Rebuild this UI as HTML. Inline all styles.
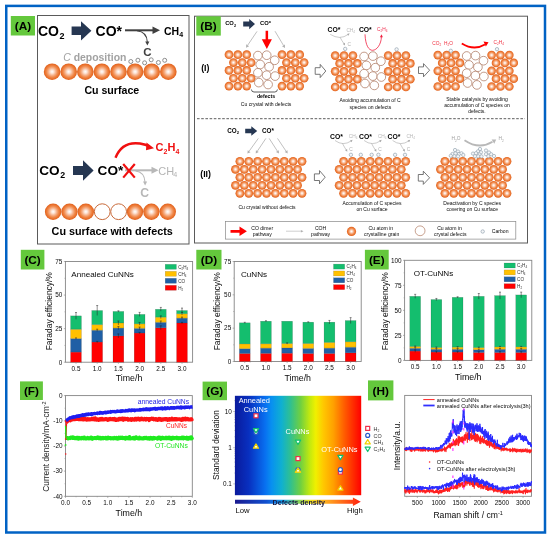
<!DOCTYPE html><html><head><meta charset="utf-8"><style>html,body{margin:0;padding:0;background:#fff;}svg{display:block;filter:blur(0.35px);}text{font-family:"Liberation Sans", sans-serif;}</style></head><body>
<svg width="550" height="538" viewBox="0 0 550 538">
<defs>
<radialGradient id="gb" cx="50%" cy="50%" r="50%">
<stop offset="0%" stop-color="#ffffff"/><stop offset="20%" stop-color="#fce4d6"/><stop offset="45%" stop-color="#f6b088"/><stop offset="68%" stop-color="#f08848"/><stop offset="88%" stop-color="#e96e2a"/><stop offset="100%" stop-color="#dc5f1a"/>
</radialGradient>
<linearGradient id="jet" x1="0" x2="1" y1="0" y2="0">
<stop offset="0%" stop-color="#0a1a9c"/><stop offset="11%" stop-color="#0830c0"/><stop offset="24%" stop-color="#0870f0"/><stop offset="29%" stop-color="#0890f0"/><stop offset="37%" stop-color="#10b0d0"/><stop offset="44%" stop-color="#30c090"/><stop offset="52%" stop-color="#70d040"/><stop offset="59%" stop-color="#c0e810"/><stop offset="64%" stop-color="#f0f000"/><stop offset="70%" stop-color="#ffc800"/><stop offset="78%" stop-color="#ffa000"/><stop offset="87%" stop-color="#ff5a00"/><stop offset="100%" stop-color="#ff0000"/>
</linearGradient>
<linearGradient id="jetarrow" x1="0" x2="1" y1="0" y2="0">
<stop offset="0%" stop-color="#1a1a90"/><stop offset="25%" stop-color="#1050d0"/><stop offset="38%" stop-color="#10a0f0"/><stop offset="50%" stop-color="#80d060"/><stop offset="60%" stop-color="#f0e020"/><stop offset="75%" stop-color="#ffa020"/><stop offset="100%" stop-color="#ff2010"/>
</linearGradient>
<linearGradient id="gwhite" x1="0" x2="0" y1="0" y2="1">
<stop offset="0%" stop-color="#fff" stop-opacity="0.25"/><stop offset="25%" stop-color="#fff" stop-opacity="0"/>
</linearGradient>
</defs>
<rect x="6.25" y="5.9" width="538.75" height="526.6" fill="none" stroke="#0062c4" stroke-width="2.5"/>
<rect x="10.8" y="16" width="24.2" height="19.5" fill="#64c83c"/>
<text x="22.9" y="29.85" font-size="11.8" fill="#000" font-weight="bold" text-anchor="middle" >(A)</text>
<rect x="37.5" y="15.5" width="151.5" height="228.5" fill="none" stroke="#5a5a5a" stroke-width="1"/>
<text x="38" y="36" font-size="14" fill="#000" font-weight="bold" text-anchor="start" >CO</text>
<text x="59.5" y="39" font-size="9" fill="#000" font-weight="bold" text-anchor="start" >2</text>
<polygon points="71.60,26.50 81.00,26.50 81.00,21.20 91.40,30.80 81.00,40.40 81.00,35.10 71.60,35.10" fill="#263752"/>
<text x="95.6" y="36" font-size="14" fill="#000" font-weight="bold" text-anchor="start" >CO*</text>
<line x1="125" y1="30.3" x2="155" y2="30.3" stroke="#404040" stroke-width="2"/>
<polygon points="152.5,26.6 160,30.3 152.5,34" fill="#404040"/>
<text x="164" y="34.5" font-size="10.5" fill="#000" font-weight="bold" text-anchor="start" >CH</text>
<text x="179.3" y="37" font-size="7" fill="#000" font-weight="bold" text-anchor="start" >4</text>
<path d="M137,30.8 Q147,32 147.3,42" fill="none" stroke="#404040" stroke-width="1.1"/>
<polygon points="145.2,41.5 147.4,45.5 149.4,41.5" fill="#404040"/>
<text x="143.2" y="56.3" font-size="11.5" fill="#404040" font-weight="bold" text-anchor="start" >C</text>
<text x="63.2" y="60.5" font-size="11.2" fill="#a2a2a2" font-weight="bold" text-anchor="start" textLength="63.2" lengthAdjust="spacingAndGlyphs"><tspan font-style="italic" font-weight="normal">C</tspan> deposition</text>
<circle cx="130.8" cy="61.5" r="2.0" fill="#fff" stroke="#8c8c8c" stroke-width="1.0"/>
<circle cx="137.9" cy="60.2" r="2.0" fill="#fff" stroke="#8c8c8c" stroke-width="1.0"/>
<circle cx="144.6" cy="62.8" r="2.0" fill="#fff" stroke="#8c8c8c" stroke-width="1.0"/>
<circle cx="151.2" cy="59.8" r="2.0" fill="#fff" stroke="#8c8c8c" stroke-width="1.0"/>
<circle cx="158.4" cy="62.5" r="2.0" fill="#fff" stroke="#8c8c8c" stroke-width="1.0"/>
<circle cx="164.7" cy="60.3" r="2.0" fill="#fff" stroke="#8c8c8c" stroke-width="1.0"/>
<circle cx="52.10" cy="71.70" r="8.3" fill="url(#gb)"/>
<circle cx="68.70" cy="71.70" r="8.3" fill="url(#gb)"/>
<circle cx="85.30" cy="71.70" r="8.3" fill="url(#gb)"/>
<circle cx="101.90" cy="71.70" r="8.3" fill="url(#gb)"/>
<circle cx="118.50" cy="71.70" r="8.3" fill="url(#gb)"/>
<circle cx="135.10" cy="71.70" r="8.3" fill="url(#gb)"/>
<circle cx="151.70" cy="71.70" r="8.3" fill="url(#gb)"/>
<circle cx="168.30" cy="71.70" r="8.3" fill="url(#gb)"/>
<text x="111.8" y="94" font-size="10.6" fill="#000" font-weight="bold" text-anchor="middle" >Cu surface</text>
<text x="39.2" y="175" font-size="13.6" fill="#000" font-weight="bold" text-anchor="start" >CO</text>
<text x="60.2" y="178" font-size="8.8" fill="#000" font-weight="bold" text-anchor="start" >2</text>
<polygon points="73.00,166.00 83.00,166.00 83.00,160.25 93.60,170.50 83.00,180.75 83.00,175.00 73.00,175.00" fill="#263752"/>
<text x="97.6" y="175" font-size="13.6" fill="#000" font-weight="bold" text-anchor="start" >CO*</text>
<line x1="125" y1="170.3" x2="153" y2="170.3" stroke="#b8b8b8" stroke-width="2"/>
<polygon points="151.5,166.8 158.5,170.3 151.5,173.8" fill="#b8b8b8"/>
<text x="158.2" y="174.6" font-size="11" fill="#b4b4b4" font-weight="normal" text-anchor="start" >CH</text>
<text x="173.2" y="177.2" font-size="7.2" fill="#b4b4b4" font-weight="normal" text-anchor="start" >4</text>
<path d="M135.5,171 Q144.5,172 145,182" fill="none" stroke="#b8b8b8" stroke-width="1.1"/>
<polygon points="143,181.5 145.1,185.5 147.1,181.5" fill="#b8b8b8"/>
<text x="140.2" y="196.6" font-size="12.2" fill="#b8b8b8" font-weight="bold" text-anchor="start" >C</text>
<path d="M123.2,164 L134.8,177.6 M134.8,164 L123.2,177.6" stroke="#f01010" stroke-width="2.2"/>
<path d="M115.5,157.8 Q122,141 140,143.5 Q146,144.5 149.5,146.5" fill="none" stroke="#f01010" stroke-width="2.4"/>
<polygon points="146.5,142.5 154,148.2 146,150.2" fill="#f01010"/>
<text x="155.6" y="151.3" font-size="11" fill="#f01010" font-weight="bold" text-anchor="start" >C</text>
<text x="163.6" y="153.5" font-size="7" fill="#f01010" font-weight="bold" text-anchor="start" >2</text>
<text x="167.5" y="151.3" font-size="11" fill="#f01010" font-weight="bold" text-anchor="start" >H</text>
<text x="175.6" y="153.5" font-size="7" fill="#f01010" font-weight="bold" text-anchor="start" >4</text>
<circle cx="53.10" cy="211.70" r="8.2" fill="url(#gb)"/>
<circle cx="69.48" cy="211.70" r="8.2" fill="url(#gb)"/>
<circle cx="85.86" cy="211.70" r="8.2" fill="url(#gb)"/>
<circle cx="102.24" cy="211.70" r="7.9" fill="#fff" stroke="#c86a3a" stroke-width="1.0"/>
<circle cx="118.62" cy="211.70" r="7.9" fill="#fff" stroke="#c86a3a" stroke-width="1.0"/>
<circle cx="135.00" cy="211.70" r="8.2" fill="url(#gb)"/>
<circle cx="151.38" cy="211.70" r="8.2" fill="url(#gb)"/>
<circle cx="167.76" cy="211.70" r="8.2" fill="url(#gb)"/>
<text x="112.2" y="235" font-size="10.8" fill="#000" font-weight="bold" text-anchor="middle" >Cu surface with defects</text>
<rect x="194.5" y="16.2" width="333" height="226.8" fill="none" stroke="#5a5a5a" stroke-width="1"/>
<rect x="196.3" y="16.3" width="24.5" height="19.3" fill="#64c83c"/>
<text x="208.55" y="30.050000000000004" font-size="11.8" fill="#000" font-weight="bold" text-anchor="middle" >(B)</text>
<line x1="197" y1="118.7" x2="525" y2="118.7" stroke="#333" stroke-width="0.8" stroke-dasharray="2.6,1.6"/>
<text x="205.3" y="71.0" font-size="8.8" fill="#000" font-weight="bold" text-anchor="middle" >(I)</text>
<text x="205.6" y="176.7" font-size="8.8" fill="#000" font-weight="bold" text-anchor="middle" >(II)</text>
<text x="225.2" y="25.4" font-size="5.8" fill="#000" font-weight="bold" text-anchor="start" ><tspan dy="0.00">CO</tspan><tspan font-size="3.77" dy="1.45">2</tspan></text>
<polygon points="243.20,21.60 249.20,21.60 249.20,19.00 255.00,24.10 249.20,29.20 249.20,26.60 243.20,26.60" fill="#263752"/>
<text x="260" y="25.4" font-size="5.8" fill="#000" font-weight="bold" text-anchor="start" >CO*</text>
<line x1="257.00" y1="31.40" x2="247.68" y2="45.21" stroke="#b0b0b0" stroke-width="0.8"/>
<polygon points="246.00,47.70 246.27,44.26 249.09,46.16" fill="#b0b0b0"/>
<line x1="275.00" y1="31.20" x2="283.47" y2="45.42" stroke="#b0b0b0" stroke-width="0.8"/>
<polygon points="285.00,48.00 282.00,46.29 284.93,44.55" fill="#b0b0b0"/>
<polygon points="265.6,30.8 268.1,30.8 268.1,39.2 271.9,39.2 266.85,49.1 261.8,39.2 265.6,39.2" fill="#f00"/>
<circle cx="229.00" cy="54.70" r="4.35" fill="url(#gb)"/>
<circle cx="237.85" cy="54.70" r="4.35" fill="url(#gb)"/>
<circle cx="246.70" cy="54.70" r="4.35" fill="url(#gb)"/>
<circle cx="233.43" cy="62.55" r="4.35" fill="url(#gb)"/>
<circle cx="242.28" cy="62.55" r="4.35" fill="url(#gb)"/>
<circle cx="251.12" cy="62.55" r="4.35" fill="url(#gb)"/>
<circle cx="229.00" cy="70.40" r="4.35" fill="url(#gb)"/>
<circle cx="237.85" cy="70.40" r="4.35" fill="url(#gb)"/>
<circle cx="246.70" cy="70.40" r="4.35" fill="url(#gb)"/>
<circle cx="233.43" cy="78.25" r="4.35" fill="url(#gb)"/>
<circle cx="242.28" cy="78.25" r="4.35" fill="url(#gb)"/>
<circle cx="251.12" cy="78.25" r="4.35" fill="url(#gb)"/>
<circle cx="229.00" cy="86.10" r="4.35" fill="url(#gb)"/>
<circle cx="237.85" cy="86.10" r="4.35" fill="url(#gb)"/>
<circle cx="246.70" cy="86.10" r="4.35" fill="url(#gb)"/>
<circle cx="282.00" cy="54.70" r="4.35" fill="url(#gb)"/>
<circle cx="290.85" cy="54.70" r="4.35" fill="url(#gb)"/>
<circle cx="299.70" cy="54.70" r="4.35" fill="url(#gb)"/>
<circle cx="286.43" cy="62.55" r="4.35" fill="url(#gb)"/>
<circle cx="295.28" cy="62.55" r="4.35" fill="url(#gb)"/>
<circle cx="304.12" cy="62.55" r="4.35" fill="url(#gb)"/>
<circle cx="282.00" cy="70.40" r="4.35" fill="url(#gb)"/>
<circle cx="290.85" cy="70.40" r="4.35" fill="url(#gb)"/>
<circle cx="299.70" cy="70.40" r="4.35" fill="url(#gb)"/>
<circle cx="286.43" cy="78.25" r="4.35" fill="url(#gb)"/>
<circle cx="295.28" cy="78.25" r="4.35" fill="url(#gb)"/>
<circle cx="304.12" cy="78.25" r="4.35" fill="url(#gb)"/>
<circle cx="282.00" cy="86.10" r="4.35" fill="url(#gb)"/>
<circle cx="290.85" cy="86.10" r="4.35" fill="url(#gb)"/>
<circle cx="299.70" cy="86.10" r="4.35" fill="url(#gb)"/>
<circle cx="257.90" cy="55.60" r="4.35" fill="#fff" stroke="#a86e55" stroke-width="0.7"/>
<circle cx="266.70" cy="55.20" r="4.35" fill="#fff" stroke="#a86e55" stroke-width="0.7"/>
<circle cx="274.70" cy="60.30" r="4.35" fill="#fff" stroke="#a86e55" stroke-width="0.7"/>
<circle cx="260.20" cy="64.50" r="4.35" fill="#fff" stroke="#a86e55" stroke-width="0.7"/>
<circle cx="269.10" cy="66.80" r="4.35" fill="#fff" stroke="#a86e55" stroke-width="0.7"/>
<circle cx="257.90" cy="72.80" r="4.35" fill="#fff" stroke="#a86e55" stroke-width="0.7"/>
<circle cx="266.60" cy="75.20" r="4.35" fill="#fff" stroke="#a86e55" stroke-width="0.7"/>
<circle cx="275.10" cy="76.10" r="4.35" fill="#fff" stroke="#a86e55" stroke-width="0.7"/>
<circle cx="258.80" cy="82.60" r="4.35" fill="#fff" stroke="#a86e55" stroke-width="0.7"/>
<circle cx="268.10" cy="84.50" r="4.35" fill="#fff" stroke="#a86e55" stroke-width="0.7"/>
<path d="M251.4,89.5 Q251.6,92 254,92 L274.8,92 Q277.2,92 277.4,89.5" fill="none" stroke="#333" stroke-width="0.8"/>
<text x="266" y="97.6" font-size="5.2" fill="#000" font-weight="bold" text-anchor="middle" >defects</text>
<text x="266.1" y="106.4" font-size="5.05" fill="#0a0a0a" font-weight="normal" text-anchor="middle" >Cu crystal with defects</text>
<polygon points="315.20,67.70 320.20,67.70 320.20,64.40 325.80,71.00 320.20,77.60 320.20,74.30 315.20,74.30" fill="#fff" stroke="#555" stroke-width="0.8"/>
<circle cx="335.20" cy="55.60" r="4.35" fill="url(#gb)"/>
<circle cx="344.05" cy="55.60" r="4.35" fill="url(#gb)"/>
<circle cx="352.90" cy="55.60" r="4.35" fill="url(#gb)"/>
<circle cx="339.62" cy="63.45" r="4.35" fill="url(#gb)"/>
<circle cx="348.48" cy="63.45" r="4.35" fill="url(#gb)"/>
<circle cx="357.32" cy="63.45" r="4.35" fill="url(#gb)"/>
<circle cx="335.20" cy="71.30" r="4.35" fill="url(#gb)"/>
<circle cx="344.05" cy="71.30" r="4.35" fill="url(#gb)"/>
<circle cx="352.90" cy="71.30" r="4.35" fill="url(#gb)"/>
<circle cx="339.62" cy="79.15" r="4.35" fill="url(#gb)"/>
<circle cx="348.48" cy="79.15" r="4.35" fill="url(#gb)"/>
<circle cx="357.32" cy="79.15" r="4.35" fill="url(#gb)"/>
<circle cx="335.20" cy="87.00" r="4.35" fill="url(#gb)"/>
<circle cx="344.05" cy="87.00" r="4.35" fill="url(#gb)"/>
<circle cx="352.90" cy="87.00" r="4.35" fill="url(#gb)"/>
<circle cx="388.20" cy="55.60" r="4.35" fill="url(#gb)"/>
<circle cx="397.05" cy="55.60" r="4.35" fill="url(#gb)"/>
<circle cx="405.90" cy="55.60" r="4.35" fill="url(#gb)"/>
<circle cx="392.62" cy="63.45" r="4.35" fill="url(#gb)"/>
<circle cx="401.48" cy="63.45" r="4.35" fill="url(#gb)"/>
<circle cx="410.32" cy="63.45" r="4.35" fill="url(#gb)"/>
<circle cx="388.20" cy="71.30" r="4.35" fill="url(#gb)"/>
<circle cx="397.05" cy="71.30" r="4.35" fill="url(#gb)"/>
<circle cx="405.90" cy="71.30" r="4.35" fill="url(#gb)"/>
<circle cx="392.62" cy="79.15" r="4.35" fill="url(#gb)"/>
<circle cx="401.48" cy="79.15" r="4.35" fill="url(#gb)"/>
<circle cx="410.32" cy="79.15" r="4.35" fill="url(#gb)"/>
<circle cx="388.20" cy="87.00" r="4.35" fill="url(#gb)"/>
<circle cx="397.05" cy="87.00" r="4.35" fill="url(#gb)"/>
<circle cx="405.90" cy="87.00" r="4.35" fill="url(#gb)"/>
<circle cx="364.10" cy="56.50" r="4.35" fill="#fff" stroke="#a86e55" stroke-width="0.7"/>
<circle cx="372.90" cy="56.10" r="4.35" fill="#fff" stroke="#a86e55" stroke-width="0.7"/>
<circle cx="380.90" cy="61.20" r="4.35" fill="#fff" stroke="#a86e55" stroke-width="0.7"/>
<circle cx="366.40" cy="65.40" r="4.35" fill="#fff" stroke="#a86e55" stroke-width="0.7"/>
<circle cx="375.30" cy="67.70" r="4.35" fill="#fff" stroke="#a86e55" stroke-width="0.7"/>
<circle cx="364.10" cy="73.70" r="4.35" fill="#fff" stroke="#a86e55" stroke-width="0.7"/>
<circle cx="372.80" cy="76.10" r="4.35" fill="#fff" stroke="#a86e55" stroke-width="0.7"/>
<circle cx="381.30" cy="77.00" r="4.35" fill="#fff" stroke="#a86e55" stroke-width="0.7"/>
<circle cx="365.00" cy="83.50" r="4.35" fill="#fff" stroke="#a86e55" stroke-width="0.7"/>
<circle cx="374.30" cy="85.40" r="4.35" fill="#fff" stroke="#a86e55" stroke-width="0.7"/>
<text x="327.5" y="32" font-size="6.8" fill="#000" font-weight="bold" text-anchor="start" >CO*</text>
<text x="346.4" y="31.6" font-size="4.8" fill="#b8b8b8" font-weight="normal" text-anchor="start" ><tspan dy="0.00">CH</tspan><tspan font-size="3.12" dy="1.20">4</tspan></text>
<path d="M330.2,34.3 Q340,40.5 348.2,34.4" fill="none" stroke="#a8a8a8" stroke-width="0.6"/>
<polygon points="349.60,33.30 348.53,35.76 346.99,33.92" fill="#a8a8a8"/>
<path d="M340,37.2 Q342,41 344.2,44" fill="none" stroke="#a8a8a8" stroke-width="0.6"/>
<polygon points="345.00,45.50 342.76,44.02 344.84,42.82" fill="#a8a8a8"/>
<text x="347.6" y="46.2" font-size="4.8" fill="#b0b0b0" font-weight="normal" text-anchor="start" >C</text>
<circle cx="345.20" cy="48.90" r="1.7" fill="#f4f6f8" stroke="#95a4b0" stroke-width="0.7"/>
<text x="358.9" y="32" font-size="6.8" fill="#000" font-weight="bold" text-anchor="start" >CO*</text>
<text x="377" y="31.2" font-size="4.8" fill="#f03050" font-weight="normal" text-anchor="start" ><tspan dy="0.00">C</tspan><tspan font-size="3.12" dy="1.20">2</tspan><tspan dy="-1.20">H</tspan><tspan font-size="3.12" dy="1.20">4</tspan></text>
<path d="M365,34.3 C365.5,46 369,50.3 372.5,50.3 C377,50.3 381.2,44 381.4,37" fill="none" stroke="#f02040" stroke-width="0.8"/>
<polygon points="381.50,34.20 382.89,37.25 379.90,37.15" fill="#f02040"/>
<circle cx="396.60" cy="49.40" r="1.7" fill="#f4f6f8" stroke="#95a4b0" stroke-width="0.7"/>
<text x="370.1" y="102.4" font-size="5.05" fill="#0a0a0a" font-weight="normal" text-anchor="middle" >Avoiding accumulation of C</text>
<text x="370.3" y="108.8" font-size="5.05" fill="#0a0a0a" font-weight="normal" text-anchor="middle" >species on defects</text>
<polygon points="418.50,66.90 423.50,66.90 423.50,63.60 429.60,70.20 423.50,76.80 423.50,73.50 418.50,73.50" fill="#fff" stroke="#555" stroke-width="0.8"/>
<circle cx="437.80" cy="55.10" r="4.35" fill="url(#gb)"/>
<circle cx="446.65" cy="55.10" r="4.35" fill="url(#gb)"/>
<circle cx="455.50" cy="55.10" r="4.35" fill="url(#gb)"/>
<circle cx="442.23" cy="62.95" r="4.35" fill="url(#gb)"/>
<circle cx="451.08" cy="62.95" r="4.35" fill="url(#gb)"/>
<circle cx="459.93" cy="62.95" r="4.35" fill="url(#gb)"/>
<circle cx="437.80" cy="70.80" r="4.35" fill="url(#gb)"/>
<circle cx="446.65" cy="70.80" r="4.35" fill="url(#gb)"/>
<circle cx="455.50" cy="70.80" r="4.35" fill="url(#gb)"/>
<circle cx="442.23" cy="78.65" r="4.35" fill="url(#gb)"/>
<circle cx="451.08" cy="78.65" r="4.35" fill="url(#gb)"/>
<circle cx="459.93" cy="78.65" r="4.35" fill="url(#gb)"/>
<circle cx="437.80" cy="86.50" r="4.35" fill="url(#gb)"/>
<circle cx="446.65" cy="86.50" r="4.35" fill="url(#gb)"/>
<circle cx="455.50" cy="86.50" r="4.35" fill="url(#gb)"/>
<circle cx="491.60" cy="55.10" r="4.35" fill="url(#gb)"/>
<circle cx="500.45" cy="55.10" r="4.35" fill="url(#gb)"/>
<circle cx="509.30" cy="55.10" r="4.35" fill="url(#gb)"/>
<circle cx="496.03" cy="62.95" r="4.35" fill="url(#gb)"/>
<circle cx="504.88" cy="62.95" r="4.35" fill="url(#gb)"/>
<circle cx="513.73" cy="62.95" r="4.35" fill="url(#gb)"/>
<circle cx="491.60" cy="70.80" r="4.35" fill="url(#gb)"/>
<circle cx="500.45" cy="70.80" r="4.35" fill="url(#gb)"/>
<circle cx="509.30" cy="70.80" r="4.35" fill="url(#gb)"/>
<circle cx="496.03" cy="78.65" r="4.35" fill="url(#gb)"/>
<circle cx="504.88" cy="78.65" r="4.35" fill="url(#gb)"/>
<circle cx="513.73" cy="78.65" r="4.35" fill="url(#gb)"/>
<circle cx="491.60" cy="86.50" r="4.35" fill="url(#gb)"/>
<circle cx="500.45" cy="86.50" r="4.35" fill="url(#gb)"/>
<circle cx="509.30" cy="86.50" r="4.35" fill="url(#gb)"/>
<circle cx="466.70" cy="56.00" r="4.35" fill="#fff" stroke="#a86e55" stroke-width="0.7"/>
<circle cx="475.50" cy="55.60" r="4.35" fill="#fff" stroke="#a86e55" stroke-width="0.7"/>
<circle cx="483.50" cy="60.70" r="4.35" fill="#fff" stroke="#a86e55" stroke-width="0.7"/>
<circle cx="469.00" cy="64.90" r="4.35" fill="#fff" stroke="#a86e55" stroke-width="0.7"/>
<circle cx="477.90" cy="67.20" r="4.35" fill="#fff" stroke="#a86e55" stroke-width="0.7"/>
<circle cx="466.70" cy="73.20" r="4.35" fill="#fff" stroke="#a86e55" stroke-width="0.7"/>
<circle cx="475.40" cy="75.60" r="4.35" fill="#fff" stroke="#a86e55" stroke-width="0.7"/>
<circle cx="483.90" cy="76.50" r="4.35" fill="#fff" stroke="#a86e55" stroke-width="0.7"/>
<circle cx="467.60" cy="83.00" r="4.35" fill="#fff" stroke="#a86e55" stroke-width="0.7"/>
<circle cx="476.90" cy="84.90" r="4.35" fill="#fff" stroke="#a86e55" stroke-width="0.7"/>
<text x="432.3" y="45" font-size="4.8" fill="#f03040" font-weight="normal" text-anchor="start" ><tspan dy="0.00">CO</tspan><tspan font-size="3.12" dy="1.20">2</tspan></text>
<text x="444" y="45" font-size="4.8" fill="#f03040" font-weight="normal" text-anchor="start" ><tspan dy="0.00">H</tspan><tspan font-size="3.12" dy="1.20">2</tspan><tspan dy="-1.20">O</tspan></text>
<path d="M461.8,43.5 Q474,51 485,44.5" fill="none" stroke="#f00" stroke-width="2"/>
<polygon points="488.50,42.20 485.88,46.51 483.51,41.44" fill="#f00"/>
<text x="493.6" y="44" font-size="4.8" fill="#f03040" font-weight="normal" text-anchor="start" ><tspan dy="0.00">C</tspan><tspan font-size="3.12" dy="1.20">2</tspan><tspan dy="-1.20">H</tspan><tspan font-size="3.12" dy="1.20">4</tspan></text>
<circle cx="450.80" cy="50.80" r="1.7" fill="#f4f6f8" stroke="#95a4b0" stroke-width="0.7"/>
<circle cx="497.00" cy="49.20" r="1.7" fill="#f4f6f8" stroke="#95a4b0" stroke-width="0.7"/>
<text x="477" y="100.6" font-size="5.03" fill="#0a0a0a" font-weight="normal" text-anchor="middle" >Stable catalysis by  avoiding</text>
<text x="477" y="106.6" font-size="5.03" fill="#0a0a0a" font-weight="normal" text-anchor="middle" >accumulation of C species on</text>
<text x="477" y="112.6" font-size="5.03" fill="#0a0a0a" font-weight="normal" text-anchor="middle" >defects.</text>
<text x="227.2" y="132.8" font-size="6.3" fill="#000" font-weight="bold" text-anchor="start" ><tspan dy="0.00">CO</tspan><tspan font-size="4.09" dy="1.57">2</tspan></text>
<polygon points="245.20,128.70 251.30,128.70 251.30,126.30 257.20,131.00 251.30,135.70 251.30,133.30 245.20,133.30" fill="#263752"/>
<text x="262" y="132.8" font-size="6.3" fill="#000" font-weight="bold" text-anchor="start" >CO*</text>
<line x1="258.30" y1="138.40" x2="249.15" y2="151.16" stroke="#b0b0b0" stroke-width="0.8"/>
<polygon points="247.40,153.60 247.77,150.17 250.53,152.15" fill="#b0b0b0"/>
<line x1="265.90" y1="138.40" x2="257.37" y2="151.11" stroke="#b0b0b0" stroke-width="0.8"/>
<polygon points="255.70,153.60 255.96,150.16 258.78,152.06" fill="#b0b0b0"/>
<line x1="269.20" y1="138.40" x2="277.37" y2="151.08" stroke="#b0b0b0" stroke-width="0.8"/>
<polygon points="279.00,153.60 275.95,152.00 278.80,150.16" fill="#b0b0b0"/>
<line x1="277.50" y1="138.40" x2="286.03" y2="151.11" stroke="#b0b0b0" stroke-width="0.8"/>
<polygon points="287.70,153.60 284.62,152.06 287.44,150.16" fill="#b0b0b0"/>
<circle cx="239.90" cy="161.30" r="4.4" fill="url(#gb)"/>
<circle cx="248.77" cy="161.30" r="4.4" fill="url(#gb)"/>
<circle cx="257.64" cy="161.30" r="4.4" fill="url(#gb)"/>
<circle cx="266.51" cy="161.30" r="4.4" fill="url(#gb)"/>
<circle cx="275.38" cy="161.30" r="4.4" fill="url(#gb)"/>
<circle cx="284.25" cy="161.30" r="4.4" fill="url(#gb)"/>
<circle cx="293.12" cy="161.30" r="4.4" fill="url(#gb)"/>
<circle cx="301.99" cy="161.30" r="4.4" fill="url(#gb)"/>
<circle cx="235.47" cy="169.30" r="4.4" fill="url(#gb)"/>
<circle cx="244.34" cy="169.30" r="4.4" fill="url(#gb)"/>
<circle cx="253.21" cy="169.30" r="4.4" fill="url(#gb)"/>
<circle cx="262.07" cy="169.30" r="4.4" fill="url(#gb)"/>
<circle cx="270.94" cy="169.30" r="4.4" fill="url(#gb)"/>
<circle cx="279.81" cy="169.30" r="4.4" fill="url(#gb)"/>
<circle cx="288.69" cy="169.30" r="4.4" fill="url(#gb)"/>
<circle cx="297.56" cy="169.30" r="4.4" fill="url(#gb)"/>
<circle cx="239.90" cy="177.30" r="4.4" fill="url(#gb)"/>
<circle cx="248.77" cy="177.30" r="4.4" fill="url(#gb)"/>
<circle cx="257.64" cy="177.30" r="4.4" fill="url(#gb)"/>
<circle cx="266.51" cy="177.30" r="4.4" fill="url(#gb)"/>
<circle cx="275.38" cy="177.30" r="4.4" fill="url(#gb)"/>
<circle cx="284.25" cy="177.30" r="4.4" fill="url(#gb)"/>
<circle cx="293.12" cy="177.30" r="4.4" fill="url(#gb)"/>
<circle cx="301.99" cy="177.30" r="4.4" fill="url(#gb)"/>
<circle cx="235.47" cy="185.30" r="4.4" fill="url(#gb)"/>
<circle cx="244.34" cy="185.30" r="4.4" fill="url(#gb)"/>
<circle cx="253.21" cy="185.30" r="4.4" fill="url(#gb)"/>
<circle cx="262.07" cy="185.30" r="4.4" fill="url(#gb)"/>
<circle cx="270.94" cy="185.30" r="4.4" fill="url(#gb)"/>
<circle cx="279.81" cy="185.30" r="4.4" fill="url(#gb)"/>
<circle cx="288.69" cy="185.30" r="4.4" fill="url(#gb)"/>
<circle cx="297.56" cy="185.30" r="4.4" fill="url(#gb)"/>
<circle cx="239.90" cy="193.30" r="4.4" fill="url(#gb)"/>
<circle cx="248.77" cy="193.30" r="4.4" fill="url(#gb)"/>
<circle cx="257.64" cy="193.30" r="4.4" fill="url(#gb)"/>
<circle cx="266.51" cy="193.30" r="4.4" fill="url(#gb)"/>
<circle cx="275.38" cy="193.30" r="4.4" fill="url(#gb)"/>
<circle cx="284.25" cy="193.30" r="4.4" fill="url(#gb)"/>
<circle cx="293.12" cy="193.30" r="4.4" fill="url(#gb)"/>
<circle cx="301.99" cy="193.30" r="4.4" fill="url(#gb)"/>
<text x="267" y="209.3" font-size="5.03" fill="#0a0a0a" font-weight="normal" text-anchor="middle" >Cu crystal without defects</text>
<polygon points="314.40,173.90 319.50,173.90 319.50,170.60 325.20,177.20 319.50,183.80 319.50,180.50 314.40,180.50" fill="#fff" stroke="#555" stroke-width="0.8"/>
<circle cx="343.60" cy="161.30" r="4.4" fill="url(#gb)"/>
<circle cx="352.47" cy="161.30" r="4.4" fill="url(#gb)"/>
<circle cx="361.34" cy="161.30" r="4.4" fill="url(#gb)"/>
<circle cx="370.21" cy="161.30" r="4.4" fill="url(#gb)"/>
<circle cx="379.08" cy="161.30" r="4.4" fill="url(#gb)"/>
<circle cx="387.95" cy="161.30" r="4.4" fill="url(#gb)"/>
<circle cx="396.82" cy="161.30" r="4.4" fill="url(#gb)"/>
<circle cx="405.69" cy="161.30" r="4.4" fill="url(#gb)"/>
<circle cx="339.17" cy="169.30" r="4.4" fill="url(#gb)"/>
<circle cx="348.04" cy="169.30" r="4.4" fill="url(#gb)"/>
<circle cx="356.91" cy="169.30" r="4.4" fill="url(#gb)"/>
<circle cx="365.78" cy="169.30" r="4.4" fill="url(#gb)"/>
<circle cx="374.65" cy="169.30" r="4.4" fill="url(#gb)"/>
<circle cx="383.51" cy="169.30" r="4.4" fill="url(#gb)"/>
<circle cx="392.38" cy="169.30" r="4.4" fill="url(#gb)"/>
<circle cx="401.25" cy="169.30" r="4.4" fill="url(#gb)"/>
<circle cx="343.60" cy="177.30" r="4.4" fill="url(#gb)"/>
<circle cx="352.47" cy="177.30" r="4.4" fill="url(#gb)"/>
<circle cx="361.34" cy="177.30" r="4.4" fill="url(#gb)"/>
<circle cx="370.21" cy="177.30" r="4.4" fill="url(#gb)"/>
<circle cx="379.08" cy="177.30" r="4.4" fill="url(#gb)"/>
<circle cx="387.95" cy="177.30" r="4.4" fill="url(#gb)"/>
<circle cx="396.82" cy="177.30" r="4.4" fill="url(#gb)"/>
<circle cx="405.69" cy="177.30" r="4.4" fill="url(#gb)"/>
<circle cx="339.17" cy="185.30" r="4.4" fill="url(#gb)"/>
<circle cx="348.04" cy="185.30" r="4.4" fill="url(#gb)"/>
<circle cx="356.91" cy="185.30" r="4.4" fill="url(#gb)"/>
<circle cx="365.78" cy="185.30" r="4.4" fill="url(#gb)"/>
<circle cx="374.65" cy="185.30" r="4.4" fill="url(#gb)"/>
<circle cx="383.51" cy="185.30" r="4.4" fill="url(#gb)"/>
<circle cx="392.38" cy="185.30" r="4.4" fill="url(#gb)"/>
<circle cx="401.25" cy="185.30" r="4.4" fill="url(#gb)"/>
<circle cx="343.60" cy="193.30" r="4.4" fill="url(#gb)"/>
<circle cx="352.47" cy="193.30" r="4.4" fill="url(#gb)"/>
<circle cx="361.34" cy="193.30" r="4.4" fill="url(#gb)"/>
<circle cx="370.21" cy="193.30" r="4.4" fill="url(#gb)"/>
<circle cx="379.08" cy="193.30" r="4.4" fill="url(#gb)"/>
<circle cx="387.95" cy="193.30" r="4.4" fill="url(#gb)"/>
<circle cx="396.82" cy="193.30" r="4.4" fill="url(#gb)"/>
<circle cx="405.69" cy="193.30" r="4.4" fill="url(#gb)"/>
<text x="330" y="138.5" font-size="6.8" fill="#000" font-weight="bold" text-anchor="start" >CO*</text>
<text x="348.8" y="138" font-size="4.8" fill="#b8b8b8" font-weight="normal" text-anchor="start" ><tspan dy="0.00">CH</tspan><tspan font-size="3.12" dy="1.20">4</tspan></text>
<path d="M335,140.5 Q343,146.5 351.3,140.9" fill="none" stroke="#a8a8a8" stroke-width="0.6"/>
<polygon points="352.60,139.80 351.53,142.26 349.99,140.42" fill="#a8a8a8"/>
<path d="M342.5,143.5 Q344.5,147.5 346.4,150.2" fill="none" stroke="#a8a8a8" stroke-width="0.6"/>
<polygon points="347.30,151.80 345.06,150.32 347.14,149.12" fill="#a8a8a8"/>
<text x="349.2" y="151.4" font-size="4.8" fill="#b0b0b0" font-weight="normal" text-anchor="start" >C</text>
<text x="359.1" y="138.5" font-size="6.8" fill="#000" font-weight="bold" text-anchor="start" >CO*</text>
<text x="377.90000000000003" y="138" font-size="4.8" fill="#b8b8b8" font-weight="normal" text-anchor="start" ><tspan dy="0.00">CH</tspan><tspan font-size="3.12" dy="1.20">4</tspan></text>
<path d="M364.1,140.5 Q372.1,146.5 380.40000000000003,140.9" fill="none" stroke="#a8a8a8" stroke-width="0.6"/>
<polygon points="381.70,139.80 380.63,142.26 379.09,140.42" fill="#a8a8a8"/>
<path d="M371.6,143.5 Q373.6,147.5 375.5,150.2" fill="none" stroke="#a8a8a8" stroke-width="0.6"/>
<polygon points="376.40,151.80 374.16,150.32 376.24,149.12" fill="#a8a8a8"/>
<text x="378.3" y="151.4" font-size="4.8" fill="#b0b0b0" font-weight="normal" text-anchor="start" >C</text>
<text x="387.6" y="138.5" font-size="6.8" fill="#000" font-weight="bold" text-anchor="start" >CO*</text>
<text x="406.40000000000003" y="138" font-size="4.8" fill="#b8b8b8" font-weight="normal" text-anchor="start" ><tspan dy="0.00">CH</tspan><tspan font-size="3.12" dy="1.20">4</tspan></text>
<path d="M392.6,140.5 Q400.6,146.5 408.90000000000003,140.9" fill="none" stroke="#a8a8a8" stroke-width="0.6"/>
<polygon points="410.20,139.80 409.13,142.26 407.59,140.42" fill="#a8a8a8"/>
<path d="M400.1,143.5 Q402.1,147.5 404.0,150.2" fill="none" stroke="#a8a8a8" stroke-width="0.6"/>
<polygon points="404.90,151.80 402.66,150.32 404.74,149.12" fill="#a8a8a8"/>
<text x="406.8" y="151.4" font-size="4.8" fill="#b0b0b0" font-weight="normal" text-anchor="start" >C</text>
<circle cx="350.90" cy="154.80" r="1.7" fill="#f4f6f8" stroke="#95a4b0" stroke-width="0.7"/>
<circle cx="360.80" cy="154.80" r="1.7" fill="#f4f6f8" stroke="#95a4b0" stroke-width="0.7"/>
<circle cx="371.70" cy="154.80" r="1.7" fill="#f4f6f8" stroke="#95a4b0" stroke-width="0.7"/>
<circle cx="378.40" cy="154.80" r="1.7" fill="#f4f6f8" stroke="#95a4b0" stroke-width="0.7"/>
<circle cx="395.10" cy="154.80" r="1.7" fill="#f4f6f8" stroke="#95a4b0" stroke-width="0.7"/>
<circle cx="405.00" cy="154.80" r="1.7" fill="#f4f6f8" stroke="#95a4b0" stroke-width="0.7"/>
<text x="372" y="205.2" font-size="5.03" fill="#0a0a0a" font-weight="normal" text-anchor="middle" >Accumulation of C species</text>
<text x="372" y="211.3" font-size="5.03" fill="#0a0a0a" font-weight="normal" text-anchor="middle" >on Cu surface</text>
<polygon points="418.30,174.50 423.30,174.50 423.30,171.20 429.60,177.80 423.30,184.40 423.30,181.10 418.30,181.10" fill="#fff" stroke="#555" stroke-width="0.8"/>
<circle cx="444.90" cy="161.30" r="4.4" fill="url(#gb)"/>
<circle cx="453.77" cy="161.30" r="4.4" fill="url(#gb)"/>
<circle cx="462.64" cy="161.30" r="4.4" fill="url(#gb)"/>
<circle cx="471.51" cy="161.30" r="4.4" fill="url(#gb)"/>
<circle cx="480.38" cy="161.30" r="4.4" fill="url(#gb)"/>
<circle cx="489.25" cy="161.30" r="4.4" fill="url(#gb)"/>
<circle cx="498.12" cy="161.30" r="4.4" fill="url(#gb)"/>
<circle cx="506.99" cy="161.30" r="4.4" fill="url(#gb)"/>
<circle cx="440.46" cy="169.30" r="4.4" fill="url(#gb)"/>
<circle cx="449.33" cy="169.30" r="4.4" fill="url(#gb)"/>
<circle cx="458.20" cy="169.30" r="4.4" fill="url(#gb)"/>
<circle cx="467.07" cy="169.30" r="4.4" fill="url(#gb)"/>
<circle cx="475.94" cy="169.30" r="4.4" fill="url(#gb)"/>
<circle cx="484.81" cy="169.30" r="4.4" fill="url(#gb)"/>
<circle cx="493.68" cy="169.30" r="4.4" fill="url(#gb)"/>
<circle cx="502.55" cy="169.30" r="4.4" fill="url(#gb)"/>
<circle cx="444.90" cy="177.30" r="4.4" fill="url(#gb)"/>
<circle cx="453.77" cy="177.30" r="4.4" fill="url(#gb)"/>
<circle cx="462.64" cy="177.30" r="4.4" fill="url(#gb)"/>
<circle cx="471.51" cy="177.30" r="4.4" fill="url(#gb)"/>
<circle cx="480.38" cy="177.30" r="4.4" fill="url(#gb)"/>
<circle cx="489.25" cy="177.30" r="4.4" fill="url(#gb)"/>
<circle cx="498.12" cy="177.30" r="4.4" fill="url(#gb)"/>
<circle cx="506.99" cy="177.30" r="4.4" fill="url(#gb)"/>
<circle cx="440.46" cy="185.30" r="4.4" fill="url(#gb)"/>
<circle cx="449.33" cy="185.30" r="4.4" fill="url(#gb)"/>
<circle cx="458.20" cy="185.30" r="4.4" fill="url(#gb)"/>
<circle cx="467.07" cy="185.30" r="4.4" fill="url(#gb)"/>
<circle cx="475.94" cy="185.30" r="4.4" fill="url(#gb)"/>
<circle cx="484.81" cy="185.30" r="4.4" fill="url(#gb)"/>
<circle cx="493.68" cy="185.30" r="4.4" fill="url(#gb)"/>
<circle cx="502.55" cy="185.30" r="4.4" fill="url(#gb)"/>
<circle cx="444.90" cy="193.30" r="4.4" fill="url(#gb)"/>
<circle cx="453.77" cy="193.30" r="4.4" fill="url(#gb)"/>
<circle cx="462.64" cy="193.30" r="4.4" fill="url(#gb)"/>
<circle cx="471.51" cy="193.30" r="4.4" fill="url(#gb)"/>
<circle cx="480.38" cy="193.30" r="4.4" fill="url(#gb)"/>
<circle cx="489.25" cy="193.30" r="4.4" fill="url(#gb)"/>
<circle cx="498.12" cy="193.30" r="4.4" fill="url(#gb)"/>
<circle cx="506.99" cy="193.30" r="4.4" fill="url(#gb)"/>
<text x="451.5" y="140.3" font-size="4.8" fill="#a0a0a0" font-weight="normal" text-anchor="start" ><tspan dy="0.00">H</tspan><tspan font-size="3.12" dy="1.20">2</tspan><tspan dy="-1.20">O</tspan></text>
<path d="M464.5,140.2 Q479,150 492.5,141.8" fill="none" stroke="#b8b8b8" stroke-width="1.8"/>
<polygon points="496.20,139.60 494.30,143.73 491.65,139.49" fill="#b8b8b8"/>
<text x="498.6" y="140.3" font-size="4.8" fill="#a0a0a0" font-weight="normal" text-anchor="start" ><tspan dy="0.00">H</tspan><tspan font-size="3.12" dy="1.20">2</tspan></text>
<circle cx="455.00" cy="150.00" r="1.65" fill="#f4f6f8" stroke="#95a4b0" stroke-width="0.65"/>
<circle cx="458.00" cy="151.50" r="1.65" fill="#f4f6f8" stroke="#95a4b0" stroke-width="0.65"/>
<circle cx="452.50" cy="154.00" r="1.65" fill="#f4f6f8" stroke="#95a4b0" stroke-width="0.65"/>
<circle cx="455.50" cy="153.50" r="1.65" fill="#f4f6f8" stroke="#95a4b0" stroke-width="0.65"/>
<circle cx="459.00" cy="154.00" r="1.65" fill="#f4f6f8" stroke="#95a4b0" stroke-width="0.65"/>
<circle cx="461.50" cy="153.30" r="1.65" fill="#f4f6f8" stroke="#95a4b0" stroke-width="0.65"/>
<circle cx="463.30" cy="155.00" r="1.65" fill="#f4f6f8" stroke="#95a4b0" stroke-width="0.65"/>
<circle cx="450.80" cy="155.80" r="1.65" fill="#f4f6f8" stroke="#95a4b0" stroke-width="0.65"/>
<circle cx="454.40" cy="156.20" r="1.65" fill="#f4f6f8" stroke="#95a4b0" stroke-width="0.65"/>
<circle cx="458.00" cy="156.30" r="1.65" fill="#f4f6f8" stroke="#95a4b0" stroke-width="0.65"/>
<circle cx="480.00" cy="149.00" r="1.65" fill="#f4f6f8" stroke="#95a4b0" stroke-width="0.65"/>
<circle cx="478.00" cy="151.30" r="1.65" fill="#f4f6f8" stroke="#95a4b0" stroke-width="0.65"/>
<circle cx="481.00" cy="152.30" r="1.65" fill="#f4f6f8" stroke="#95a4b0" stroke-width="0.65"/>
<circle cx="473.00" cy="153.60" r="1.65" fill="#f4f6f8" stroke="#95a4b0" stroke-width="0.65"/>
<circle cx="476.00" cy="153.20" r="1.65" fill="#f4f6f8" stroke="#95a4b0" stroke-width="0.65"/>
<circle cx="479.50" cy="154.50" r="1.65" fill="#f4f6f8" stroke="#95a4b0" stroke-width="0.65"/>
<circle cx="475.00" cy="156.20" r="1.65" fill="#f4f6f8" stroke="#95a4b0" stroke-width="0.65"/>
<circle cx="478.20" cy="156.30" r="1.65" fill="#f4f6f8" stroke="#95a4b0" stroke-width="0.65"/>
<circle cx="481.50" cy="156.40" r="1.65" fill="#f4f6f8" stroke="#95a4b0" stroke-width="0.65"/>
<circle cx="486.00" cy="150.50" r="1.65" fill="#f4f6f8" stroke="#95a4b0" stroke-width="0.65"/>
<circle cx="489.00" cy="152.50" r="1.65" fill="#f4f6f8" stroke="#95a4b0" stroke-width="0.65"/>
<circle cx="486.00" cy="154.20" r="1.65" fill="#f4f6f8" stroke="#95a4b0" stroke-width="0.65"/>
<circle cx="491.20" cy="154.30" r="1.65" fill="#f4f6f8" stroke="#95a4b0" stroke-width="0.65"/>
<circle cx="494.00" cy="156.00" r="1.65" fill="#f4f6f8" stroke="#95a4b0" stroke-width="0.65"/>
<circle cx="488.30" cy="156.20" r="1.65" fill="#f4f6f8" stroke="#95a4b0" stroke-width="0.65"/>
<text x="472.2" y="204.7" font-size="5.03" fill="#0a0a0a" font-weight="normal" text-anchor="middle" >Deactivation by C species</text>
<text x="472.2" y="210.8" font-size="5.03" fill="#0a0a0a" font-weight="normal" text-anchor="middle" >covering on Cu surface</text>
<rect x="225.5" y="221.6" width="290.3" height="17.5" fill="#fff" stroke="#888" stroke-width="0.7"/>
<polygon points="230.5,229.9 239.5,229.9 239.5,226.6 246.9,231.3 239.5,236 239.5,232.7 230.5,232.7" fill="#f00"/>
<text x="262.2" y="229.9" font-size="5.1" fill="#0a0a0a" font-weight="normal" text-anchor="middle" >CO dimer</text>
<text x="262.2" y="236" font-size="5.1" fill="#0a0a0a" font-weight="normal" text-anchor="middle" >pathway</text>
<line x1="286.00" y1="231.20" x2="300.90" y2="231.20" stroke="#b0b0b0" stroke-width="0.6"/>
<polygon points="303.50,231.20 300.90,232.50 300.90,229.90" fill="#b0b0b0"/>
<text x="320.6" y="229.9" font-size="5.1" fill="#0a0a0a" font-weight="normal" text-anchor="middle" >COH</text>
<text x="320.6" y="236" font-size="5.1" fill="#0a0a0a" font-weight="normal" text-anchor="middle" >pathway</text>
<circle cx="351.50" cy="231.40" r="4.6" fill="url(#gb)"/>
<text x="380.8" y="229.9" font-size="5.1" fill="#0a0a0a" font-weight="normal" text-anchor="middle" >Cu atom in</text>
<text x="381.6" y="236" font-size="5.1" fill="#0a0a0a" font-weight="normal" text-anchor="middle" >crystalline grain</text>
<circle cx="420.10" cy="230.80" r="4.9" fill="#fff" stroke="#b07a60" stroke-width="0.7"/>
<text x="449.5" y="229.6" font-size="5.1" fill="#0a0a0a" font-weight="normal" text-anchor="middle" >Cu atom in</text>
<text x="450.2" y="235.7" font-size="5.1" fill="#0a0a0a" font-weight="normal" text-anchor="middle" >crystal defects</text>
<circle cx="482.70" cy="231.50" r="1.7" fill="#f4f6f8" stroke="#95a4b0" stroke-width="0.7"/>
<text x="500.2" y="233.2" font-size="5.1" fill="#0a0a0a" font-weight="normal" text-anchor="middle" >Carbon</text>
<rect x="20.8" y="249.8" width="23.6" height="19.7" fill="#64c83c"/>
<text x="32.6" y="263.75000000000006" font-size="11.8" fill="#000" font-weight="bold" text-anchor="middle" >(C)</text>
<rect x="65.4" y="261.5" width="127.19999999999999" height="100.69999999999999" fill="none" stroke="#858585" stroke-width="0.9"/>
<rect x="70.60" y="352.13" width="10.8" height="10.07" fill="#ff0000"/>
<rect x="70.60" y="338.57" width="10.8" height="13.56" fill="#1f5fa5"/>
<rect x="70.60" y="329.30" width="10.8" height="9.26" fill="#ffc000"/>
<rect x="70.60" y="315.88" width="10.8" height="13.43" fill="#14be6e"/>
<rect x="70.60" y="315.88" width="10.8" height="46.32" fill="none" stroke="#1a1a1a" stroke-opacity="0.35" stroke-width="0.4"/>
<line x1="70.60" x2="81.40" y1="352.13" y2="352.13" stroke="#222" stroke-opacity="0.45" stroke-width="0.4"/>
<line x1="70.60" x2="81.40" y1="338.57" y2="338.57" stroke="#222" stroke-opacity="0.45" stroke-width="0.4"/>
<line x1="70.60" x2="81.40" y1="329.30" y2="329.30" stroke="#222" stroke-opacity="0.45" stroke-width="0.4"/>
<line x1="76.00" x2="76.00" y1="337.90" y2="339.24" stroke="#222" stroke-width="0.5"/>
<line x1="75.00" x2="77.00" y1="337.90" y2="337.90" stroke="#222" stroke-width="0.5"/>
<line x1="76.00" x2="76.00" y1="312.52" y2="319.23" stroke="#222" stroke-width="0.5"/>
<line x1="75.00" x2="77.00" y1="312.52" y2="312.52" stroke="#222" stroke-width="0.5"/>
<line x1="76.00" x2="76.00" y1="362.2" y2="363.8" stroke="#858585" stroke-width="0.6"/>
<line x1="81.30" x2="81.30" y1="362.2" y2="363.2" stroke="#858585" stroke-width="0.5"/>
<text x="76.00" y="370.9" font-size="6.4" fill="#0a0a0a" font-weight="normal" text-anchor="middle" >0.5</text>
<rect x="91.80" y="342.06" width="10.8" height="20.14" fill="#ff0000"/>
<rect x="91.80" y="330.24" width="10.8" height="11.82" fill="#1f5fa5"/>
<rect x="91.80" y="324.61" width="10.8" height="5.64" fill="#ffc000"/>
<rect x="91.80" y="310.51" width="10.8" height="14.10" fill="#14be6e"/>
<rect x="91.80" y="310.51" width="10.8" height="51.69" fill="none" stroke="#1a1a1a" stroke-opacity="0.35" stroke-width="0.4"/>
<line x1="91.80" x2="102.60" y1="342.06" y2="342.06" stroke="#222" stroke-opacity="0.45" stroke-width="0.4"/>
<line x1="91.80" x2="102.60" y1="330.24" y2="330.24" stroke="#222" stroke-opacity="0.45" stroke-width="0.4"/>
<line x1="91.80" x2="102.60" y1="324.61" y2="324.61" stroke="#222" stroke-opacity="0.45" stroke-width="0.4"/>
<line x1="97.20" x2="97.20" y1="341.39" y2="342.73" stroke="#222" stroke-width="0.5"/>
<line x1="96.20" x2="98.20" y1="341.39" y2="341.39" stroke="#222" stroke-width="0.5"/>
<line x1="97.20" x2="97.20" y1="329.17" y2="331.32" stroke="#222" stroke-width="0.5"/>
<line x1="96.20" x2="98.20" y1="329.17" y2="329.17" stroke="#222" stroke-width="0.5"/>
<line x1="97.20" x2="97.20" y1="305.54" y2="315.48" stroke="#222" stroke-width="0.5"/>
<line x1="96.20" x2="98.20" y1="305.54" y2="305.54" stroke="#222" stroke-width="0.5"/>
<line x1="97.20" x2="97.20" y1="362.2" y2="363.8" stroke="#858585" stroke-width="0.6"/>
<line x1="102.50" x2="102.50" y1="362.2" y2="363.2" stroke="#858585" stroke-width="0.5"/>
<text x="97.20" y="370.9" font-size="6.4" fill="#0a0a0a" font-weight="normal" text-anchor="middle" >1.0</text>
<rect x="113.00" y="335.88" width="10.8" height="26.32" fill="#ff0000"/>
<rect x="113.00" y="328.10" width="10.8" height="7.79" fill="#1f5fa5"/>
<rect x="113.00" y="322.99" width="10.8" height="5.10" fill="#ffc000"/>
<rect x="113.00" y="311.45" width="10.8" height="11.55" fill="#14be6e"/>
<rect x="113.00" y="311.45" width="10.8" height="50.75" fill="none" stroke="#1a1a1a" stroke-opacity="0.35" stroke-width="0.4"/>
<line x1="113.00" x2="123.80" y1="335.88" y2="335.88" stroke="#222" stroke-opacity="0.45" stroke-width="0.4"/>
<line x1="113.00" x2="123.80" y1="328.10" y2="328.10" stroke="#222" stroke-opacity="0.45" stroke-width="0.4"/>
<line x1="113.00" x2="123.80" y1="322.99" y2="322.99" stroke="#222" stroke-opacity="0.45" stroke-width="0.4"/>
<line x1="118.40" x2="118.40" y1="333.87" y2="337.90" stroke="#222" stroke-width="0.5"/>
<line x1="117.40" x2="119.40" y1="333.87" y2="333.87" stroke="#222" stroke-width="0.5"/>
<line x1="118.40" x2="118.40" y1="326.49" y2="329.71" stroke="#222" stroke-width="0.5"/>
<line x1="117.40" x2="119.40" y1="326.49" y2="326.49" stroke="#222" stroke-width="0.5"/>
<line x1="118.40" x2="118.40" y1="320.98" y2="325.01" stroke="#222" stroke-width="0.5"/>
<line x1="117.40" x2="119.40" y1="320.98" y2="320.98" stroke="#222" stroke-width="0.5"/>
<line x1="118.40" x2="118.40" y1="310.78" y2="312.12" stroke="#222" stroke-width="0.5"/>
<line x1="117.40" x2="119.40" y1="310.78" y2="310.78" stroke="#222" stroke-width="0.5"/>
<line x1="118.40" x2="118.40" y1="362.2" y2="363.8" stroke="#858585" stroke-width="0.6"/>
<line x1="123.70" x2="123.70" y1="362.2" y2="363.2" stroke="#858585" stroke-width="0.5"/>
<text x="118.40" y="370.9" font-size="6.4" fill="#0a0a0a" font-weight="normal" text-anchor="middle" >1.5</text>
<rect x="134.20" y="333.06" width="10.8" height="29.14" fill="#ff0000"/>
<rect x="134.20" y="328.36" width="10.8" height="4.70" fill="#1f5fa5"/>
<rect x="134.20" y="323.80" width="10.8" height="4.57" fill="#ffc000"/>
<rect x="134.20" y="314.40" width="10.8" height="9.40" fill="#14be6e"/>
<rect x="134.20" y="314.40" width="10.8" height="47.80" fill="none" stroke="#1a1a1a" stroke-opacity="0.35" stroke-width="0.4"/>
<line x1="134.20" x2="145.00" y1="333.06" y2="333.06" stroke="#222" stroke-opacity="0.45" stroke-width="0.4"/>
<line x1="134.20" x2="145.00" y1="328.36" y2="328.36" stroke="#222" stroke-opacity="0.45" stroke-width="0.4"/>
<line x1="134.20" x2="145.00" y1="323.80" y2="323.80" stroke="#222" stroke-opacity="0.45" stroke-width="0.4"/>
<line x1="139.60" x2="139.60" y1="332.39" y2="333.74" stroke="#222" stroke-width="0.5"/>
<line x1="138.60" x2="140.60" y1="332.39" y2="332.39" stroke="#222" stroke-width="0.5"/>
<line x1="139.60" x2="139.60" y1="327.02" y2="329.71" stroke="#222" stroke-width="0.5"/>
<line x1="138.60" x2="140.60" y1="327.02" y2="327.02" stroke="#222" stroke-width="0.5"/>
<line x1="139.60" x2="139.60" y1="322.46" y2="325.14" stroke="#222" stroke-width="0.5"/>
<line x1="138.60" x2="140.60" y1="322.46" y2="322.46" stroke="#222" stroke-width="0.5"/>
<line x1="139.60" x2="139.60" y1="312.39" y2="316.42" stroke="#222" stroke-width="0.5"/>
<line x1="138.60" x2="140.60" y1="312.39" y2="312.39" stroke="#222" stroke-width="0.5"/>
<line x1="139.60" x2="139.60" y1="362.2" y2="363.8" stroke="#858585" stroke-width="0.6"/>
<line x1="144.90" x2="144.90" y1="362.2" y2="363.2" stroke="#858585" stroke-width="0.5"/>
<text x="139.60" y="370.9" font-size="6.4" fill="#0a0a0a" font-weight="normal" text-anchor="middle" >2.0</text>
<rect x="155.40" y="327.83" width="10.8" height="34.37" fill="#ff0000"/>
<rect x="155.40" y="322.32" width="10.8" height="5.50" fill="#1f5fa5"/>
<rect x="155.40" y="317.22" width="10.8" height="5.10" fill="#ffc000"/>
<rect x="155.40" y="309.30" width="10.8" height="7.92" fill="#14be6e"/>
<rect x="155.40" y="309.30" width="10.8" height="52.90" fill="none" stroke="#1a1a1a" stroke-opacity="0.35" stroke-width="0.4"/>
<line x1="155.40" x2="166.20" y1="327.83" y2="327.83" stroke="#222" stroke-opacity="0.45" stroke-width="0.4"/>
<line x1="155.40" x2="166.20" y1="322.32" y2="322.32" stroke="#222" stroke-opacity="0.45" stroke-width="0.4"/>
<line x1="155.40" x2="166.20" y1="317.22" y2="317.22" stroke="#222" stroke-opacity="0.45" stroke-width="0.4"/>
<line x1="160.80" x2="160.80" y1="325.81" y2="329.84" stroke="#222" stroke-width="0.5"/>
<line x1="159.80" x2="161.80" y1="325.81" y2="325.81" stroke="#222" stroke-width="0.5"/>
<line x1="160.80" x2="160.80" y1="320.98" y2="323.67" stroke="#222" stroke-width="0.5"/>
<line x1="159.80" x2="161.80" y1="320.98" y2="320.98" stroke="#222" stroke-width="0.5"/>
<line x1="160.80" x2="160.80" y1="315.88" y2="318.56" stroke="#222" stroke-width="0.5"/>
<line x1="159.80" x2="161.80" y1="315.88" y2="315.88" stroke="#222" stroke-width="0.5"/>
<line x1="160.80" x2="160.80" y1="307.42" y2="311.18" stroke="#222" stroke-width="0.5"/>
<line x1="159.80" x2="161.80" y1="307.42" y2="307.42" stroke="#222" stroke-width="0.5"/>
<line x1="160.80" x2="160.80" y1="362.2" y2="363.8" stroke="#858585" stroke-width="0.6"/>
<line x1="166.10" x2="166.10" y1="362.2" y2="363.2" stroke="#858585" stroke-width="0.5"/>
<text x="160.80" y="370.9" font-size="6.4" fill="#0a0a0a" font-weight="normal" text-anchor="middle" >2.5</text>
<rect x="176.60" y="322.99" width="10.8" height="39.21" fill="#ff0000"/>
<rect x="176.60" y="318.16" width="10.8" height="4.83" fill="#1f5fa5"/>
<rect x="176.60" y="313.73" width="10.8" height="4.43" fill="#ffc000"/>
<rect x="176.60" y="310.51" width="10.8" height="3.22" fill="#14be6e"/>
<rect x="176.60" y="310.51" width="10.8" height="51.69" fill="none" stroke="#1a1a1a" stroke-opacity="0.35" stroke-width="0.4"/>
<line x1="176.60" x2="187.40" y1="322.99" y2="322.99" stroke="#222" stroke-opacity="0.45" stroke-width="0.4"/>
<line x1="176.60" x2="187.40" y1="318.16" y2="318.16" stroke="#222" stroke-opacity="0.45" stroke-width="0.4"/>
<line x1="176.60" x2="187.40" y1="313.73" y2="313.73" stroke="#222" stroke-opacity="0.45" stroke-width="0.4"/>
<line x1="182.00" x2="182.00" y1="322.32" y2="323.67" stroke="#222" stroke-width="0.5"/>
<line x1="181.00" x2="183.00" y1="322.32" y2="322.32" stroke="#222" stroke-width="0.5"/>
<line x1="182.00" x2="182.00" y1="317.09" y2="319.23" stroke="#222" stroke-width="0.5"/>
<line x1="181.00" x2="183.00" y1="317.09" y2="317.09" stroke="#222" stroke-width="0.5"/>
<line x1="182.00" x2="182.00" y1="312.39" y2="315.07" stroke="#222" stroke-width="0.5"/>
<line x1="181.00" x2="183.00" y1="312.39" y2="312.39" stroke="#222" stroke-width="0.5"/>
<line x1="182.00" x2="182.00" y1="308.09" y2="312.92" stroke="#222" stroke-width="0.5"/>
<line x1="181.00" x2="183.00" y1="308.09" y2="308.09" stroke="#222" stroke-width="0.5"/>
<line x1="182.00" x2="182.00" y1="362.2" y2="363.8" stroke="#858585" stroke-width="0.6"/>
<line x1="187.30" x2="187.30" y1="362.2" y2="363.2" stroke="#858585" stroke-width="0.5"/>
<text x="182.00" y="370.9" font-size="6.4" fill="#0a0a0a" font-weight="normal" text-anchor="middle" >3.0</text>
<line x1="63.800000000000004" x2="65.4" y1="362.20" y2="362.20" stroke="#858585" stroke-width="0.6"/>
<text x="62.400000000000006" y="364.50" font-size="6.4" fill="#0a0a0a" font-weight="normal" text-anchor="end" >0</text>
<line x1="63.800000000000004" x2="65.4" y1="328.63" y2="328.63" stroke="#858585" stroke-width="0.6"/>
<text x="62.400000000000006" y="330.93" font-size="6.4" fill="#0a0a0a" font-weight="normal" text-anchor="end" >25</text>
<line x1="63.800000000000004" x2="65.4" y1="295.07" y2="295.07" stroke="#858585" stroke-width="0.6"/>
<text x="62.400000000000006" y="297.37" font-size="6.4" fill="#0a0a0a" font-weight="normal" text-anchor="end" >50</text>
<line x1="63.800000000000004" x2="65.4" y1="261.50" y2="261.50" stroke="#858585" stroke-width="0.6"/>
<text x="62.400000000000006" y="263.80" font-size="6.4" fill="#0a0a0a" font-weight="normal" text-anchor="end" >75</text>
<line x1="64.4" x2="65.4" y1="345.42" y2="345.42" stroke="#858585" stroke-width="0.5"/>
<line x1="64.4" x2="65.4" y1="311.85" y2="311.85" stroke="#858585" stroke-width="0.5"/>
<line x1="64.4" x2="65.4" y1="278.28" y2="278.28" stroke="#858585" stroke-width="0.5"/>
<text x="129.0" y="381.4" font-size="8.8" fill="#0a0a0a" font-weight="normal" text-anchor="middle" >Time/h</text>
<text x="51.9" y="311.2" font-size="8.45" fill="#0a0a0a" font-weight="normal" text-anchor="middle" transform="rotate(-90 51.9 311.2)">Faraday efficiency/%</text>
<text x="71.3" y="276.6" font-size="8.1" fill="#0a0a0a" font-weight="normal" text-anchor="start" >Annealed CuNNs</text>
<rect x="165.2" y="264.30" width="11.2" height="5.0" fill="#14be6e" stroke="#333" stroke-opacity="0.35" stroke-width="0.4"/>
<text x="178.2" y="268.60" font-size="4.6" fill="#333" font-weight="normal" text-anchor="start" >C<tspan font-size="3" dy="1">2</tspan><tspan dy="-1">H</tspan><tspan font-size="3" dy="1">4</tspan></text>
<rect x="165.2" y="271.30" width="11.2" height="5.0" fill="#ffc000" stroke="#333" stroke-opacity="0.35" stroke-width="0.4"/>
<text x="178.2" y="275.60" font-size="4.6" fill="#333" font-weight="normal" text-anchor="start" >CH<tspan font-size="3" dy="1">4</tspan></text>
<rect x="165.2" y="278.30" width="11.2" height="5.0" fill="#1f5fa5" stroke="#333" stroke-opacity="0.35" stroke-width="0.4"/>
<text x="178.2" y="282.60" font-size="4.6" fill="#333" font-weight="normal" text-anchor="start" >CO</text>
<rect x="165.2" y="285.30" width="11.2" height="5.0" fill="#ff0000" stroke="#333" stroke-opacity="0.35" stroke-width="0.4"/>
<text x="178.2" y="289.60" font-size="4.6" fill="#333" font-weight="normal" text-anchor="start" >H<tspan font-size="3" dy="1">2</tspan></text>
<rect x="196.3" y="249.8" width="25.2" height="19.7" fill="#64c83c"/>
<text x="208.9" y="263.75000000000006" font-size="11.8" fill="#000" font-weight="bold" text-anchor="middle" >(D)</text>
<rect x="234.2" y="261.5" width="127.0" height="100.0" fill="none" stroke="#858585" stroke-width="0.9"/>
<rect x="239.38" y="353.50" width="10.8" height="8.00" fill="#ff0000"/>
<rect x="239.38" y="348.70" width="10.8" height="4.80" fill="#1f5fa5"/>
<rect x="239.38" y="343.90" width="10.8" height="4.80" fill="#ffc000"/>
<rect x="239.38" y="322.83" width="10.8" height="21.07" fill="#14be6e"/>
<rect x="239.38" y="322.83" width="10.8" height="38.67" fill="none" stroke="#1a1a1a" stroke-opacity="0.35" stroke-width="0.4"/>
<line x1="239.38" x2="250.18" y1="353.50" y2="353.50" stroke="#222" stroke-opacity="0.45" stroke-width="0.4"/>
<line x1="239.38" x2="250.18" y1="348.70" y2="348.70" stroke="#222" stroke-opacity="0.45" stroke-width="0.4"/>
<line x1="239.38" x2="250.18" y1="343.90" y2="343.90" stroke="#222" stroke-opacity="0.45" stroke-width="0.4"/>
<line x1="244.78" x2="244.78" y1="322.30" y2="323.37" stroke="#222" stroke-width="0.5"/>
<line x1="243.78" x2="245.78" y1="322.30" y2="322.30" stroke="#222" stroke-width="0.5"/>
<line x1="244.78" x2="244.78" y1="361.5" y2="363.1" stroke="#858585" stroke-width="0.6"/>
<line x1="250.07" x2="250.07" y1="361.5" y2="362.5" stroke="#858585" stroke-width="0.5"/>
<text x="244.78" y="370.2" font-size="6.4" fill="#0a0a0a" font-weight="normal" text-anchor="middle" >0.5</text>
<rect x="260.55" y="353.37" width="10.8" height="8.13" fill="#ff0000"/>
<rect x="260.55" y="348.17" width="10.8" height="5.20" fill="#1f5fa5"/>
<rect x="260.55" y="343.77" width="10.8" height="4.40" fill="#ffc000"/>
<rect x="260.55" y="321.23" width="10.8" height="22.53" fill="#14be6e"/>
<rect x="260.55" y="321.23" width="10.8" height="40.27" fill="none" stroke="#1a1a1a" stroke-opacity="0.35" stroke-width="0.4"/>
<line x1="260.55" x2="271.35" y1="353.37" y2="353.37" stroke="#222" stroke-opacity="0.45" stroke-width="0.4"/>
<line x1="260.55" x2="271.35" y1="348.17" y2="348.17" stroke="#222" stroke-opacity="0.45" stroke-width="0.4"/>
<line x1="260.55" x2="271.35" y1="343.77" y2="343.77" stroke="#222" stroke-opacity="0.45" stroke-width="0.4"/>
<line x1="265.95" x2="265.95" y1="320.70" y2="321.77" stroke="#222" stroke-width="0.5"/>
<line x1="264.95" x2="266.95" y1="320.70" y2="320.70" stroke="#222" stroke-width="0.5"/>
<line x1="265.95" x2="265.95" y1="361.5" y2="363.1" stroke="#858585" stroke-width="0.6"/>
<line x1="271.24" x2="271.24" y1="361.5" y2="362.5" stroke="#858585" stroke-width="0.5"/>
<text x="265.95" y="370.2" font-size="6.4" fill="#0a0a0a" font-weight="normal" text-anchor="middle" >1.0</text>
<rect x="281.72" y="353.23" width="10.8" height="8.27" fill="#ff0000"/>
<rect x="281.72" y="347.90" width="10.8" height="5.33" fill="#1f5fa5"/>
<rect x="281.72" y="343.50" width="10.8" height="4.40" fill="#ffc000"/>
<rect x="281.72" y="321.23" width="10.8" height="22.27" fill="#14be6e"/>
<rect x="281.72" y="321.23" width="10.8" height="40.27" fill="none" stroke="#1a1a1a" stroke-opacity="0.35" stroke-width="0.4"/>
<line x1="281.72" x2="292.52" y1="353.23" y2="353.23" stroke="#222" stroke-opacity="0.45" stroke-width="0.4"/>
<line x1="281.72" x2="292.52" y1="347.90" y2="347.90" stroke="#222" stroke-opacity="0.45" stroke-width="0.4"/>
<line x1="281.72" x2="292.52" y1="343.50" y2="343.50" stroke="#222" stroke-opacity="0.45" stroke-width="0.4"/>
<line x1="287.12" x2="287.12" y1="342.83" y2="344.17" stroke="#222" stroke-width="0.5"/>
<line x1="286.12" x2="288.12" y1="342.83" y2="342.83" stroke="#222" stroke-width="0.5"/>
<line x1="287.12" x2="287.12" y1="361.5" y2="363.1" stroke="#858585" stroke-width="0.6"/>
<line x1="292.41" x2="292.41" y1="361.5" y2="362.5" stroke="#858585" stroke-width="0.5"/>
<text x="287.12" y="370.2" font-size="6.4" fill="#0a0a0a" font-weight="normal" text-anchor="middle" >1.5</text>
<rect x="302.88" y="353.50" width="10.8" height="8.00" fill="#ff0000"/>
<rect x="302.88" y="348.43" width="10.8" height="5.07" fill="#1f5fa5"/>
<rect x="302.88" y="343.50" width="10.8" height="4.93" fill="#ffc000"/>
<rect x="302.88" y="322.17" width="10.8" height="21.33" fill="#14be6e"/>
<rect x="302.88" y="322.17" width="10.8" height="39.33" fill="none" stroke="#1a1a1a" stroke-opacity="0.35" stroke-width="0.4"/>
<line x1="302.88" x2="313.68" y1="353.50" y2="353.50" stroke="#222" stroke-opacity="0.45" stroke-width="0.4"/>
<line x1="302.88" x2="313.68" y1="348.43" y2="348.43" stroke="#222" stroke-opacity="0.45" stroke-width="0.4"/>
<line x1="302.88" x2="313.68" y1="343.50" y2="343.50" stroke="#222" stroke-opacity="0.45" stroke-width="0.4"/>
<line x1="308.28" x2="308.28" y1="321.77" y2="322.57" stroke="#222" stroke-width="0.5"/>
<line x1="307.28" x2="309.28" y1="321.77" y2="321.77" stroke="#222" stroke-width="0.5"/>
<line x1="308.28" x2="308.28" y1="361.5" y2="363.1" stroke="#858585" stroke-width="0.6"/>
<line x1="313.57" x2="313.57" y1="361.5" y2="362.5" stroke="#858585" stroke-width="0.5"/>
<text x="308.28" y="370.2" font-size="6.4" fill="#0a0a0a" font-weight="normal" text-anchor="middle" >2.0</text>
<rect x="324.05" y="353.50" width="10.8" height="8.00" fill="#ff0000"/>
<rect x="324.05" y="348.17" width="10.8" height="5.33" fill="#1f5fa5"/>
<rect x="324.05" y="342.43" width="10.8" height="5.73" fill="#ffc000"/>
<rect x="324.05" y="322.17" width="10.8" height="20.27" fill="#14be6e"/>
<rect x="324.05" y="322.17" width="10.8" height="39.33" fill="none" stroke="#1a1a1a" stroke-opacity="0.35" stroke-width="0.4"/>
<line x1="324.05" x2="334.85" y1="353.50" y2="353.50" stroke="#222" stroke-opacity="0.45" stroke-width="0.4"/>
<line x1="324.05" x2="334.85" y1="348.17" y2="348.17" stroke="#222" stroke-opacity="0.45" stroke-width="0.4"/>
<line x1="324.05" x2="334.85" y1="342.43" y2="342.43" stroke="#222" stroke-opacity="0.45" stroke-width="0.4"/>
<line x1="329.45" x2="329.45" y1="320.43" y2="323.90" stroke="#222" stroke-width="0.5"/>
<line x1="328.45" x2="330.45" y1="320.43" y2="320.43" stroke="#222" stroke-width="0.5"/>
<line x1="329.45" x2="329.45" y1="361.5" y2="363.1" stroke="#858585" stroke-width="0.6"/>
<line x1="334.74" x2="334.74" y1="361.5" y2="362.5" stroke="#858585" stroke-width="0.5"/>
<text x="329.45" y="370.2" font-size="6.4" fill="#0a0a0a" font-weight="normal" text-anchor="middle" >2.5</text>
<rect x="345.22" y="352.83" width="10.8" height="8.67" fill="#ff0000"/>
<rect x="345.22" y="347.23" width="10.8" height="5.60" fill="#1f5fa5"/>
<rect x="345.22" y="341.77" width="10.8" height="5.47" fill="#ffc000"/>
<rect x="345.22" y="320.57" width="10.8" height="21.20" fill="#14be6e"/>
<rect x="345.22" y="320.57" width="10.8" height="40.93" fill="none" stroke="#1a1a1a" stroke-opacity="0.35" stroke-width="0.4"/>
<line x1="345.22" x2="356.02" y1="352.83" y2="352.83" stroke="#222" stroke-opacity="0.45" stroke-width="0.4"/>
<line x1="345.22" x2="356.02" y1="347.23" y2="347.23" stroke="#222" stroke-opacity="0.45" stroke-width="0.4"/>
<line x1="345.22" x2="356.02" y1="341.77" y2="341.77" stroke="#222" stroke-opacity="0.45" stroke-width="0.4"/>
<line x1="350.62" x2="350.62" y1="317.63" y2="323.50" stroke="#222" stroke-width="0.5"/>
<line x1="349.62" x2="351.62" y1="317.63" y2="317.63" stroke="#222" stroke-width="0.5"/>
<line x1="350.62" x2="350.62" y1="361.5" y2="363.1" stroke="#858585" stroke-width="0.6"/>
<line x1="355.91" x2="355.91" y1="361.5" y2="362.5" stroke="#858585" stroke-width="0.5"/>
<text x="350.62" y="370.2" font-size="6.4" fill="#0a0a0a" font-weight="normal" text-anchor="middle" >3.0</text>
<line x1="232.6" x2="234.2" y1="361.50" y2="361.50" stroke="#858585" stroke-width="0.6"/>
<text x="231.2" y="363.80" font-size="6.4" fill="#0a0a0a" font-weight="normal" text-anchor="end" >0</text>
<line x1="232.6" x2="234.2" y1="328.17" y2="328.17" stroke="#858585" stroke-width="0.6"/>
<text x="231.2" y="330.47" font-size="6.4" fill="#0a0a0a" font-weight="normal" text-anchor="end" >25</text>
<line x1="232.6" x2="234.2" y1="294.83" y2="294.83" stroke="#858585" stroke-width="0.6"/>
<text x="231.2" y="297.13" font-size="6.4" fill="#0a0a0a" font-weight="normal" text-anchor="end" >50</text>
<line x1="232.6" x2="234.2" y1="261.50" y2="261.50" stroke="#858585" stroke-width="0.6"/>
<text x="231.2" y="263.80" font-size="6.4" fill="#0a0a0a" font-weight="normal" text-anchor="end" >75</text>
<line x1="233.2" x2="234.2" y1="344.83" y2="344.83" stroke="#858585" stroke-width="0.5"/>
<line x1="233.2" x2="234.2" y1="311.50" y2="311.50" stroke="#858585" stroke-width="0.5"/>
<line x1="233.2" x2="234.2" y1="278.17" y2="278.17" stroke="#858585" stroke-width="0.5"/>
<text x="297.7" y="380.7" font-size="8.8" fill="#0a0a0a" font-weight="normal" text-anchor="middle" >Time/h</text>
<text x="219.9" y="311.2" font-size="8.45" fill="#0a0a0a" font-weight="normal" text-anchor="middle" transform="rotate(-90 219.9 311.2)">Faraday efficiency/%</text>
<text x="241" y="276.5" font-size="8.1" fill="#0a0a0a" font-weight="normal" text-anchor="start" >CuNNs</text>
<rect x="333.5" y="264.10" width="11.2" height="5.0" fill="#14be6e" stroke="#333" stroke-opacity="0.35" stroke-width="0.4"/>
<text x="346.5" y="268.40" font-size="4.6" fill="#333" font-weight="normal" text-anchor="start" >C<tspan font-size="3" dy="1">2</tspan><tspan dy="-1">H</tspan><tspan font-size="3" dy="1">4</tspan></text>
<rect x="333.5" y="270.95" width="11.2" height="5.0" fill="#ffc000" stroke="#333" stroke-opacity="0.35" stroke-width="0.4"/>
<text x="346.5" y="275.25" font-size="4.6" fill="#333" font-weight="normal" text-anchor="start" >CH<tspan font-size="3" dy="1">4</tspan></text>
<rect x="333.5" y="277.80" width="11.2" height="5.0" fill="#1f5fa5" stroke="#333" stroke-opacity="0.35" stroke-width="0.4"/>
<text x="346.5" y="282.10" font-size="4.6" fill="#333" font-weight="normal" text-anchor="start" >CO</text>
<rect x="333.5" y="284.65" width="11.2" height="5.0" fill="#ff0000" stroke="#333" stroke-opacity="0.35" stroke-width="0.4"/>
<text x="346.5" y="288.95" font-size="4.6" fill="#333" font-weight="normal" text-anchor="start" >H<tspan font-size="3" dy="1">2</tspan></text>
<rect x="364.9" y="249.8" width="23.8" height="19.7" fill="#64c83c"/>
<text x="376.79999999999995" y="263.75000000000006" font-size="11.8" fill="#000" font-weight="bold" text-anchor="middle" >(E)</text>
<rect x="404.6" y="260.3" width="127.19999999999993" height="100.09999999999997" fill="none" stroke="#858585" stroke-width="0.9"/>
<rect x="409.80" y="351.09" width="10.8" height="9.31" fill="#ff0000"/>
<rect x="409.80" y="348.29" width="10.8" height="2.80" fill="#1f5fa5"/>
<rect x="409.80" y="346.49" width="10.8" height="1.80" fill="#ffc000"/>
<rect x="409.80" y="296.34" width="10.8" height="50.15" fill="#14be6e"/>
<rect x="409.80" y="296.34" width="10.8" height="64.06" fill="none" stroke="#1a1a1a" stroke-opacity="0.35" stroke-width="0.4"/>
<line x1="409.80" x2="420.60" y1="351.09" y2="351.09" stroke="#222" stroke-opacity="0.45" stroke-width="0.4"/>
<line x1="409.80" x2="420.60" y1="348.29" y2="348.29" stroke="#222" stroke-opacity="0.45" stroke-width="0.4"/>
<line x1="409.80" x2="420.60" y1="346.49" y2="346.49" stroke="#222" stroke-opacity="0.45" stroke-width="0.4"/>
<line x1="415.20" x2="415.20" y1="349.89" y2="352.29" stroke="#222" stroke-width="0.5"/>
<line x1="414.20" x2="416.20" y1="349.89" y2="349.89" stroke="#222" stroke-width="0.5"/>
<line x1="415.20" x2="415.20" y1="347.29" y2="349.29" stroke="#222" stroke-width="0.5"/>
<line x1="414.20" x2="416.20" y1="347.29" y2="347.29" stroke="#222" stroke-width="0.5"/>
<line x1="415.20" x2="415.20" y1="345.99" y2="346.99" stroke="#222" stroke-width="0.5"/>
<line x1="414.20" x2="416.20" y1="345.99" y2="345.99" stroke="#222" stroke-width="0.5"/>
<line x1="415.20" x2="415.20" y1="294.33" y2="298.34" stroke="#222" stroke-width="0.5"/>
<line x1="414.20" x2="416.20" y1="294.33" y2="294.33" stroke="#222" stroke-width="0.5"/>
<line x1="415.20" x2="415.20" y1="360.4" y2="362.0" stroke="#858585" stroke-width="0.6"/>
<line x1="420.50" x2="420.50" y1="360.4" y2="361.4" stroke="#858585" stroke-width="0.5"/>
<text x="415.20" y="369.09999999999997" font-size="6.4" fill="#0a0a0a" font-weight="normal" text-anchor="middle" >0.5</text>
<rect x="431.00" y="352.09" width="10.8" height="8.31" fill="#ff0000"/>
<rect x="431.00" y="349.29" width="10.8" height="2.80" fill="#1f5fa5"/>
<rect x="431.00" y="347.49" width="10.8" height="1.80" fill="#ffc000"/>
<rect x="431.00" y="299.54" width="10.8" height="47.95" fill="#14be6e"/>
<rect x="431.00" y="299.54" width="10.8" height="60.86" fill="none" stroke="#1a1a1a" stroke-opacity="0.35" stroke-width="0.4"/>
<line x1="431.00" x2="441.80" y1="352.09" y2="352.09" stroke="#222" stroke-opacity="0.45" stroke-width="0.4"/>
<line x1="431.00" x2="441.80" y1="349.29" y2="349.29" stroke="#222" stroke-opacity="0.45" stroke-width="0.4"/>
<line x1="431.00" x2="441.80" y1="347.49" y2="347.49" stroke="#222" stroke-opacity="0.45" stroke-width="0.4"/>
<line x1="436.40" x2="436.40" y1="351.09" y2="353.09" stroke="#222" stroke-width="0.5"/>
<line x1="435.40" x2="437.40" y1="351.09" y2="351.09" stroke="#222" stroke-width="0.5"/>
<line x1="436.40" x2="436.40" y1="348.49" y2="350.09" stroke="#222" stroke-width="0.5"/>
<line x1="435.40" x2="437.40" y1="348.49" y2="348.49" stroke="#222" stroke-width="0.5"/>
<line x1="436.40" x2="436.40" y1="346.99" y2="347.99" stroke="#222" stroke-width="0.5"/>
<line x1="435.40" x2="437.40" y1="346.99" y2="346.99" stroke="#222" stroke-width="0.5"/>
<line x1="436.40" x2="436.40" y1="298.44" y2="300.64" stroke="#222" stroke-width="0.5"/>
<line x1="435.40" x2="437.40" y1="298.44" y2="298.44" stroke="#222" stroke-width="0.5"/>
<line x1="436.40" x2="436.40" y1="360.4" y2="362.0" stroke="#858585" stroke-width="0.6"/>
<line x1="441.70" x2="441.70" y1="360.4" y2="361.4" stroke="#858585" stroke-width="0.5"/>
<text x="436.40" y="369.09999999999997" font-size="6.4" fill="#0a0a0a" font-weight="normal" text-anchor="middle" >1.0</text>
<rect x="452.20" y="352.09" width="10.8" height="8.31" fill="#ff0000"/>
<rect x="452.20" y="349.29" width="10.8" height="2.80" fill="#1f5fa5"/>
<rect x="452.20" y="347.19" width="10.8" height="2.10" fill="#ffc000"/>
<rect x="452.20" y="297.34" width="10.8" height="49.85" fill="#14be6e"/>
<rect x="452.20" y="297.34" width="10.8" height="63.06" fill="none" stroke="#1a1a1a" stroke-opacity="0.35" stroke-width="0.4"/>
<line x1="452.20" x2="463.00" y1="352.09" y2="352.09" stroke="#222" stroke-opacity="0.45" stroke-width="0.4"/>
<line x1="452.20" x2="463.00" y1="349.29" y2="349.29" stroke="#222" stroke-opacity="0.45" stroke-width="0.4"/>
<line x1="452.20" x2="463.00" y1="347.19" y2="347.19" stroke="#222" stroke-opacity="0.45" stroke-width="0.4"/>
<line x1="457.60" x2="457.60" y1="351.29" y2="352.89" stroke="#222" stroke-width="0.5"/>
<line x1="456.60" x2="458.60" y1="351.29" y2="351.29" stroke="#222" stroke-width="0.5"/>
<line x1="457.60" x2="457.60" y1="348.49" y2="350.09" stroke="#222" stroke-width="0.5"/>
<line x1="456.60" x2="458.60" y1="348.49" y2="348.49" stroke="#222" stroke-width="0.5"/>
<line x1="457.60" x2="457.60" y1="346.69" y2="347.69" stroke="#222" stroke-width="0.5"/>
<line x1="456.60" x2="458.60" y1="346.69" y2="346.69" stroke="#222" stroke-width="0.5"/>
<line x1="457.60" x2="457.60" y1="296.74" y2="297.94" stroke="#222" stroke-width="0.5"/>
<line x1="456.60" x2="458.60" y1="296.74" y2="296.74" stroke="#222" stroke-width="0.5"/>
<line x1="457.60" x2="457.60" y1="360.4" y2="362.0" stroke="#858585" stroke-width="0.6"/>
<line x1="462.90" x2="462.90" y1="360.4" y2="361.4" stroke="#858585" stroke-width="0.5"/>
<text x="457.60" y="369.09999999999997" font-size="6.4" fill="#0a0a0a" font-weight="normal" text-anchor="middle" >1.5</text>
<rect x="473.40" y="352.49" width="10.8" height="7.91" fill="#ff0000"/>
<rect x="473.40" y="349.69" width="10.8" height="2.80" fill="#1f5fa5"/>
<rect x="473.40" y="347.59" width="10.8" height="2.10" fill="#ffc000"/>
<rect x="473.40" y="296.34" width="10.8" height="51.25" fill="#14be6e"/>
<rect x="473.40" y="296.34" width="10.8" height="64.06" fill="none" stroke="#1a1a1a" stroke-opacity="0.35" stroke-width="0.4"/>
<line x1="473.40" x2="484.20" y1="352.49" y2="352.49" stroke="#222" stroke-opacity="0.45" stroke-width="0.4"/>
<line x1="473.40" x2="484.20" y1="349.69" y2="349.69" stroke="#222" stroke-opacity="0.45" stroke-width="0.4"/>
<line x1="473.40" x2="484.20" y1="347.59" y2="347.59" stroke="#222" stroke-opacity="0.45" stroke-width="0.4"/>
<line x1="478.80" x2="478.80" y1="351.69" y2="353.29" stroke="#222" stroke-width="0.5"/>
<line x1="477.80" x2="479.80" y1="351.69" y2="351.69" stroke="#222" stroke-width="0.5"/>
<line x1="478.80" x2="478.80" y1="349.09" y2="350.29" stroke="#222" stroke-width="0.5"/>
<line x1="477.80" x2="479.80" y1="349.09" y2="349.09" stroke="#222" stroke-width="0.5"/>
<line x1="478.80" x2="478.80" y1="347.09" y2="348.09" stroke="#222" stroke-width="0.5"/>
<line x1="477.80" x2="479.80" y1="347.09" y2="347.09" stroke="#222" stroke-width="0.5"/>
<line x1="478.80" x2="478.80" y1="293.53" y2="299.14" stroke="#222" stroke-width="0.5"/>
<line x1="477.80" x2="479.80" y1="293.53" y2="293.53" stroke="#222" stroke-width="0.5"/>
<line x1="478.80" x2="478.80" y1="360.4" y2="362.0" stroke="#858585" stroke-width="0.6"/>
<line x1="484.10" x2="484.10" y1="360.4" y2="361.4" stroke="#858585" stroke-width="0.5"/>
<text x="478.80" y="369.09999999999997" font-size="6.4" fill="#0a0a0a" font-weight="normal" text-anchor="middle" >2.0</text>
<rect x="494.60" y="352.49" width="10.8" height="7.91" fill="#ff0000"/>
<rect x="494.60" y="349.29" width="10.8" height="3.20" fill="#1f5fa5"/>
<rect x="494.60" y="346.89" width="10.8" height="2.40" fill="#ffc000"/>
<rect x="494.60" y="295.64" width="10.8" height="51.25" fill="#14be6e"/>
<rect x="494.60" y="295.64" width="10.8" height="64.76" fill="none" stroke="#1a1a1a" stroke-opacity="0.35" stroke-width="0.4"/>
<line x1="494.60" x2="505.40" y1="352.49" y2="352.49" stroke="#222" stroke-opacity="0.45" stroke-width="0.4"/>
<line x1="494.60" x2="505.40" y1="349.29" y2="349.29" stroke="#222" stroke-opacity="0.45" stroke-width="0.4"/>
<line x1="494.60" x2="505.40" y1="346.89" y2="346.89" stroke="#222" stroke-opacity="0.45" stroke-width="0.4"/>
<line x1="500.00" x2="500.00" y1="351.69" y2="353.29" stroke="#222" stroke-width="0.5"/>
<line x1="499.00" x2="501.00" y1="351.69" y2="351.69" stroke="#222" stroke-width="0.5"/>
<line x1="500.00" x2="500.00" y1="348.49" y2="350.09" stroke="#222" stroke-width="0.5"/>
<line x1="499.00" x2="501.00" y1="348.49" y2="348.49" stroke="#222" stroke-width="0.5"/>
<line x1="500.00" x2="500.00" y1="346.39" y2="347.39" stroke="#222" stroke-width="0.5"/>
<line x1="499.00" x2="501.00" y1="346.39" y2="346.39" stroke="#222" stroke-width="0.5"/>
<line x1="500.00" x2="500.00" y1="292.13" y2="299.14" stroke="#222" stroke-width="0.5"/>
<line x1="499.00" x2="501.00" y1="292.13" y2="292.13" stroke="#222" stroke-width="0.5"/>
<line x1="500.00" x2="500.00" y1="360.4" y2="362.0" stroke="#858585" stroke-width="0.6"/>
<line x1="505.30" x2="505.30" y1="360.4" y2="361.4" stroke="#858585" stroke-width="0.5"/>
<text x="500.00" y="369.09999999999997" font-size="6.4" fill="#0a0a0a" font-weight="normal" text-anchor="middle" >2.5</text>
<rect x="515.80" y="352.49" width="10.8" height="7.91" fill="#ff0000"/>
<rect x="515.80" y="349.29" width="10.8" height="3.20" fill="#1f5fa5"/>
<rect x="515.80" y="346.89" width="10.8" height="2.40" fill="#ffc000"/>
<rect x="515.80" y="294.93" width="10.8" height="51.95" fill="#14be6e"/>
<rect x="515.80" y="294.93" width="10.8" height="65.47" fill="none" stroke="#1a1a1a" stroke-opacity="0.35" stroke-width="0.4"/>
<line x1="515.80" x2="526.60" y1="352.49" y2="352.49" stroke="#222" stroke-opacity="0.45" stroke-width="0.4"/>
<line x1="515.80" x2="526.60" y1="349.29" y2="349.29" stroke="#222" stroke-opacity="0.45" stroke-width="0.4"/>
<line x1="515.80" x2="526.60" y1="346.89" y2="346.89" stroke="#222" stroke-opacity="0.45" stroke-width="0.4"/>
<line x1="521.20" x2="521.20" y1="351.69" y2="353.29" stroke="#222" stroke-width="0.5"/>
<line x1="520.20" x2="522.20" y1="351.69" y2="351.69" stroke="#222" stroke-width="0.5"/>
<line x1="521.20" x2="521.20" y1="348.49" y2="350.09" stroke="#222" stroke-width="0.5"/>
<line x1="520.20" x2="522.20" y1="348.49" y2="348.49" stroke="#222" stroke-width="0.5"/>
<line x1="521.20" x2="521.20" y1="346.39" y2="347.39" stroke="#222" stroke-width="0.5"/>
<line x1="520.20" x2="522.20" y1="346.39" y2="346.39" stroke="#222" stroke-width="0.5"/>
<line x1="521.20" x2="521.20" y1="292.13" y2="297.74" stroke="#222" stroke-width="0.5"/>
<line x1="520.20" x2="522.20" y1="292.13" y2="292.13" stroke="#222" stroke-width="0.5"/>
<line x1="521.20" x2="521.20" y1="360.4" y2="362.0" stroke="#858585" stroke-width="0.6"/>
<line x1="526.50" x2="526.50" y1="360.4" y2="361.4" stroke="#858585" stroke-width="0.5"/>
<text x="521.20" y="369.09999999999997" font-size="6.4" fill="#0a0a0a" font-weight="normal" text-anchor="middle" >3.0</text>
<line x1="403.0" x2="404.6" y1="360.40" y2="360.40" stroke="#858585" stroke-width="0.6"/>
<text x="401.6" y="362.70" font-size="6.4" fill="#0a0a0a" font-weight="normal" text-anchor="end" >0</text>
<line x1="403.0" x2="404.6" y1="335.38" y2="335.38" stroke="#858585" stroke-width="0.6"/>
<text x="401.6" y="337.68" font-size="6.4" fill="#0a0a0a" font-weight="normal" text-anchor="end" >25</text>
<line x1="403.0" x2="404.6" y1="310.35" y2="310.35" stroke="#858585" stroke-width="0.6"/>
<text x="401.6" y="312.65" font-size="6.4" fill="#0a0a0a" font-weight="normal" text-anchor="end" >50</text>
<line x1="403.0" x2="404.6" y1="285.32" y2="285.32" stroke="#858585" stroke-width="0.6"/>
<text x="401.6" y="287.62" font-size="6.4" fill="#0a0a0a" font-weight="normal" text-anchor="end" >75</text>
<line x1="403.0" x2="404.6" y1="260.30" y2="260.30" stroke="#858585" stroke-width="0.6"/>
<text x="401.6" y="262.60" font-size="6.4" fill="#0a0a0a" font-weight="normal" text-anchor="end" >100</text>
<line x1="403.6" x2="404.6" y1="347.89" y2="347.89" stroke="#858585" stroke-width="0.5"/>
<line x1="403.6" x2="404.6" y1="322.86" y2="322.86" stroke="#858585" stroke-width="0.5"/>
<line x1="403.6" x2="404.6" y1="297.84" y2="297.84" stroke="#858585" stroke-width="0.5"/>
<line x1="403.6" x2="404.6" y1="272.81" y2="272.81" stroke="#858585" stroke-width="0.5"/>
<text x="468.2" y="379.59999999999997" font-size="8.8" fill="#0a0a0a" font-weight="normal" text-anchor="middle" >Time/h</text>
<text x="387.7" y="311.2" font-size="8.45" fill="#0a0a0a" font-weight="normal" text-anchor="middle" transform="rotate(-90 387.7 311.2)">Faraday efficiency/%</text>
<text x="413.7" y="276.3" font-size="8.1" fill="#0a0a0a" font-weight="normal" text-anchor="start" >OT-CuNNs</text>
<rect x="504.1" y="263.00" width="11.2" height="5.0" fill="#14be6e" stroke="#333" stroke-opacity="0.35" stroke-width="0.4"/>
<text x="517.1" y="267.30" font-size="4.6" fill="#333" font-weight="normal" text-anchor="start" >C<tspan font-size="3" dy="1">2</tspan><tspan dy="-1">H</tspan><tspan font-size="3" dy="1">4</tspan></text>
<rect x="504.1" y="269.90" width="11.2" height="5.0" fill="#ffc000" stroke="#333" stroke-opacity="0.35" stroke-width="0.4"/>
<text x="517.1" y="274.20" font-size="4.6" fill="#333" font-weight="normal" text-anchor="start" >CH<tspan font-size="3" dy="1">4</tspan></text>
<rect x="504.1" y="276.80" width="11.2" height="5.0" fill="#1f5fa5" stroke="#333" stroke-opacity="0.35" stroke-width="0.4"/>
<text x="517.1" y="281.10" font-size="4.6" fill="#333" font-weight="normal" text-anchor="start" >CO</text>
<rect x="504.1" y="283.70" width="11.2" height="5.0" fill="#ff0000" stroke="#333" stroke-opacity="0.35" stroke-width="0.4"/>
<text x="517.1" y="288.00" font-size="4.6" fill="#333" font-weight="normal" text-anchor="start" >H<tspan font-size="3" dy="1">2</tspan></text>
<rect x="20" y="381.4" width="22.9" height="18.6" fill="#64c83c"/>
<text x="31.45" y="394.8" font-size="11.8" fill="#000" font-weight="bold" text-anchor="middle" >(F)</text>
<rect x="65.5" y="395.6" width="126.80000000000001" height="100.69999999999999" fill="none" stroke="#858585" stroke-width="0.9"/>
<line x1="63.9" x2="65.5" y1="395.60" y2="395.60" stroke="#858585" stroke-width="0.6"/>
<text x="62.5" y="397.90" font-size="6.4" fill="#0a0a0a" font-weight="normal" text-anchor="end" >0</text>
<line x1="64.5" x2="65.5" y1="408.19" y2="408.19" stroke="#858585" stroke-width="0.5"/>
<line x1="63.9" x2="65.5" y1="420.78" y2="420.78" stroke="#858585" stroke-width="0.6"/>
<text x="62.5" y="423.08" font-size="6.4" fill="#0a0a0a" font-weight="normal" text-anchor="end" >-10</text>
<line x1="64.5" x2="65.5" y1="433.36" y2="433.36" stroke="#858585" stroke-width="0.5"/>
<line x1="63.9" x2="65.5" y1="445.95" y2="445.95" stroke="#858585" stroke-width="0.6"/>
<text x="62.5" y="448.25" font-size="6.4" fill="#0a0a0a" font-weight="normal" text-anchor="end" >-20</text>
<line x1="64.5" x2="65.5" y1="458.54" y2="458.54" stroke="#858585" stroke-width="0.5"/>
<line x1="63.9" x2="65.5" y1="471.12" y2="471.12" stroke="#858585" stroke-width="0.6"/>
<text x="62.5" y="473.43" font-size="6.4" fill="#0a0a0a" font-weight="normal" text-anchor="end" >-30</text>
<line x1="64.5" x2="65.5" y1="483.71" y2="483.71" stroke="#858585" stroke-width="0.5"/>
<line x1="63.9" x2="65.5" y1="496.30" y2="496.30" stroke="#858585" stroke-width="0.6"/>
<text x="62.5" y="498.60" font-size="6.4" fill="#0a0a0a" font-weight="normal" text-anchor="end" >-40</text>
<line x1="65.50" x2="65.50" y1="496.3" y2="497.90000000000003" stroke="#858585" stroke-width="0.6"/>
<line x1="76.07" x2="76.07" y1="496.3" y2="497.3" stroke="#858585" stroke-width="0.5"/>
<text x="65.50" y="504.7" font-size="6.4" fill="#0a0a0a" font-weight="normal" text-anchor="middle" >0.0</text>
<line x1="86.63" x2="86.63" y1="496.3" y2="497.90000000000003" stroke="#858585" stroke-width="0.6"/>
<line x1="97.20" x2="97.20" y1="496.3" y2="497.3" stroke="#858585" stroke-width="0.5"/>
<text x="86.63" y="504.7" font-size="6.4" fill="#0a0a0a" font-weight="normal" text-anchor="middle" >0.5</text>
<line x1="107.77" x2="107.77" y1="496.3" y2="497.90000000000003" stroke="#858585" stroke-width="0.6"/>
<line x1="118.33" x2="118.33" y1="496.3" y2="497.3" stroke="#858585" stroke-width="0.5"/>
<text x="107.77" y="504.7" font-size="6.4" fill="#0a0a0a" font-weight="normal" text-anchor="middle" >1.0</text>
<line x1="128.90" x2="128.90" y1="496.3" y2="497.90000000000003" stroke="#858585" stroke-width="0.6"/>
<line x1="139.47" x2="139.47" y1="496.3" y2="497.3" stroke="#858585" stroke-width="0.5"/>
<text x="128.90" y="504.7" font-size="6.4" fill="#0a0a0a" font-weight="normal" text-anchor="middle" >1.5</text>
<line x1="150.03" x2="150.03" y1="496.3" y2="497.90000000000003" stroke="#858585" stroke-width="0.6"/>
<line x1="160.60" x2="160.60" y1="496.3" y2="497.3" stroke="#858585" stroke-width="0.5"/>
<text x="150.03" y="504.7" font-size="6.4" fill="#0a0a0a" font-weight="normal" text-anchor="middle" >2.0</text>
<line x1="171.17" x2="171.17" y1="496.3" y2="497.90000000000003" stroke="#858585" stroke-width="0.6"/>
<line x1="181.73" x2="181.73" y1="496.3" y2="497.3" stroke="#858585" stroke-width="0.5"/>
<text x="171.17" y="504.7" font-size="6.4" fill="#0a0a0a" font-weight="normal" text-anchor="middle" >2.5</text>
<line x1="192.30" x2="192.30" y1="496.3" y2="497.90000000000003" stroke="#858585" stroke-width="0.6"/>
<text x="192.30" y="504.7" font-size="6.4" fill="#0a0a0a" font-weight="normal" text-anchor="middle" >3.0</text>
<text x="128.9" y="516.2" font-size="8.8" fill="#0a0a0a" font-weight="normal" text-anchor="middle" >Time/h</text>
<text x="49.3" y="446.6" font-size="8.35" fill="#222" text-anchor="middle" transform="rotate(-90 49.3 446.6)">Current density/mA·cm<tspan font-size="5.5" dy="-3">-2</tspan></text>
<polyline points="66.35,438.15 66.60,438.28 66.85,438.02 67.10,437.74 67.35,437.94 67.61,437.70 67.86,438.17 68.11,438.75 68.36,437.92 68.62,437.87 68.87,438.37 69.12,438.31 69.37,438.19 69.63,437.73 69.88,438.13 70.13,438.46 70.38,437.54 70.64,437.94 70.89,437.29 71.14,437.57 71.39,437.32 71.65,438.04 71.90,437.58 72.15,438.27 72.40,438.22 72.66,438.06 72.91,437.01 73.16,437.90 73.41,438.12 73.67,438.20 73.92,437.46 74.17,437.93 74.42,437.71 74.68,437.78 74.93,438.62 75.18,437.78 75.43,438.13 75.68,438.54 75.94,437.88 76.19,438.10 76.44,438.20 76.69,438.17 76.95,437.59 77.20,438.18 77.45,438.76 77.70,437.45 77.96,438.53 78.21,438.20 78.46,437.86 78.71,439.05 78.97,438.49 79.22,437.61 79.47,438.18 79.72,438.41 79.98,438.06 80.23,438.45 80.48,438.12 80.73,438.45 80.99,438.79 81.24,437.84 81.49,438.24 81.74,437.94 82.00,438.20 82.25,437.61 82.50,437.89 82.75,438.06 83.00,438.55 83.26,438.66 83.51,437.55 83.76,437.79 84.01,438.44 84.27,437.25 84.52,437.94 84.77,438.10 85.02,438.71 85.28,438.46 85.53,438.00 85.78,437.98 86.03,438.03 86.29,438.83 86.54,437.95 86.79,438.01 87.04,438.30 87.30,438.09 87.55,438.06 87.80,437.64 88.05,438.14 88.31,437.95 88.56,438.67 88.81,438.44 89.06,438.13 89.32,438.45 89.57,437.99 89.82,438.62 90.07,438.14 90.32,438.41 90.58,437.56 90.83,438.30 91.08,437.39 91.33,437.23 91.59,438.01 91.84,437.74 92.09,438.22 92.34,439.16 92.60,437.77 92.85,437.86 93.10,438.24 93.35,438.37 93.61,438.07 93.86,438.05 94.11,438.46 94.36,438.38 94.62,437.68 94.87,438.11 95.12,438.16 95.37,437.67 95.63,438.26 95.88,437.76 96.13,438.58 96.38,438.23 96.64,438.19 96.89,437.88 97.14,438.09 97.39,437.25 97.64,437.64 97.90,438.31 98.15,437.19 98.40,438.53 98.65,437.36 98.91,438.49 99.16,437.77 99.41,438.50 99.66,438.20 99.92,437.45 100.17,438.71 100.42,438.79 100.67,438.12 100.93,438.02 101.18,438.07 101.43,437.71 101.68,438.64 101.94,437.90 102.19,438.12 102.44,437.79 102.69,437.86 102.95,437.57 103.20,438.71 103.45,438.08 103.70,438.58 103.96,438.15 104.21,437.83 104.46,438.00 104.71,437.89 104.96,438.15 105.22,437.98 105.47,438.01 105.72,437.53 105.97,437.78 106.23,438.89 106.48,437.84 106.73,437.67 106.98,438.30 107.24,438.78 107.49,437.49 107.74,438.05 107.99,437.86 108.25,437.35 108.50,438.48 108.75,438.14 109.00,438.18 109.26,437.81 109.51,438.35 109.76,437.90 110.01,438.08 110.27,437.65 110.52,437.60 110.77,438.75 111.02,437.92 111.28,438.28 111.53,438.13 111.78,437.95 112.03,437.92 112.28,438.43 112.54,438.01 112.79,438.08 113.04,438.16 113.29,438.68 113.55,438.45 113.80,438.32 114.05,437.89 114.30,437.52 114.56,438.57 114.81,438.58 115.06,438.08 115.31,438.39 115.57,438.50 115.82,438.52 116.07,438.56 116.32,437.94 116.58,438.83 116.83,437.58 117.08,438.53 117.33,438.37 117.59,438.54 117.84,438.99 118.09,438.81 118.34,437.63 118.60,437.39 118.85,438.51 119.10,437.69 119.35,438.14 119.60,438.52 119.86,437.41 120.11,437.20 120.36,438.26 120.61,438.17 120.87,438.04 121.12,438.16 121.37,437.76 121.62,437.46 121.88,438.07 122.13,437.71 122.38,437.41 122.63,438.37 122.89,438.12 123.14,438.33 123.39,437.70 123.64,437.85 123.90,437.70 124.15,437.75 124.40,438.23 124.65,437.79 124.91,438.31 125.16,438.30 125.41,439.06 125.66,437.52 125.92,438.55 126.17,438.11 126.42,438.14 126.67,437.49 126.92,437.94 127.18,438.48 127.43,438.11 127.68,438.18 127.93,438.01 128.19,438.67 128.44,438.14 128.69,437.16 128.94,437.83 129.20,437.26 129.45,436.68 129.70,437.91 129.95,438.75 130.21,438.17 130.46,437.62 130.71,437.72 130.96,438.65 131.22,438.22 131.47,438.17 131.72,438.12 131.97,438.16 132.23,438.51 132.48,438.39 132.73,438.24 132.98,437.68 133.24,438.38 133.49,437.84 133.74,438.64 133.99,437.57 134.24,438.08 134.50,438.14 134.75,437.55 135.00,438.92 135.25,438.80 135.51,437.94 135.76,438.49 136.01,438.32 136.26,436.97 136.52,438.26 136.77,438.12 137.02,438.18 137.27,437.66 137.53,438.02 137.78,438.07 138.03,438.68 138.28,438.30 138.54,438.14 138.79,438.83 139.04,437.90 139.29,437.97 139.55,437.33 139.80,438.85 140.05,438.58 140.30,438.56 140.56,438.45 140.81,438.20 141.06,438.24 141.31,438.03 141.56,438.05 141.82,438.17 142.07,438.83 142.32,438.40 142.57,438.12 142.83,437.89 143.08,437.86 143.33,438.87 143.58,438.37 143.84,438.18 144.09,437.99 144.34,437.65 144.59,438.12 144.85,438.54 145.10,437.97 145.35,438.04 145.60,438.05 145.86,438.20 146.11,437.43 146.36,438.04 146.61,437.76 146.87,438.54 147.12,437.80 147.37,438.41 147.62,438.83 147.88,438.00 148.13,437.88 148.38,438.23 148.63,438.14 148.88,437.70 149.14,438.35 149.39,439.05 149.64,438.03 149.89,438.05 150.15,437.68 150.40,438.29 150.65,437.58 150.90,437.65 151.16,438.72 151.41,437.74 151.66,438.63 151.91,438.83 152.17,438.26 152.42,438.39 152.67,439.02 152.92,438.06 153.18,437.88 153.43,437.54 153.68,438.16 153.93,438.81 154.19,438.58 154.44,437.72 154.69,437.76 154.94,437.92 155.20,438.28 155.45,438.05 155.70,438.24 155.95,438.28 156.20,438.01 156.46,438.13 156.71,438.24 156.96,438.11 157.21,438.37 157.47,438.99 157.72,438.41 157.97,438.17 158.22,437.39 158.48,438.32 158.73,437.27 158.98,437.51 159.23,438.53 159.49,438.46 159.74,438.08 159.99,437.38 160.24,437.98 160.50,437.84 160.75,438.43 161.00,439.16 161.25,438.24 161.51,437.80 161.76,437.62 162.01,438.12 162.26,438.07 162.52,437.63 162.77,438.20 163.02,437.63 163.27,438.65 163.52,438.62 163.78,438.63 164.03,437.93 164.28,438.38 164.53,438.09 164.79,437.97 165.04,437.99 165.29,437.56 165.54,437.50 165.80,438.50 166.05,438.06 166.30,438.24 166.55,438.60 166.81,437.37 167.06,437.79 167.31,438.22 167.56,438.32 167.82,437.98 168.07,438.61 168.32,438.24 168.57,437.60 168.83,437.73 169.08,438.51 169.33,438.35 169.58,437.29 169.84,438.75 170.09,438.41 170.34,438.75 170.59,437.97 170.84,438.01 171.10,437.64 171.35,439.29 171.60,438.07 171.85,438.86 172.11,437.85 172.36,438.22 172.61,437.39 172.86,437.97 173.12,438.59 173.37,437.58 173.62,438.63 173.87,438.30 174.13,437.68 174.38,437.92 174.63,437.94 174.88,438.12 175.14,437.90 175.39,437.77 175.64,438.01 175.89,437.68 176.15,437.57 176.40,438.12 176.65,438.54 176.90,437.46 177.16,438.15 177.41,437.85 177.66,437.71 177.91,438.53 178.16,437.91 178.42,438.82 178.67,437.79 178.92,438.32 179.17,438.04 179.43,437.81 179.68,438.41 179.93,438.08 180.18,438.42 180.44,438.12 180.69,437.66 180.94,438.10 181.19,438.17 181.45,438.58 181.70,437.74 181.95,438.13 182.20,437.37 182.46,438.44 182.71,437.66 182.96,437.33 183.21,438.12 183.47,438.64 183.72,437.46 183.97,437.66 184.22,437.81 184.48,437.64 184.73,438.32 184.98,437.78 185.23,437.82 185.48,438.41 185.74,437.81 185.99,438.34 186.24,437.71 186.49,437.60 186.75,437.32 187.00,438.98 187.25,438.00 187.50,438.26 187.76,438.13 188.01,438.22 188.26,438.17 188.51,439.00 188.77,437.68 189.02,437.44 189.27,437.69 189.52,437.55 189.78,438.48 190.03,438.51 190.28,437.71 190.53,437.52 190.79,437.99 191.04,438.77 191.29,436.88 191.54,438.38 191.80,437.66 192.05,438.61 192.30,437.66" fill="none" stroke="#1eeb1e" stroke-width="3.4" stroke-linejoin="round"/>
<polyline points="66.35,422.02 66.60,421.20 66.85,421.19 67.10,422.03 67.35,421.57 67.61,420.84 67.86,420.46 68.11,419.85 68.36,420.39 68.62,420.43 68.87,420.29 69.12,420.19 69.37,419.63 69.63,420.03 69.88,419.96 70.13,420.49 70.38,420.69 70.64,419.73 70.89,419.40 71.14,419.67 71.39,419.39 71.65,419.29 71.90,419.56 72.15,419.09 72.40,419.80 72.66,419.46 72.91,419.59 73.16,419.38 73.41,419.12 73.67,419.00 73.92,419.30 74.17,419.15 74.42,419.49 74.68,419.37 74.93,418.75 75.18,419.38 75.43,418.74 75.68,419.06 75.94,419.20 76.19,418.39 76.44,419.36 76.69,419.38 76.95,419.24 77.20,419.11 77.45,419.13 77.70,418.86 77.96,419.17 78.21,419.04 78.46,419.33 78.71,418.74 78.97,419.39 79.22,419.35 79.47,419.22 79.72,419.08 79.98,419.53 80.23,418.53 80.48,419.48 80.73,419.38 80.99,419.40 81.24,419.45 81.49,418.98 81.74,419.15 82.00,419.56 82.25,419.46 82.50,419.36 82.75,418.59 83.00,419.51 83.26,419.79 83.51,419.72 83.76,419.37 84.01,418.57 84.27,419.69 84.52,419.20 84.77,418.13 85.02,419.44 85.28,418.59 85.53,418.68 85.78,418.98 86.03,419.84 86.29,419.10 86.54,419.39 86.79,420.05 87.04,419.98 87.30,419.22 87.55,419.16 87.80,418.70 88.05,418.95 88.31,419.46 88.56,419.44 88.81,419.31 89.06,419.71 89.32,418.92 89.57,419.24 89.82,419.59 90.07,419.53 90.32,419.75 90.58,419.44 90.83,419.13 91.08,419.43 91.33,418.81 91.59,418.53 91.84,419.53 92.09,419.24 92.34,419.40 92.60,418.50 92.85,419.10 93.10,418.99 93.35,418.88 93.61,418.25 93.86,419.11 94.11,419.67 94.36,419.44 94.62,418.99 94.87,419.26 95.12,419.61 95.37,418.02 95.63,419.21 95.88,419.51 96.13,419.57 96.38,420.03 96.64,419.78 96.89,419.41 97.14,419.40 97.39,419.62 97.64,419.02 97.90,419.25 98.15,419.67 98.40,420.15 98.65,419.19 98.91,419.24 99.16,419.35 99.41,419.87 99.66,419.25 99.92,419.93 100.17,418.83 100.42,419.18 100.67,419.18 100.93,419.62 101.18,419.73 101.43,418.59 101.68,418.85 101.94,419.42 102.19,418.97 102.44,418.58 102.69,419.73 102.95,419.49 103.20,419.49 103.45,419.05 103.70,419.73 103.96,419.16 104.21,419.76 104.46,418.85 104.71,418.88 104.96,419.36 105.22,418.95 105.47,419.57 105.72,419.38 105.97,418.85 106.23,419.30 106.48,419.11 106.73,419.68 106.98,418.98 107.24,419.07 107.49,419.81 107.74,420.27 107.99,420.16 108.25,419.29 108.50,419.36 108.75,419.95 109.00,419.21 109.26,418.83 109.51,419.32 109.76,419.47 110.01,418.89 110.27,418.52 110.52,418.62 110.77,419.56 111.02,418.92 111.28,419.20 111.53,419.36 111.78,419.54 112.03,419.11 112.28,419.49 112.54,418.86 112.79,419.10 113.04,418.80 113.29,419.77 113.55,419.25 113.80,418.93 114.05,419.11 114.30,419.16 114.56,419.58 114.81,418.55 115.06,418.80 115.31,419.09 115.57,420.40 115.82,419.69 116.07,419.21 116.32,419.58 116.58,420.19 116.83,419.16 117.08,419.10 117.33,419.81 117.59,419.49 117.84,419.57 118.09,419.04 118.34,420.13 118.60,420.03 118.85,419.52 119.10,419.57 119.35,418.35 119.60,419.55 119.86,419.18 120.11,419.46 120.36,419.57 120.61,419.11 120.87,418.50 121.12,419.43 121.37,418.93 121.62,419.12 121.88,418.99 122.13,419.11 122.38,418.23 122.63,419.81 122.89,419.38 123.14,419.76 123.39,420.16 123.64,419.27 123.90,418.45 124.15,418.86 124.40,418.72 124.65,419.04 124.91,419.30 125.16,418.36 125.41,419.42 125.66,418.58 125.92,419.40 126.17,419.22 126.42,419.12 126.67,419.23 126.92,419.02 127.18,418.99 127.43,418.51 127.68,419.25 127.93,420.09 128.19,420.16 128.44,419.86 128.69,419.58 128.94,418.96 129.20,419.91 129.45,419.24 129.70,419.23 129.95,419.13 130.21,419.31 130.46,419.07 130.71,419.23 130.96,418.78 131.22,419.10 131.47,420.29 131.72,419.23 131.97,419.16 132.23,419.50 132.48,419.58 132.73,418.76 132.98,419.17 133.24,419.68 133.49,419.39 133.74,419.32 133.99,419.96 134.24,418.96 134.50,419.30 134.75,419.03 135.00,419.94 135.25,418.39 135.51,418.96 135.76,419.03 136.01,419.56 136.26,419.54 136.52,419.89 136.77,418.56 137.02,419.60 137.27,419.13 137.53,418.96 137.78,419.51 138.03,418.85 138.28,418.33 138.54,419.10 138.79,418.59 139.04,418.97 139.29,419.43 139.55,419.40 139.80,419.98 140.05,419.17 140.30,418.57 140.56,418.92 140.81,418.85 141.06,418.72 141.31,419.46 141.56,418.97 141.82,418.37 142.07,419.58 142.32,419.21 142.57,419.43 142.83,419.31 143.08,419.55 143.33,419.28 143.58,419.82 143.84,419.46 144.09,419.44 144.34,419.45 144.59,418.61 144.85,419.19 145.10,419.15 145.35,419.36 145.60,418.65 145.86,420.00 146.11,419.31 146.36,418.72 146.61,418.50 146.87,419.14 147.12,419.22 147.37,418.94 147.62,419.31 147.88,418.98 148.13,419.51 148.38,418.94 148.63,419.25 148.88,419.70 149.14,420.42 149.39,418.81 149.64,419.06 149.89,418.89 150.15,419.62 150.40,418.75 150.65,419.05 150.90,419.25 151.16,418.82 151.41,418.83 151.66,419.05 151.91,418.32 152.17,418.61 152.42,419.08 152.67,419.33 152.92,419.18 153.18,418.47 153.43,419.06 153.68,419.62 153.93,419.51 154.19,419.23 154.44,418.87 154.69,419.55 154.94,419.00 155.20,418.74 155.45,418.90 155.70,419.92 155.95,419.36 156.20,419.79 156.46,419.05 156.71,419.69 156.96,418.99 157.21,419.19 157.47,420.38 157.72,419.61 157.97,419.04 158.22,419.23 158.48,419.41 158.73,419.81 158.98,419.04 159.23,418.48 159.49,419.14 159.74,419.27 159.99,419.31 160.24,419.86 160.50,419.41 160.75,419.63 161.00,418.77 161.25,419.66 161.51,420.21 161.76,419.61 162.01,419.38 162.26,419.33 162.52,420.07 162.77,418.85 163.02,419.21 163.27,419.47 163.52,419.60 163.78,419.07 164.03,419.40 164.28,419.14 164.53,419.32 164.79,419.21 165.04,418.75 165.29,419.25 165.54,419.66 165.80,418.83 166.05,419.16 166.30,419.56 166.55,418.78 166.81,419.35 167.06,418.79 167.31,419.78 167.56,420.31 167.82,420.17 168.07,419.17 168.32,419.60 168.57,419.32 168.83,419.31 169.08,419.96 169.33,418.67 169.58,419.74 169.84,419.24 170.09,419.90 170.34,419.35 170.59,418.96 170.84,419.39 171.10,419.60 171.35,419.28 171.60,419.48 171.85,419.03 172.11,418.30 172.36,419.67 172.61,419.58 172.86,419.33 173.12,419.30 173.37,419.73 173.62,419.06 173.87,418.95 174.13,419.18 174.38,419.80 174.63,418.64 174.88,419.80 175.14,418.98 175.39,418.77 175.64,419.83 175.89,419.22 176.15,418.68 176.40,419.10 176.65,419.68 176.90,419.80 177.16,419.07 177.41,419.45 177.66,419.59 177.91,418.97 178.16,419.42 178.42,419.25 178.67,419.02 178.92,419.04 179.17,419.29 179.43,419.28 179.68,419.01 179.93,419.07 180.18,419.77 180.44,419.36 180.69,419.66 180.94,419.81 181.19,419.53 181.45,420.29 181.70,418.89 181.95,419.63 182.20,419.12 182.46,420.10 182.71,420.03 182.96,418.39 183.21,418.83 183.47,419.56 183.72,419.62 183.97,419.60 184.22,419.23 184.48,419.47 184.73,419.56 184.98,419.23 185.23,419.73 185.48,418.25 185.74,419.55 185.99,418.80 186.24,419.70 186.49,419.16 186.75,418.86 187.00,419.43 187.25,418.85 187.50,418.85 187.76,418.56 188.01,419.25 188.26,419.49 188.51,419.72 188.77,419.20 189.02,419.74 189.27,419.27 189.52,419.22 189.78,419.52 190.03,419.74 190.28,419.11 190.53,419.15 190.79,419.19 191.04,419.30 191.29,418.86 191.54,419.73 191.80,419.08 192.05,419.47 192.30,418.89" fill="none" stroke="#ff1414" stroke-width="3.4" stroke-linejoin="round"/>
<polyline points="66.35,420.48 66.60,420.23 66.85,419.80 67.10,420.21 67.35,419.62 67.61,419.81 67.86,419.45 68.11,418.90 68.36,418.84 68.62,418.92 68.87,418.70 69.12,418.58 69.37,418.39 69.63,417.90 69.88,418.20 70.13,417.60 70.38,418.16 70.64,417.79 70.89,417.70 71.14,417.74 71.39,417.78 71.65,417.28 71.90,417.12 72.15,417.21 72.40,416.89 72.66,417.09 72.91,417.66 73.16,416.92 73.41,417.28 73.67,416.71 73.92,417.06 74.17,416.84 74.42,416.84 74.68,416.94 74.93,417.17 75.18,416.72 75.43,416.64 75.68,416.31 75.94,416.64 76.19,416.38 76.44,416.59 76.69,416.32 76.95,416.71 77.20,415.73 77.45,416.10 77.70,416.34 77.96,415.98 78.21,415.82 78.46,415.90 78.71,415.57 78.97,415.90 79.22,416.43 79.47,416.06 79.72,415.45 79.98,415.46 80.23,415.53 80.48,415.84 80.73,415.34 80.99,415.33 81.24,415.68 81.49,415.63 81.74,415.28 82.00,415.05 82.25,414.90 82.50,415.07 82.75,414.64 83.00,415.35 83.26,414.96 83.51,415.20 83.76,415.51 84.01,415.29 84.27,414.67 84.52,415.14 84.77,415.17 85.02,414.66 85.28,414.57 85.53,414.74 85.78,414.33 86.03,415.06 86.29,414.05 86.54,414.34 86.79,414.52 87.04,414.49 87.30,414.55 87.55,414.54 87.80,414.39 88.05,414.69 88.31,413.84 88.56,414.34 88.81,414.12 89.06,414.30 89.32,414.29 89.57,413.97 89.82,414.01 90.07,414.33 90.32,414.19 90.58,413.90 90.83,414.55 91.08,414.58 91.33,413.61 91.59,414.02 91.84,414.54 92.09,414.07 92.34,413.90 92.60,413.76 92.85,413.65 93.10,413.70 93.35,413.59 93.61,413.88 93.86,413.56 94.11,413.52 94.36,413.30 94.62,413.56 94.87,413.32 95.12,413.47 95.37,413.75 95.63,413.55 95.88,413.56 96.13,413.49 96.38,413.39 96.64,413.31 96.89,413.24 97.14,413.48 97.39,412.99 97.64,413.57 97.90,413.21 98.15,412.99 98.40,413.03 98.65,412.95 98.91,413.13 99.16,412.89 99.41,413.33 99.66,412.82 99.92,412.42 100.17,412.78 100.42,412.43 100.67,412.90 100.93,413.15 101.18,413.02 101.43,412.50 101.68,412.61 101.94,413.22 102.19,412.83 102.44,412.73 102.69,412.97 102.95,413.29 103.20,412.98 103.45,412.66 103.70,412.69 103.96,412.73 104.21,412.40 104.46,412.26 104.71,412.52 104.96,412.24 105.22,412.44 105.47,412.46 105.72,412.99 105.97,412.17 106.23,412.33 106.48,412.29 106.73,412.42 106.98,412.55 107.24,412.14 107.49,412.04 107.74,411.81 107.99,411.96 108.25,412.31 108.50,412.16 108.75,411.87 109.00,412.01 109.26,412.09 109.51,412.18 109.76,411.89 110.01,411.95 110.27,411.53 110.52,411.68 110.77,412.35 111.02,411.38 111.28,411.82 111.53,411.93 111.78,411.76 112.03,411.63 112.28,411.80 112.54,411.79 112.79,411.75 113.04,411.28 113.29,411.69 113.55,411.49 113.80,411.55 114.05,411.72 114.30,411.80 114.56,411.84 114.81,411.47 115.06,411.81 115.31,411.85 115.57,411.82 115.82,411.86 116.07,411.46 116.32,411.43 116.58,411.66 116.83,411.09 117.08,411.46 117.33,411.26 117.59,411.28 117.84,410.91 118.09,411.11 118.34,411.30 118.60,411.51 118.85,411.52 119.10,411.23 119.35,411.18 119.60,411.00 119.86,411.29 120.11,411.11 120.36,411.30 120.61,411.57 120.87,411.10 121.12,410.72 121.37,410.86 121.62,410.69 121.88,410.73 122.13,411.34 122.38,411.05 122.63,410.59 122.89,411.12 123.14,411.25 123.39,410.83 123.64,410.73 123.90,410.80 124.15,410.93 124.40,411.00 124.65,411.12 124.91,411.11 125.16,411.08 125.41,411.11 125.66,410.91 125.92,410.35 126.17,410.68 126.42,410.77 126.67,410.58 126.92,410.88 127.18,410.55 127.43,410.39 127.68,410.96 127.93,410.75 128.19,410.62 128.44,410.78 128.69,410.79 128.94,410.60 129.20,409.88 129.45,410.31 129.70,410.34 129.95,410.19 130.21,410.47 130.46,410.70 130.71,410.27 130.96,410.09 131.22,410.86 131.47,410.22 131.72,410.01 131.97,410.36 132.23,410.39 132.48,410.09 132.73,410.44 132.98,410.11 133.24,409.98 133.49,410.24 133.74,410.37 133.99,410.00 134.24,410.23 134.50,410.10 134.75,410.82 135.00,409.92 135.25,410.42 135.51,410.05 135.76,410.01 136.01,410.21 136.26,410.23 136.52,410.31 136.77,410.06 137.02,409.81 137.27,409.81 137.53,410.05 137.78,410.05 138.03,410.24 138.28,409.98 138.54,410.12 138.79,410.22 139.04,409.87 139.29,409.44 139.55,409.50 139.80,409.42 140.05,410.16 140.30,409.53 140.56,410.04 140.81,409.86 141.06,410.13 141.31,409.93 141.56,409.64 141.82,409.60 142.07,409.65 142.32,409.66 142.57,409.47 142.83,409.58 143.08,409.97 143.33,409.13 143.58,409.60 143.84,409.30 144.09,409.55 144.34,409.70 144.59,409.46 144.85,409.65 145.10,409.05 145.35,409.71 145.60,409.26 145.86,409.55 146.11,409.43 146.36,408.72 146.61,409.16 146.87,409.39 147.12,409.71 147.37,409.38 147.62,409.36 147.88,408.92 148.13,409.62 148.38,409.70 148.63,409.24 148.88,409.16 149.14,408.80 149.39,409.41 149.64,409.85 149.89,409.33 150.15,409.46 150.40,409.26 150.65,408.86 150.90,409.43 151.16,408.77 151.41,409.01 151.66,409.12 151.91,409.26 152.17,409.13 152.42,409.10 152.67,408.80 152.92,408.66 153.18,408.98 153.43,408.77 153.68,408.61 153.93,408.60 154.19,408.78 154.44,408.43 154.69,408.54 154.94,408.45 155.20,408.89 155.45,408.94 155.70,409.32 155.95,408.43 156.20,408.62 156.46,409.00 156.71,408.71 156.96,408.67 157.21,409.16 157.47,408.63 157.72,408.42 157.97,408.36 158.22,408.76 158.48,408.74 158.73,408.31 158.98,408.39 159.23,408.75 159.49,408.75 159.74,408.43 159.99,408.73 160.24,408.71 160.50,408.11 160.75,408.46 161.00,408.63 161.25,408.37 161.51,407.96 161.76,408.41 162.01,408.66 162.26,408.85 162.52,407.89 162.77,409.08 163.02,408.13 163.27,408.64 163.52,408.70 163.78,408.62 164.03,408.40 164.28,408.06 164.53,408.49 164.79,408.14 165.04,407.67 165.29,409.00 165.54,408.46 165.80,408.72 166.05,408.02 166.30,408.61 166.55,408.62 166.81,408.60 167.06,408.19 167.31,407.88 167.56,408.13 167.82,407.61 168.07,407.72 168.32,408.16 168.57,407.87 168.83,408.07 169.08,408.07 169.33,408.56 169.58,408.39 169.84,408.04 170.09,408.34 170.34,407.83 170.59,407.93 170.84,408.23 171.10,407.68 171.35,407.91 171.60,407.63 171.85,407.98 172.11,408.35 172.36,407.74 172.61,407.97 172.86,407.67 173.12,407.60 173.37,407.56 173.62,408.22 173.87,408.44 174.13,407.96 174.38,407.64 174.63,407.99 174.88,407.71 175.14,407.98 175.39,407.84 175.64,407.83 175.89,407.90 176.15,407.59 176.40,407.62 176.65,407.28 176.90,407.59 177.16,407.33 177.41,407.63 177.66,407.42 177.91,407.67 178.16,407.75 178.42,407.27 178.67,407.41 178.92,407.36 179.17,407.77 179.43,408.00 179.68,407.77 179.93,407.46 180.18,407.90 180.44,407.14 180.69,407.89 180.94,407.33 181.19,406.79 181.45,408.14 181.70,407.86 181.95,407.19 182.20,407.48 182.46,407.37 182.71,407.44 182.96,407.03 183.21,407.22 183.47,407.49 183.72,407.42 183.97,407.65 184.22,407.36 184.48,407.92 184.73,407.14 184.98,407.37 185.23,406.81 185.48,406.97 185.74,407.60 185.99,407.02 186.24,407.38 186.49,407.22 186.75,406.96 187.00,407.12 187.25,407.07 187.50,407.06 187.76,407.36 188.01,407.32 188.26,407.01 188.51,406.91 188.77,407.20 189.02,407.09 189.27,407.36 189.52,407.76 189.78,407.29 190.03,407.06 190.28,407.01 190.53,406.83 190.79,406.81 191.04,406.77 191.29,406.91 191.54,406.89 191.80,407.17 192.05,406.88 192.30,406.91" fill="none" stroke="#1e1ef0" stroke-width="3.1" stroke-linejoin="round"/>
<line x1="65.71" y1="439.66" x2="66.35" y2="423.29" stroke="#ff1414" stroke-width="1.6"/>
<line x1="65.63" y1="425.81" x2="66.01" y2="438.40" stroke="#1eeb1e" stroke-width="1.4"/>
<circle cx="65.63" cy="444.94" r="0.9" fill="#1eeb1e"/>
<circle cx="65.71" cy="454.01" r="0.8" fill="#ff1414"/>
<text x="189.1" y="403.8" font-size="6.75" fill="#2424e4" font-weight="normal" text-anchor="end" >annealed CuNNs</text>
<text x="187" y="428.1" font-size="6.5" fill="#ff2020" font-weight="normal" text-anchor="end" >CuNNs</text>
<text x="187.8" y="447.6" font-size="6.7" fill="#22e622" font-weight="normal" text-anchor="end" >OT-CuNNs</text>
<rect x="202.6" y="381.6" width="24.4" height="18.6" fill="#64c83c"/>
<text x="214.79999999999998" y="395.00000000000006" font-size="11.8" fill="#000" font-weight="bold" text-anchor="middle" >(G)</text>
<rect x="234.9" y="395.8" width="126.29999999999998" height="99.39999999999998" fill="url(#jet)"/>
<line x1="233.3" x2="234.9" y1="411.50" y2="411.50" stroke="#858585" stroke-width="0.6"/>
<text x="231.9" y="413.80" font-size="6.4" fill="#0a0a0a" font-weight="normal" text-anchor="end" >10</text>
<line x1="234.0" x2="234.9" y1="400.60" y2="400.60" stroke="#858585" stroke-width="0.4"/>
<line x1="233.3" x2="234.9" y1="447.70" y2="447.70" stroke="#858585" stroke-width="0.6"/>
<text x="231.9" y="450.00" font-size="6.4" fill="#0a0a0a" font-weight="normal" text-anchor="end" >1</text>
<line x1="234.0" x2="234.9" y1="436.80" y2="436.80" stroke="#858585" stroke-width="0.4"/>
<line x1="234.0" x2="234.9" y1="430.43" y2="430.43" stroke="#858585" stroke-width="0.4"/>
<line x1="234.0" x2="234.9" y1="425.91" y2="425.91" stroke="#858585" stroke-width="0.4"/>
<line x1="234.0" x2="234.9" y1="422.40" y2="422.40" stroke="#858585" stroke-width="0.4"/>
<line x1="234.0" x2="234.9" y1="419.53" y2="419.53" stroke="#858585" stroke-width="0.4"/>
<line x1="234.0" x2="234.9" y1="417.11" y2="417.11" stroke="#858585" stroke-width="0.4"/>
<line x1="234.0" x2="234.9" y1="415.01" y2="415.01" stroke="#858585" stroke-width="0.4"/>
<line x1="234.0" x2="234.9" y1="413.16" y2="413.16" stroke="#858585" stroke-width="0.4"/>
<line x1="233.3" x2="234.9" y1="483.90" y2="483.90" stroke="#858585" stroke-width="0.6"/>
<text x="231.9" y="486.20" font-size="6.4" fill="#0a0a0a" font-weight="normal" text-anchor="end" >0.1</text>
<line x1="234.0" x2="234.9" y1="473.00" y2="473.00" stroke="#858585" stroke-width="0.4"/>
<line x1="234.0" x2="234.9" y1="466.63" y2="466.63" stroke="#858585" stroke-width="0.4"/>
<line x1="234.0" x2="234.9" y1="462.11" y2="462.11" stroke="#858585" stroke-width="0.4"/>
<line x1="234.0" x2="234.9" y1="458.60" y2="458.60" stroke="#858585" stroke-width="0.4"/>
<line x1="234.0" x2="234.9" y1="455.73" y2="455.73" stroke="#858585" stroke-width="0.4"/>
<line x1="234.0" x2="234.9" y1="453.31" y2="453.31" stroke="#858585" stroke-width="0.4"/>
<line x1="234.0" x2="234.9" y1="451.21" y2="451.21" stroke="#858585" stroke-width="0.4"/>
<line x1="234.0" x2="234.9" y1="449.36" y2="449.36" stroke="#858585" stroke-width="0.4"/>
<text x="219.3" y="445.05" font-size="8.4" fill="#0a0a0a" text-anchor="middle" transform="rotate(-90 219.3 445.05)">Standard deviation</text>
<text x="254.3" y="403.2" font-size="7.4" fill="#fff" font-weight="normal" text-anchor="middle" >Annealed</text>
<text x="255.7" y="412.3" font-size="7.4" fill="#fff" font-weight="normal" text-anchor="middle" >CuNNs</text>
<text x="297.5" y="434.4" font-size="7.4" fill="#fff" font-weight="normal" text-anchor="middle" >CuNNs</text>
<text x="339.4" y="451.6" font-size="7.4" fill="#fff" font-weight="normal" text-anchor="middle" >OT-CuNNs</text>
<rect x="254.00" y="413.80" width="4.0" height="4.0" fill="#fff" stroke="#f0304a" stroke-width="1.2"/>
<circle cx="256.00" cy="432.60" r="2.0" fill="#fff" stroke="#2a5cc8" stroke-width="1.2"/>
<polygon points="256.00,432.90 258.60,428.60 253.40,428.60" fill="#fff" stroke="#10c070" stroke-width="1.2" stroke-linejoin="round"/>
<polygon points="256.00,443.90 258.60,448.20 253.40,448.20" fill="#fff" stroke="#f0d000" stroke-width="1.2" stroke-linejoin="round"/>
<polygon points="298.00,444.50 300.60,440.20 295.40,440.20" fill="#fff" stroke="#10c070" stroke-width="1.2" stroke-linejoin="round"/>
<rect x="296.00" y="456.60" width="4.0" height="4.0" fill="#fff" stroke="#f0304a" stroke-width="1.2"/>
<polygon points="298.00,467.90 300.60,472.20 295.40,472.20" fill="#fff" stroke="#f0d000" stroke-width="1.2" stroke-linejoin="round"/>
<circle cx="298.00" cy="469.60" r="2.0" fill="#fff" stroke="#2a5cc8" stroke-width="1.2"/>
<polygon points="298.00,467.90 300.60,472.20 295.40,472.20" fill="#fff" stroke="#f0d000" stroke-width="1.2" stroke-linejoin="round"/>
<polygon points="340.40,459.70 343.00,455.40 337.80,455.40" fill="#fff" stroke="#10c070" stroke-width="1.2" stroke-linejoin="round"/>
<rect x="338.40" y="470.20" width="4.0" height="4.0" fill="#fff" stroke="#f0304a" stroke-width="1.2"/>
<circle cx="340.40" cy="469.70" r="2.0" fill="#fff" stroke="#2a5cc8" stroke-width="1.2"/>
<polygon points="340.40,485.80 343.00,490.10 337.80,490.10" fill="#fff" stroke="#f0d000" stroke-width="1.2" stroke-linejoin="round"/>
<rect x="365.70" y="426.40" width="4.0" height="4.0" fill="#fff" stroke="#f0304a" stroke-width="1.2"/>
<circle cx="367.70" cy="435.40" r="2.0" fill="#fff" stroke="#2a5cc8" stroke-width="1.2"/>
<polygon points="367.70,439.60 370.30,443.90 365.10,443.90" fill="#fff" stroke="#f0d000" stroke-width="1.2" stroke-linejoin="round"/>
<polygon points="367.70,451.50 370.30,447.20 365.10,447.20" fill="#fff" stroke="#10c070" stroke-width="1.2" stroke-linejoin="round"/>
<text x="373.6" y="430.6" font-size="5.4" fill="#333" font-weight="normal" text-anchor="start" >H<tspan font-size="3.4" dy="1">2</tspan></text>
<text x="373.6" y="437.6" font-size="5.4" fill="#333" font-weight="normal" text-anchor="start" >CO</text>
<text x="373.6" y="444.1" font-size="5.4" fill="#333" font-weight="normal" text-anchor="start" >CH<tspan font-size="3.4" dy="1">4</tspan></text>
<text x="373.6" y="451.4" font-size="5.4" fill="#333" font-weight="normal" text-anchor="start" >C<tspan font-size="3.4" dy="1">2</tspan><tspan dy="-1">H</tspan><tspan font-size="3.4" dy="1">4</tspan></text>
<polygon points="235,499.8 352.9,499.8 352.9,497.4 360.8,501.75 352.9,506.1 352.9,503.7 235,503.7" fill="url(#jetarrow)"/>
<text x="298.8" y="504.9" font-size="7.1" fill="#1a1a40" font-weight="bold" text-anchor="middle" >Defects density</text>
<text x="242.5" y="512.9" font-size="7.7" fill="#0a0a0a" font-weight="normal" text-anchor="middle" >Low</text>
<text x="354.8" y="512.9" font-size="7.7" fill="#0a0a0a" font-weight="normal" text-anchor="middle" >High</text>
<rect x="368" y="380.4" width="25.4" height="20" fill="#64c83c"/>
<text x="380.7" y="394.5" font-size="11.8" fill="#000" font-weight="bold" text-anchor="middle" >(H)</text>
<rect x="404.7" y="395.4" width="126.80000000000001" height="100.90000000000003" fill="none" stroke="#858585" stroke-width="0.9"/>
<line x1="417.38" x2="417.38" y1="496.3" y2="497.90000000000003" stroke="#858585" stroke-width="0.6"/>
<text x="417.38" y="504.90000000000003" font-size="6.4" fill="#0a0a0a" font-weight="normal" text-anchor="middle" >500</text>
<line x1="438.51" x2="438.51" y1="496.3" y2="497.90000000000003" stroke="#858585" stroke-width="0.6"/>
<text x="438.51" y="504.90000000000003" font-size="6.4" fill="#0a0a0a" font-weight="normal" text-anchor="middle" >1000</text>
<line x1="459.65" x2="459.65" y1="496.3" y2="497.90000000000003" stroke="#858585" stroke-width="0.6"/>
<text x="459.65" y="504.90000000000003" font-size="6.4" fill="#0a0a0a" font-weight="normal" text-anchor="middle" >1500</text>
<line x1="480.78" x2="480.78" y1="496.3" y2="497.90000000000003" stroke="#858585" stroke-width="0.6"/>
<text x="480.78" y="504.90000000000003" font-size="6.4" fill="#0a0a0a" font-weight="normal" text-anchor="middle" >2000</text>
<line x1="501.91" x2="501.91" y1="496.3" y2="497.90000000000003" stroke="#858585" stroke-width="0.6"/>
<text x="501.91" y="504.90000000000003" font-size="6.4" fill="#0a0a0a" font-weight="normal" text-anchor="middle" >2500</text>
<line x1="523.05" x2="523.05" y1="496.3" y2="497.90000000000003" stroke="#858585" stroke-width="0.6"/>
<text x="523.05" y="504.90000000000003" font-size="6.4" fill="#0a0a0a" font-weight="normal" text-anchor="middle" >3000</text>
<line x1="406.81" x2="406.81" y1="496.3" y2="497.3" stroke="#858585" stroke-width="0.5"/>
<line x1="427.95" x2="427.95" y1="496.3" y2="497.3" stroke="#858585" stroke-width="0.5"/>
<line x1="449.08" x2="449.08" y1="496.3" y2="497.3" stroke="#858585" stroke-width="0.5"/>
<line x1="470.21" x2="470.21" y1="496.3" y2="497.3" stroke="#858585" stroke-width="0.5"/>
<line x1="491.35" x2="491.35" y1="496.3" y2="497.3" stroke="#858585" stroke-width="0.5"/>
<line x1="512.48" x2="512.48" y1="496.3" y2="497.3" stroke="#858585" stroke-width="0.5"/>
<text x="468.1" y="517.6" font-size="8.6" fill="#0a0a0a" font-weight="normal" text-anchor="middle" >Raman shift / cm<tspan font-size="5.5" dy="-3">-1</tspan></text>
<text x="400.1" y="445.8" font-size="8.6" fill="#0a0a0a" text-anchor="middle" transform="rotate(-90 400.1 445.8)">Intensity/a.u.</text>
<polyline points="404.70,489.33 404.84,492.08 404.98,490.99 405.12,492.23 405.26,491.28 405.41,491.94 405.55,490.28 405.69,491.21 405.83,493.12 405.97,489.36 406.11,491.66 406.25,492.16 406.39,490.94 406.53,491.27 406.67,491.77 406.82,489.91 406.96,490.95 407.10,489.71 407.24,489.90 407.38,489.96 407.52,490.43 407.66,490.71 407.80,491.01 407.94,489.20 408.09,492.51 408.23,491.71 408.37,491.29 408.51,490.24 408.65,490.51 408.79,491.13 408.93,491.00 409.07,488.97 409.21,491.33 409.35,493.44 409.50,488.82 409.64,491.58 409.78,490.98 409.92,490.52 410.06,491.96 410.20,489.48 410.34,490.79 410.48,492.05 410.62,490.45 410.76,490.24 410.91,490.76 411.05,490.22 411.19,492.15 411.33,489.78 411.47,491.50 411.61,489.45 411.75,491.31 411.89,490.57 412.03,488.18 412.18,490.67 412.32,489.65 412.46,490.26 412.60,492.17 412.74,489.61 412.88,489.67 413.02,492.08 413.16,490.81 413.30,492.19 413.44,491.02 413.59,489.86 413.73,490.65 413.87,491.90 414.01,491.62 414.15,490.72 414.29,490.77 414.43,490.62 414.57,490.18 414.71,492.59 414.86,490.75 415.00,489.66 415.14,490.29 415.28,491.44 415.42,491.37 415.56,490.63 415.70,490.12 415.84,490.79 415.98,489.17 416.12,489.53 416.27,491.54 416.41,490.32 416.55,491.14 416.69,491.94 416.83,491.41 416.97,490.81 417.11,492.82 417.25,491.43 417.39,490.46 417.54,491.50 417.68,491.19 417.82,490.00 417.96,490.88 418.10,490.66 418.24,488.96 418.38,490.66 418.52,490.56 418.66,490.42 418.80,489.28 418.95,490.50 419.09,490.80 419.23,490.94 419.37,489.78 419.51,491.45 419.65,489.71 419.79,490.65 419.93,492.09 420.07,490.21 420.22,490.39 420.36,491.88 420.50,490.51 420.64,490.60 420.78,491.09 420.92,491.87 421.06,488.82 421.20,490.11 421.34,489.95 421.48,489.88 421.63,490.10 421.77,490.12 421.91,491.19 422.05,490.08 422.19,491.03 422.33,491.29 422.47,490.24 422.61,491.05 422.75,492.45 422.89,491.23 423.04,490.34 423.18,490.88 423.32,490.09 423.46,491.20 423.60,491.75 423.74,490.19 423.88,490.76 424.02,491.99 424.16,490.50 424.31,491.14 424.45,490.02 424.59,490.21 424.73,490.50 424.87,492.94 425.01,490.61 425.15,490.51 425.29,490.48 425.43,490.84 425.57,491.58 425.72,491.17 425.86,492.85 426.00,491.21 426.14,492.33 426.28,491.28 426.42,491.59 426.56,489.76 426.70,490.95 426.84,491.02 426.99,490.87 427.13,489.16 427.27,491.91 427.41,490.78 427.55,490.74 427.69,490.92 427.83,490.95 427.97,491.54 428.11,490.04 428.25,490.35 428.40,491.46 428.54,491.34 428.68,490.89 428.82,490.72 428.96,490.50 429.10,491.21 429.24,492.33 429.38,490.33 429.52,492.66 429.67,492.06 429.81,490.91 429.95,492.03 430.09,490.02 430.23,489.79 430.37,490.20 430.51,491.00 430.65,491.09 430.79,490.93 430.93,491.49 431.08,489.49 431.22,491.87 431.36,490.16 431.50,490.85 431.64,491.09 431.78,490.43 431.92,490.25 432.06,490.59 432.20,491.49 432.34,492.04 432.49,492.03 432.63,490.64 432.77,490.83 432.91,490.73 433.05,491.97 433.19,489.75 433.33,492.71 433.47,491.17 433.61,490.91 433.76,491.93 433.90,492.57 434.04,491.96 434.18,492.61 434.32,491.79 434.46,492.79 434.60,492.81 434.74,491.61 434.88,493.01 435.02,491.87 435.17,491.81 435.31,490.92 435.45,491.50 435.59,492.47 435.73,490.60 435.87,492.38 436.01,492.12 436.15,492.06 436.29,489.84 436.44,491.74 436.58,492.43 436.72,491.17 436.86,491.95 437.00,489.74 437.14,492.50 437.28,491.31 437.42,492.70 437.56,490.27 437.70,492.56 437.85,491.73 437.99,492.69 438.13,491.14 438.27,491.42 438.41,494.01 438.55,491.24 438.69,491.31 438.83,491.66 438.97,490.95 439.12,492.90 439.26,493.34 439.40,491.12 439.54,490.16 439.68,492.72 439.82,492.63 439.96,492.33 440.10,492.59 440.24,490.73 440.38,491.32 440.53,490.18 440.67,490.11 440.81,492.23 440.95,490.70 441.09,493.32 441.23,491.30 441.37,490.61 441.51,491.87 441.65,492.73 441.79,491.51 441.94,489.93 442.08,491.32 442.22,492.19 442.36,490.46 442.50,490.16 442.64,491.76 442.78,490.92 442.92,489.72 443.06,490.35 443.21,489.96 443.35,490.91 443.49,490.69 443.63,491.65 443.77,491.19 443.91,488.96 444.05,490.82 444.19,491.26 444.33,490.79 444.47,491.32 444.62,489.72 444.76,489.28 444.90,491.12 445.04,489.08 445.18,487.93 445.32,491.10 445.46,489.29 445.60,489.67 445.74,488.51 445.89,488.54 446.03,488.67 446.17,489.45 446.31,490.17 446.45,487.33 446.59,490.50 446.73,488.41 446.87,488.49 447.01,490.31 447.15,489.47 447.30,487.85 447.44,491.47 447.58,488.49 447.72,489.66 447.86,489.57 448.00,490.86 448.14,488.76 448.28,490.35 448.42,488.36 448.57,490.41 448.71,488.25 448.85,488.66 448.99,491.18 449.13,489.34 449.27,489.04 449.41,491.44 449.55,489.20 449.69,487.75 449.83,489.51 449.98,487.17 450.12,489.86 450.26,489.90 450.40,487.68 450.54,487.54 450.68,488.46 450.82,488.19 450.96,486.89 451.10,488.76 451.25,485.40 451.39,487.36 451.53,487.33 451.67,487.42 451.81,488.11 451.95,486.04 452.09,488.35 452.23,487.27 452.37,486.58 452.51,485.55 452.66,485.72 452.80,487.73 452.94,485.86 453.08,487.20 453.22,488.50 453.36,488.40 453.50,489.08 453.64,486.43 453.78,485.25 453.92,488.15 454.07,487.08 454.21,488.18 454.35,486.52 454.49,488.17 454.63,487.61 454.77,487.36 454.91,486.98 455.05,486.76 455.19,486.45 455.34,486.38 455.48,487.46 455.62,485.13 455.76,488.48 455.90,485.61 456.04,487.22 456.18,485.50 456.32,485.19 456.46,488.67 456.60,484.95 456.75,483.36 456.89,484.18 457.03,484.73 457.17,488.62 457.31,485.44 457.45,486.55 457.59,483.36 457.73,485.52 457.87,486.00 458.02,487.81 458.16,483.68 458.30,485.78 458.44,485.24 458.58,483.01 458.72,484.63 458.86,484.18 459.00,480.70 459.14,485.55 459.28,485.41 459.43,483.72 459.57,482.16 459.71,486.89 459.85,484.79 459.99,486.03 460.13,486.67 460.27,483.33 460.41,485.58 460.55,483.73 460.70,483.99 460.84,483.91 460.98,484.02 461.12,485.92 461.26,484.16 461.40,483.63 461.54,483.38 461.68,484.42 461.82,482.20 461.96,482.85 462.11,483.61 462.25,482.65 462.39,483.41 462.53,482.49 462.67,487.14 462.81,485.89 462.95,484.27 463.09,483.32 463.23,487.36 463.37,483.93 463.52,483.14 463.66,483.82 463.80,483.78 463.94,485.77 464.08,483.11 464.22,486.98 464.36,481.43 464.50,484.31 464.64,481.12 464.79,486.33 464.93,482.28 465.07,482.75 465.21,484.56 465.35,485.15 465.49,480.64 465.63,482.04 465.77,480.01 465.91,482.88 466.05,482.39 466.20,481.87 466.34,481.19 466.48,481.72 466.62,480.98 466.76,483.40 466.90,485.28 467.04,478.55 467.18,482.03 467.32,481.40 467.47,483.14 467.61,480.27 467.75,481.81 467.89,480.01 468.03,483.40 468.17,482.21 468.31,481.73 468.45,482.81 468.59,481.63 468.73,479.10 468.88,483.35 469.02,482.78 469.16,481.95 469.30,484.20 469.44,484.68 469.58,480.23 469.72,480.87 469.86,485.40 470.00,485.18 470.15,481.06 470.29,480.25 470.43,481.33 470.57,481.63 470.71,479.60 470.85,482.71 470.99,480.25 471.13,480.43 471.27,484.48 471.41,481.50 471.56,482.68 471.70,484.03 471.84,484.41 471.98,482.29 472.12,483.03 472.26,481.45 472.40,486.26 472.54,484.26 472.68,481.04 472.83,483.13 472.97,484.47 473.11,484.07 473.25,486.57 473.39,485.76 473.53,482.30 473.67,483.16 473.81,481.02 473.95,483.84 474.09,483.69 474.24,488.33 474.38,483.66 474.52,479.76 474.66,482.35 474.80,483.79 474.94,481.38 475.08,482.11 475.22,483.04 475.36,484.32 475.50,483.46 475.65,482.22 475.79,485.21 475.93,482.90 476.07,483.01 476.21,481.50 476.35,482.58 476.49,485.12 476.63,481.22 476.77,483.95 476.92,485.35 477.06,483.51 477.20,484.61 477.34,482.34 477.48,486.53 477.62,486.21 477.76,484.78 477.90,481.46 478.04,482.71 478.18,486.15 478.33,487.43 478.47,485.10 478.61,486.72 478.75,483.69 478.89,484.42 479.03,484.78 479.17,485.52 479.31,482.37 479.45,486.45 479.60,487.11 479.74,483.14 479.88,482.86 480.02,485.66 480.16,484.09 480.30,481.39 480.44,486.51 480.58,485.52 480.72,484.56 480.86,488.69 481.01,485.62 481.15,484.27 481.29,485.65 481.43,483.92 481.57,484.40 481.71,486.22 481.85,484.82 481.99,485.02 482.13,488.31 482.28,487.11 482.42,487.07 482.56,486.69 482.70,486.67 482.84,488.17 482.98,486.00 483.12,488.84 483.26,484.70 483.40,485.78 483.54,484.17 483.69,485.74 483.83,487.05 483.97,488.46 484.11,485.42 484.25,486.44 484.39,485.95 484.53,485.45 484.67,484.86 484.81,486.69 484.95,484.19 485.10,486.85 485.24,486.77 485.38,485.86 485.52,485.41 485.66,484.94 485.80,489.52 485.94,485.10 486.08,489.15 486.22,487.88 486.37,486.60 486.51,485.56 486.65,488.60 486.79,489.57 486.93,486.01 487.07,486.92 487.21,488.77 487.35,487.85 487.49,490.10 487.63,486.74 487.78,488.25 487.92,485.95 488.06,490.36 488.20,486.72 488.34,484.86 488.48,487.60 488.62,487.63 488.76,490.30 488.90,487.47 489.05,487.92 489.19,488.73 489.33,490.02 489.47,487.99 489.61,489.40 489.75,488.79 489.89,487.81 490.03,488.32 490.17,488.29 490.31,487.18 490.46,489.82 490.60,486.69 490.74,489.83 490.88,489.60 491.02,488.38 491.16,487.62 491.30,488.30 491.44,489.17 491.58,489.53 491.73,489.03 491.87,489.89 492.01,488.11 492.15,489.08 492.29,487.03 492.43,489.76 492.57,489.10 492.71,488.48 492.85,490.32 492.99,489.82 493.14,485.89 493.28,489.16 493.42,487.52 493.56,490.39 493.70,492.00 493.84,488.70 493.98,489.39 494.12,489.07 494.26,489.77 494.41,490.13 494.55,490.86 494.69,488.44 494.83,491.23 494.97,488.59 495.11,489.92 495.25,490.89 495.39,490.45 495.53,488.75 495.67,489.04 495.82,489.34 495.96,489.80 496.10,491.08 496.24,488.61 496.38,490.45 496.52,490.63 496.66,490.62 496.80,490.56 496.94,491.65 497.08,490.65 497.23,491.06 497.37,490.80 497.51,492.05 497.65,488.46 497.79,491.61 497.93,490.15 498.07,490.17 498.21,489.55 498.35,488.73 498.50,490.19 498.64,489.94 498.78,491.10 498.92,489.29 499.06,492.05 499.20,491.00 499.34,490.56 499.48,490.18 499.62,490.15 499.76,489.88 499.91,490.45 500.05,490.99 500.19,490.86 500.33,489.79 500.47,490.86 500.61,490.34 500.75,491.32 500.89,492.90 501.03,491.82 501.18,491.01 501.32,489.87 501.46,490.10 501.60,489.90 501.74,492.11 501.88,490.80 502.02,491.56 502.16,490.95 502.30,491.60 502.44,492.78 502.59,490.91 502.73,491.23 502.87,490.81 503.01,492.33 503.15,490.63 503.29,490.53 503.43,490.31 503.57,490.30 503.71,491.99 503.86,493.89 504.00,490.69 504.14,492.44 504.28,491.82 504.42,490.61 504.56,491.36 504.70,491.40 504.84,490.99 504.98,493.36 505.12,489.91 505.27,491.98 505.41,491.94 505.55,491.12 505.69,491.78 505.83,492.44 505.97,491.80 506.11,492.04 506.25,492.29 506.39,489.85 506.53,493.01 506.68,493.74 506.82,492.58 506.96,492.61 507.10,490.44 507.24,491.60 507.38,490.98 507.52,491.19 507.66,492.60 507.80,491.01 507.95,491.62 508.09,490.03 508.23,491.61 508.37,491.84 508.51,491.13 508.65,491.12 508.79,493.47 508.93,490.69 509.07,490.84 509.21,491.06 509.36,492.87 509.50,493.69 509.64,492.10 509.78,491.16 509.92,491.43 510.06,492.78 510.20,491.01 510.34,493.14 510.48,493.11 510.63,491.91 510.77,492.43 510.91,492.53 511.05,493.26 511.19,490.92 511.33,492.93 511.47,491.54 511.61,491.19 511.75,491.98 511.89,491.70 512.04,491.01 512.18,490.47 512.32,491.06 512.46,493.22 512.60,493.69 512.74,492.51 512.88,493.00 513.02,491.47 513.16,491.87 513.31,492.20 513.45,490.98 513.59,491.07 513.73,492.05 513.87,491.68 514.01,491.02 514.15,492.33 514.29,491.75 514.43,492.91 514.57,491.99 514.72,491.72 514.86,492.10 515.00,491.82 515.14,491.37 515.28,491.60 515.42,492.63 515.56,492.52 515.70,493.09 515.84,490.40 515.98,491.56 516.13,491.54 516.27,492.06 516.41,491.49 516.55,491.42 516.69,492.58 516.83,492.03 516.97,490.81 517.11,493.05 517.25,492.74 517.40,491.32 517.54,492.57 517.68,491.16 517.82,492.82 517.96,491.60 518.10,491.07 518.24,491.45 518.38,491.09 518.52,491.94 518.66,491.92 518.81,491.78 518.95,491.24 519.09,488.44 519.23,491.81 519.37,490.01 519.51,491.93 519.65,492.72 519.79,491.94 519.93,491.33 520.08,491.51 520.22,491.55 520.36,491.16 520.50,491.13 520.64,490.81 520.78,492.70 520.92,491.61 521.06,492.48 521.20,491.38 521.34,491.67 521.49,491.44 521.63,492.00 521.77,492.32 521.91,491.78 522.05,490.95 522.19,490.85 522.33,493.04 522.47,491.28 522.61,491.26 522.76,492.84 522.90,492.49 523.04,491.98 523.18,491.13 523.32,493.60 523.46,491.83 523.60,491.96 523.74,491.30 523.88,490.18 524.02,490.24 524.17,491.80 524.31,491.78 524.45,491.20 524.59,490.35 524.73,490.10 524.87,491.10 525.01,490.07 525.15,492.18 525.29,492.40 525.44,493.90 525.58,492.14 525.72,490.81 525.86,490.55 526.00,488.22 526.14,490.78 526.28,491.15 526.42,492.17 526.56,491.84 526.70,491.81 526.85,491.47 526.99,491.86 527.13,492.56 527.27,490.29 527.41,490.83 527.55,489.98 527.69,492.68 527.83,492.38 527.97,491.89 528.11,490.12 528.26,491.35 528.40,490.97 528.54,491.25 528.68,491.00 528.82,491.63 528.96,490.79 529.10,491.91 529.24,491.35 529.38,490.86 529.53,491.02 529.67,490.71 529.81,491.83 529.95,490.85 530.09,491.35 530.23,490.72 530.37,489.73 530.51,491.87 530.65,490.10 530.79,491.65 530.94,491.41 531.08,489.53 531.22,490.17 531.36,490.55 531.50,490.26" fill="none" stroke="#ff2020" stroke-width="1.1" stroke-linejoin="round"/>
<polyline points="404.70,486.91 404.84,488.68 404.98,487.78 405.12,488.35 405.26,487.60 405.41,488.28 405.55,487.31 405.69,487.98 405.83,488.54 405.97,488.04 406.11,487.58 406.25,487.00 406.39,488.15 406.53,488.32 406.67,487.76 406.82,487.29 406.96,488.50 407.10,490.28 407.24,487.72 407.38,488.31 407.52,488.35 407.66,485.64 407.80,488.11 407.94,487.35 408.09,489.27 408.23,487.77 408.37,487.28 408.51,487.80 408.65,488.15 408.79,487.48 408.93,487.95 409.07,486.75 409.21,487.79 409.35,488.71 409.50,489.81 409.64,488.65 409.78,488.25 409.92,489.09 410.06,488.94 410.20,489.53 410.34,489.00 410.48,487.89 410.62,488.24 410.76,488.16 410.91,488.28 411.05,488.18 411.19,487.28 411.33,486.06 411.47,487.38 411.61,486.14 411.75,488.06 411.89,488.00 412.03,486.46 412.18,488.63 412.32,488.80 412.46,488.09 412.60,489.53 412.74,489.72 412.88,486.89 413.02,488.95 413.16,488.41 413.30,488.38 413.44,488.86 413.59,487.34 413.73,487.46 413.87,487.24 414.01,487.31 414.15,487.91 414.29,486.66 414.43,487.04 414.57,488.53 414.71,487.93 414.86,488.35 415.00,486.26 415.14,487.28 415.28,487.49 415.42,488.03 415.56,487.46 415.70,488.86 415.84,487.95 415.98,488.02 416.12,488.01 416.27,488.65 416.41,487.57 416.55,489.03 416.69,488.42 416.83,488.14 416.97,488.04 417.11,488.48 417.25,488.93 417.39,488.87 417.54,488.35 417.68,488.81 417.82,488.11 417.96,489.15 418.10,487.98 418.24,486.09 418.38,489.23 418.52,488.10 418.66,486.92 418.80,487.82 418.95,487.19 419.09,489.93 419.23,488.46 419.37,486.56 419.51,488.50 419.65,487.63 419.79,489.76 419.93,487.03 420.07,485.93 420.22,488.06 420.36,487.68 420.50,487.62 420.64,486.03 420.78,488.39 420.92,489.54 421.06,486.24 421.20,489.08 421.34,487.48 421.48,490.16 421.63,488.40 421.77,487.83 421.91,489.02 422.05,488.48 422.19,487.45 422.33,488.65 422.47,487.53 422.61,486.35 422.75,489.87 422.89,487.68 423.04,487.44 423.18,488.31 423.32,486.57 423.46,486.75 423.60,487.54 423.74,487.52 423.88,488.07 424.02,489.03 424.16,487.56 424.31,488.45 424.45,488.55 424.59,487.00 424.73,488.21 424.87,487.13 425.01,488.98 425.15,488.42 425.29,488.02 425.43,486.77 425.57,488.11 425.72,487.29 425.86,488.65 426.00,487.88 426.14,487.24 426.28,488.84 426.42,488.64 426.56,487.42 426.70,489.04 426.84,487.68 426.99,487.67 427.13,488.06 427.27,487.25 427.41,487.53 427.55,487.78 427.69,489.35 427.83,489.32 427.97,487.67 428.11,489.41 428.25,487.86 428.40,488.25 428.54,488.72 428.68,488.16 428.82,490.14 428.96,488.10 429.10,486.75 429.24,489.09 429.38,487.47 429.52,487.57 429.67,485.04 429.81,488.78 429.95,488.61 430.09,488.58 430.23,488.75 430.37,489.41 430.51,487.77 430.65,488.69 430.79,487.10 430.93,487.46 431.08,488.79 431.22,488.16 431.36,486.52 431.50,488.12 431.64,487.60 431.78,486.99 431.92,488.17 432.06,487.37 432.20,486.26 432.34,486.69 432.49,489.42 432.63,486.29 432.77,487.94 432.91,488.30 433.05,488.33 433.19,486.54 433.33,487.40 433.47,487.83 433.61,488.46 433.76,487.07 433.90,486.57 434.04,488.64 434.18,488.73 434.32,488.02 434.46,487.07 434.60,488.05 434.74,487.75 434.88,488.45 435.02,486.43 435.17,487.74 435.31,487.47 435.45,486.55 435.59,487.82 435.73,487.64 435.87,487.21 436.01,487.98 436.15,486.22 436.29,487.54 436.44,488.00 436.58,487.85 436.72,488.62 436.86,486.40 437.00,486.09 437.14,487.79 437.28,487.99 437.42,489.61 437.56,488.14 437.70,486.68 437.85,488.31 437.99,486.69 438.13,486.06 438.27,490.06 438.41,487.82 438.55,488.19 438.69,488.01 438.83,489.21 438.97,487.66 439.12,488.55 439.26,486.26 439.40,485.85 439.54,488.66 439.68,488.68 439.82,487.66 439.96,487.33 440.10,487.23 440.24,486.31 440.38,488.59 440.53,487.63 440.67,487.44 440.81,487.26 440.95,487.94 441.09,487.33 441.23,487.55 441.37,485.45 441.51,487.22 441.65,489.00 441.79,486.03 441.94,486.41 442.08,487.50 442.22,487.53 442.36,487.13 442.50,484.60 442.64,486.92 442.78,484.99 442.92,485.35 443.06,486.86 443.21,485.87 443.35,487.09 443.49,489.73 443.63,486.98 443.77,486.88 443.91,484.97 444.05,485.22 444.19,484.69 444.33,485.27 444.47,484.57 444.62,485.04 444.76,485.53 444.90,484.55 445.04,484.00 445.18,484.02 445.32,486.17 445.46,485.65 445.60,486.79 445.74,486.78 445.89,485.05 446.03,486.25 446.17,483.61 446.31,488.18 446.45,486.80 446.59,485.00 446.73,483.77 446.87,485.67 447.01,482.79 447.15,484.13 447.30,486.03 447.44,485.13 447.58,484.37 447.72,486.18 447.86,483.58 448.00,485.25 448.14,484.20 448.28,483.70 448.42,485.37 448.57,483.42 448.71,487.19 448.85,483.87 448.99,487.25 449.13,483.11 449.27,485.34 449.41,482.88 449.55,482.65 449.69,484.63 449.83,485.29 449.98,482.60 450.12,485.91 450.26,483.17 450.40,484.40 450.54,484.70 450.68,484.96 450.82,481.61 450.96,486.32 451.10,484.81 451.25,483.38 451.39,482.46 451.53,481.44 451.67,481.83 451.81,484.49 451.95,483.15 452.09,481.93 452.23,482.74 452.37,485.74 452.51,482.89 452.66,482.44 452.80,485.26 452.94,483.87 453.08,483.17 453.22,482.12 453.36,480.61 453.50,481.12 453.64,482.10 453.78,482.43 453.92,483.26 454.07,483.50 454.21,482.92 454.35,482.86 454.49,480.84 454.63,478.94 454.77,481.47 454.91,480.70 455.05,481.12 455.19,481.66 455.34,480.01 455.48,480.15 455.62,481.74 455.76,482.03 455.90,480.68 456.04,482.54 456.18,481.27 456.32,479.85 456.46,481.58 456.60,484.65 456.75,480.21 456.89,483.32 457.03,483.62 457.17,483.78 457.31,479.67 457.45,484.58 457.59,481.18 457.73,480.46 457.87,480.43 458.02,481.85 458.16,480.80 458.30,480.32 458.44,482.90 458.58,479.19 458.72,478.53 458.86,481.83 459.00,481.60 459.14,482.26 459.28,478.18 459.43,482.12 459.57,480.94 459.71,483.30 459.85,477.60 459.99,480.34 460.13,479.37 460.27,476.85 460.41,478.47 460.55,481.92 460.70,478.84 460.84,478.30 460.98,481.26 461.12,481.41 461.26,481.31 461.40,477.79 461.54,479.06 461.68,481.00 461.82,477.59 461.96,477.21 462.11,480.05 462.25,481.26 462.39,475.77 462.53,472.74 462.67,474.74 462.81,475.39 462.95,476.91 463.09,478.23 463.23,476.63 463.37,475.47 463.52,477.12 463.66,474.95 463.80,476.80 463.94,475.73 464.08,482.41 464.22,478.89 464.36,475.79 464.50,475.64 464.64,476.92 464.79,474.69 464.93,476.67 465.07,476.79 465.21,480.15 465.35,477.64 465.49,476.99 465.63,475.95 465.77,476.32 465.91,478.59 466.05,478.31 466.20,481.04 466.34,477.48 466.48,480.89 466.62,479.26 466.76,478.71 466.90,474.61 467.04,476.05 467.18,480.17 467.32,481.49 467.47,479.03 467.61,480.15 467.75,477.73 467.89,477.77 468.03,477.15 468.17,480.52 468.31,479.24 468.45,478.08 468.59,477.91 468.73,479.75 468.88,479.30 469.02,476.96 469.16,482.18 469.30,479.24 469.44,478.76 469.58,481.76 469.72,480.86 469.86,478.63 470.00,479.92 470.15,476.71 470.29,477.60 470.43,474.37 470.57,481.39 470.71,475.16 470.85,480.35 470.99,477.35 471.13,477.08 471.27,478.67 471.41,479.62 471.56,480.33 471.70,482.65 471.84,479.87 471.98,480.93 472.12,478.03 472.26,480.65 472.40,479.57 472.54,478.38 472.68,479.13 472.83,479.22 472.97,479.74 473.11,480.17 473.25,478.42 473.39,478.00 473.53,480.92 473.67,476.19 473.81,478.32 473.95,482.54 474.09,474.33 474.24,478.25 474.38,480.94 474.52,476.46 474.66,484.65 474.80,474.73 474.94,482.46 475.08,482.72 475.22,481.51 475.36,479.37 475.50,480.49 475.65,478.13 475.79,481.40 475.93,477.77 476.07,479.40 476.21,481.82 476.35,477.86 476.49,479.30 476.63,480.34 476.77,477.58 476.92,482.31 477.06,480.83 477.20,477.45 477.34,480.22 477.48,478.94 477.62,479.22 477.76,480.62 477.90,479.24 478.04,482.33 478.18,479.37 478.33,482.46 478.47,480.68 478.61,482.34 478.75,479.90 478.89,480.03 479.03,478.95 479.17,482.05 479.31,482.73 479.45,484.84 479.60,483.44 479.74,481.69 479.88,480.95 480.02,482.03 480.16,481.37 480.30,483.97 480.44,483.13 480.58,480.18 480.72,480.49 480.86,483.99 481.01,482.27 481.15,481.43 481.29,483.83 481.43,481.28 481.57,481.52 481.71,481.28 481.85,478.89 481.99,483.55 482.13,480.25 482.28,481.34 482.42,481.12 482.56,483.53 482.70,482.31 482.84,482.50 482.98,479.89 483.12,482.45 483.26,480.34 483.40,483.18 483.54,483.32 483.69,482.79 483.83,486.01 483.97,483.73 484.11,483.89 484.25,483.25 484.39,482.80 484.53,484.60 484.67,484.85 484.81,481.32 484.95,484.88 485.10,484.13 485.24,484.84 485.38,484.16 485.52,481.72 485.66,481.89 485.80,486.28 485.94,484.06 486.08,481.73 486.22,484.31 486.37,483.36 486.51,481.33 486.65,480.77 486.79,481.80 486.93,484.47 487.07,484.08 487.21,483.86 487.35,484.65 487.49,485.13 487.63,481.52 487.78,484.02 487.92,483.37 488.06,482.89 488.20,483.86 488.34,484.49 488.48,484.35 488.62,482.85 488.76,484.19 488.90,487.48 489.05,483.57 489.19,482.82 489.33,485.38 489.47,485.83 489.61,485.71 489.75,483.75 489.89,486.46 490.03,484.27 490.17,483.88 490.31,484.59 490.46,485.25 490.60,486.31 490.74,486.24 490.88,485.49 491.02,486.69 491.16,485.71 491.30,486.73 491.44,484.02 491.58,483.87 491.73,486.71 491.87,484.19 492.01,485.52 492.15,485.80 492.29,485.40 492.43,485.48 492.57,487.66 492.71,483.19 492.85,487.15 492.99,488.80 493.14,486.26 493.28,486.25 493.42,487.13 493.56,488.41 493.70,485.09 493.84,486.55 493.98,486.29 494.12,487.15 494.26,486.76 494.41,487.35 494.55,486.22 494.69,486.77 494.83,486.05 494.97,486.10 495.11,486.70 495.25,486.75 495.39,485.72 495.53,488.62 495.67,486.89 495.82,485.65 495.96,488.25 496.10,486.40 496.24,487.73 496.38,487.24 496.52,487.55 496.66,487.51 496.80,486.82 496.94,487.47 497.08,489.47 497.23,485.33 497.37,487.63 497.51,488.03 497.65,486.64 497.79,486.39 497.93,489.80 498.07,487.44 498.21,489.79 498.35,488.38 498.50,487.99 498.64,488.41 498.78,488.59 498.92,489.13 499.06,488.50 499.20,488.27 499.34,488.35 499.48,489.44 499.62,489.00 499.76,487.44 499.91,487.81 500.05,488.70 500.19,487.92 500.33,488.18 500.47,487.73 500.61,488.37 500.75,488.99 500.89,489.51 501.03,488.73 501.18,490.49 501.32,488.75 501.46,491.47 501.60,489.71 501.74,489.35 501.88,488.59 502.02,486.71 502.16,488.83 502.30,489.07 502.44,490.46 502.59,487.75 502.73,490.41 502.87,488.61 503.01,489.39 503.15,486.66 503.29,488.85 503.43,488.43 503.57,489.26 503.71,488.74 503.86,487.67 504.00,489.41 504.14,489.17 504.28,489.06 504.42,489.39 504.56,489.45 504.70,488.45 504.84,487.27 504.98,487.21 505.12,489.57 505.27,488.99 505.41,488.43 505.55,487.93 505.69,488.31 505.83,488.28 505.97,487.93 506.11,487.58 506.25,490.12 506.39,488.36 506.53,487.58 506.68,486.92 506.82,487.41 506.96,488.70 507.10,488.71 507.24,487.79 507.38,488.01 507.52,487.66 507.66,486.88 507.80,489.10 507.95,488.21 508.09,490.16 508.23,487.09 508.37,487.65 508.51,488.59 508.65,487.49 508.79,486.37 508.93,486.76 509.07,487.74 509.21,487.95 509.36,487.50 509.50,488.54 509.64,488.51 509.78,487.83 509.92,487.51 510.06,487.21 510.20,487.98 510.34,488.32 510.48,487.44 510.63,487.80 510.77,487.00 510.91,485.88 511.05,486.26 511.19,488.02 511.33,487.67 511.47,488.81 511.61,487.22 511.75,488.02 511.89,488.47 512.04,488.11 512.18,486.43 512.32,486.84 512.46,487.14 512.60,485.95 512.74,487.45 512.88,488.00 513.02,486.39 513.16,488.95 513.31,486.54 513.45,486.60 513.59,486.54 513.73,486.01 513.87,487.18 514.01,486.73 514.15,488.47 514.29,487.31 514.43,487.21 514.57,486.36 514.72,485.03 514.86,486.45 515.00,485.59 515.14,487.54 515.28,486.44 515.42,488.29 515.56,487.23 515.70,487.32 515.84,486.62 515.98,486.57 516.13,487.04 516.27,487.32 516.41,485.45 516.55,486.79 516.69,489.18 516.83,486.07 516.97,485.86 517.11,485.33 517.25,484.43 517.40,487.44 517.54,486.11 517.68,486.36 517.82,488.13 517.96,488.88 518.10,484.90 518.24,487.14 518.38,486.62 518.52,486.33 518.66,486.40 518.81,485.78 518.95,487.66 519.09,486.48 519.23,486.14 519.37,487.19 519.51,486.75 519.65,486.20 519.79,486.01 519.93,487.72 520.08,486.18 520.22,485.43 520.36,484.47 520.50,485.07 520.64,484.17 520.78,485.56 520.92,485.72 521.06,482.85 521.20,485.37 521.34,486.13 521.49,485.51 521.63,484.08 521.77,486.83 521.91,484.35 522.05,483.65 522.19,483.80 522.33,485.12 522.47,486.36 522.61,486.57 522.76,485.33 522.90,483.51 523.04,484.16 523.18,483.84 523.32,484.74 523.46,482.67 523.60,485.08 523.74,485.75 523.88,484.71 524.02,485.48 524.17,483.65 524.31,482.96 524.45,484.01 524.59,486.33 524.73,486.15 524.87,484.19 525.01,486.34 525.15,484.33 525.29,486.72 525.44,485.35 525.58,484.11 525.72,485.73 525.86,483.65 526.00,483.41 526.14,482.71 526.28,484.96 526.42,484.53 526.56,484.48 526.70,484.02 526.85,486.47 526.99,483.97 527.13,483.55 527.27,486.17 527.41,486.39 527.55,484.92 527.69,482.11 527.83,483.63 527.97,485.24 528.11,484.42 528.26,486.49 528.40,482.51 528.54,485.27 528.68,483.48 528.82,486.12 528.96,484.20 529.10,485.69 529.24,483.38 529.38,482.32 529.53,482.71 529.67,483.38 529.81,482.79 529.95,485.84 530.09,486.01 530.23,484.53 530.37,482.70 530.51,483.95 530.65,483.15 530.79,486.10 530.94,484.51 531.08,484.73 531.22,483.48 531.36,481.20 531.50,482.92" fill="none" stroke="#2a2aff" stroke-width="1.0" stroke-linejoin="round"/>
<polyline points="404.70,447.93 404.84,449.36 404.98,449.10 405.12,448.24 405.26,448.64 405.41,450.52 405.55,448.10 405.69,448.14 405.83,448.81 405.97,448.36 406.11,448.62 406.25,449.54 406.39,450.70 406.53,447.34 406.67,449.03 406.82,449.09 406.96,448.97 407.10,448.88 407.24,448.74 407.38,450.02 407.52,448.62 407.66,448.95 407.80,449.07 407.94,449.18 408.09,448.92 408.23,450.03 408.37,449.08 408.51,449.26 408.65,449.04 408.79,448.14 408.93,448.31 409.07,448.11 409.21,449.29 409.35,448.43 409.50,448.11 409.64,449.34 409.78,449.62 409.92,447.46 410.06,450.73 410.20,449.16 410.34,449.03 410.48,450.14 410.62,449.21 410.76,448.57 410.91,451.22 411.05,448.14 411.19,449.06 411.33,449.96 411.47,448.15 411.61,449.07 411.75,449.53 411.89,451.43 412.03,448.33 412.18,449.13 412.32,449.80 412.46,449.26 412.60,448.06 412.74,449.57 412.88,449.29 413.02,449.62 413.16,450.26 413.30,450.15 413.44,449.59 413.59,449.50 413.73,448.18 413.87,449.09 414.01,449.43 414.15,448.85 414.29,449.32 414.43,448.46 414.57,450.67 414.71,451.25 414.86,448.88 415.00,449.62 415.14,449.03 415.28,450.43 415.42,449.66 415.56,449.33 415.70,449.05 415.84,449.38 415.98,448.34 416.12,449.90 416.27,448.61 416.41,449.77 416.55,449.40 416.69,450.30 416.83,449.27 416.97,450.24 417.11,448.44 417.25,449.86 417.39,449.09 417.54,449.48 417.68,449.37 417.82,450.18 417.96,447.44 418.10,449.62 418.24,447.94 418.38,450.44 418.52,447.50 418.66,448.40 418.80,447.79 418.95,450.85 419.09,448.15 419.23,449.45 419.37,448.85 419.51,447.69 419.65,449.04 419.79,449.97 419.93,449.19 420.07,450.23 420.22,449.03 420.36,449.38 420.50,449.02 420.64,449.69 420.78,451.12 420.92,449.72 421.06,449.57 421.20,448.82 421.34,448.70 421.48,450.74 421.63,448.38 421.77,448.57 421.91,449.32 422.05,449.02 422.19,451.20 422.33,447.25 422.47,449.75 422.61,450.07 422.75,448.40 422.89,448.84 423.04,449.83 423.18,450.92 423.32,448.60 423.46,448.00 423.60,450.33 423.74,450.84 423.88,449.15 424.02,447.44 424.16,450.78 424.31,449.28 424.45,450.49 424.59,449.43 424.73,449.13 424.87,449.07 425.01,450.82 425.15,450.78 425.29,447.55 425.43,448.64 425.57,451.10 425.72,449.16 425.86,448.27 426.00,449.52 426.14,449.44 426.28,449.47 426.42,449.14 426.56,449.31 426.70,449.20 426.84,449.92 426.99,448.91 427.13,449.40 427.27,449.54 427.41,450.84 427.55,450.03 427.69,449.62 427.83,450.21 427.97,450.11 428.11,450.72 428.25,450.23 428.40,451.37 428.54,450.99 428.68,449.80 428.82,449.49 428.96,450.63 429.10,450.33 429.24,449.82 429.38,448.65 429.52,448.37 429.67,450.25 429.81,450.63 429.95,450.67 430.09,448.91 430.23,450.90 430.37,449.58 430.51,450.38 430.65,450.42 430.79,449.40 430.93,449.60 431.08,448.36 431.22,449.36 431.36,448.62 431.50,450.54 431.64,450.24 431.78,450.98 431.92,450.52 432.06,449.70 432.20,450.55 432.34,449.94 432.49,450.80 432.63,450.57 432.77,449.48 432.91,450.34 433.05,450.40 433.19,450.11 433.33,451.15 433.47,451.86 433.61,450.11 433.76,450.14 433.90,448.54 434.04,450.36 434.18,450.12 434.32,448.67 434.46,450.77 434.60,451.04 434.74,449.93 434.88,450.25 435.02,449.77 435.17,451.25 435.31,449.33 435.45,450.37 435.59,452.31 435.73,450.71 435.87,451.09 436.01,450.58 436.15,449.72 436.29,450.71 436.44,451.10 436.58,449.90 436.72,451.08 436.86,451.86 437.00,451.73 437.14,449.49 437.28,450.03 437.42,449.50 437.56,451.80 437.70,451.42 437.85,451.52 437.99,450.19 438.13,449.96 438.27,451.04 438.41,451.07 438.55,450.26 438.69,451.06 438.83,451.43 438.97,451.03 439.12,449.90 439.26,448.94 439.40,450.47 439.54,450.78 439.68,450.37 439.82,450.17 439.96,449.90 440.10,451.04 440.24,450.34 440.38,450.44 440.53,449.46 440.67,449.71 440.81,450.32 440.95,449.28 441.09,449.02 441.23,449.76 441.37,451.01 441.51,450.10 441.65,451.14 441.79,449.72 441.94,449.51 442.08,448.51 442.22,449.18 442.36,450.91 442.50,449.88 442.64,450.20 442.78,450.12 442.92,449.43 443.06,449.20 443.21,449.44 443.35,449.91 443.49,449.66 443.63,449.65 443.77,449.28 443.91,448.35 444.05,448.78 444.19,448.08 444.33,449.91 444.47,446.84 444.62,448.62 444.76,451.13 444.90,448.40 445.04,447.56 445.18,448.62 445.32,449.88 445.46,448.37 445.60,449.11 445.74,448.54 445.89,448.00 446.03,451.59 446.17,448.36 446.31,447.67 446.45,447.67 446.59,448.54 446.73,448.52 446.87,448.86 447.01,448.12 447.15,446.31 447.30,448.35 447.44,447.32 447.58,447.25 447.72,445.79 447.86,446.71 448.00,446.43 448.14,447.12 448.28,445.36 448.42,447.03 448.57,447.01 448.71,445.42 448.85,445.91 448.99,445.51 449.13,447.59 449.27,443.20 449.41,445.83 449.55,444.05 449.69,445.51 449.83,447.06 449.98,445.04 450.12,445.95 450.26,444.54 450.40,448.16 450.54,446.70 450.68,446.90 450.82,443.44 450.96,443.64 451.10,446.57 451.25,444.69 451.39,444.50 451.53,445.24 451.67,442.86 451.81,445.68 451.95,444.49 452.09,445.07 452.23,443.27 452.37,444.93 452.51,443.00 452.66,445.41 452.80,445.58 452.94,445.16 453.08,444.46 453.22,444.55 453.36,439.22 453.50,444.68 453.64,442.83 453.78,443.31 453.92,442.60 454.07,440.70 454.21,441.98 454.35,443.84 454.49,445.01 454.63,441.52 454.77,440.94 454.91,444.81 455.05,440.76 455.19,445.71 455.34,442.15 455.48,440.44 455.62,443.62 455.76,444.80 455.90,439.26 456.04,444.45 456.18,441.14 456.32,444.21 456.46,440.83 456.60,438.61 456.75,442.28 456.89,442.98 457.03,445.04 457.17,444.31 457.31,442.38 457.45,440.60 457.59,440.01 457.73,440.36 457.87,439.30 458.02,440.26 458.16,435.94 458.30,440.97 458.44,440.52 458.58,445.37 458.72,441.88 458.86,439.45 459.00,441.39 459.14,437.88 459.28,439.01 459.43,436.48 459.57,442.83 459.71,441.13 459.85,437.60 459.99,439.72 460.13,441.65 460.27,440.69 460.41,440.40 460.55,437.86 460.70,438.23 460.84,439.63 460.98,441.23 461.12,437.62 461.26,436.96 461.40,441.51 461.54,437.20 461.68,441.25 461.82,439.47 461.96,440.73 462.11,442.46 462.25,440.21 462.39,440.33 462.53,436.71 462.67,437.10 462.81,439.86 462.95,441.69 463.09,441.33 463.23,443.25 463.37,438.90 463.52,438.61 463.66,440.27 463.80,438.08 463.94,437.85 464.08,435.67 464.22,440.08 464.36,435.54 464.50,438.97 464.64,434.71 464.79,440.19 464.93,435.49 465.07,439.57 465.21,434.18 465.35,436.68 465.49,440.22 465.63,435.80 465.77,437.70 465.91,436.45 466.05,432.34 466.20,438.14 466.34,438.38 466.48,434.90 466.62,438.64 466.76,435.53 466.90,435.03 467.04,437.27 467.18,435.68 467.32,442.36 467.47,433.63 467.61,438.79 467.75,439.33 467.89,432.55 468.03,433.07 468.17,438.27 468.31,435.85 468.45,437.79 468.59,439.50 468.73,436.00 468.88,434.37 469.02,430.49 469.16,437.22 469.30,434.57 469.44,437.41 469.58,437.19 469.72,433.40 469.86,440.59 470.00,439.07 470.15,438.50 470.29,433.75 470.43,435.60 470.57,435.31 470.71,435.65 470.85,434.04 470.99,437.69 471.13,437.25 471.27,437.59 471.41,435.62 471.56,439.79 471.70,437.28 471.84,430.61 471.98,435.45 472.12,436.82 472.26,439.19 472.40,436.33 472.54,436.48 472.68,435.58 472.83,438.63 472.97,436.14 473.11,435.82 473.25,435.54 473.39,438.51 473.53,436.09 473.67,433.56 473.81,438.75 473.95,435.82 474.09,438.22 474.24,438.29 474.38,440.16 474.52,439.84 474.66,436.28 474.80,437.22 474.94,434.76 475.08,441.36 475.22,438.66 475.36,440.79 475.50,437.05 475.65,433.29 475.79,441.17 475.93,438.06 476.07,438.18 476.21,438.04 476.35,439.35 476.49,439.14 476.63,434.57 476.77,440.40 476.92,436.94 477.06,437.11 477.20,441.87 477.34,440.16 477.48,437.49 477.62,434.28 477.76,438.63 477.90,439.47 478.04,438.18 478.18,435.73 478.33,436.74 478.47,435.79 478.61,438.94 478.75,440.26 478.89,440.75 479.03,437.11 479.17,439.20 479.31,439.92 479.45,437.76 479.60,438.58 479.74,443.33 479.88,439.42 480.02,440.87 480.16,438.23 480.30,439.26 480.44,435.75 480.58,439.24 480.72,441.76 480.86,443.64 481.01,441.87 481.15,440.90 481.29,439.69 481.43,438.45 481.57,439.38 481.71,440.97 481.85,438.27 481.99,441.71 482.13,438.01 482.28,436.52 482.42,438.08 482.56,436.88 482.70,437.52 482.84,442.41 482.98,439.90 483.12,440.76 483.26,442.61 483.40,442.85 483.54,439.56 483.69,443.08 483.83,441.36 483.97,440.70 484.11,441.58 484.25,438.16 484.39,439.41 484.53,440.73 484.67,442.11 484.81,440.36 484.95,440.87 485.10,442.93 485.24,443.78 485.38,442.67 485.52,443.62 485.66,440.67 485.80,440.91 485.94,442.08 486.08,441.04 486.22,440.73 486.37,444.60 486.51,441.39 486.65,440.11 486.79,442.71 486.93,445.11 487.07,442.12 487.21,444.17 487.35,441.37 487.49,441.36 487.63,441.10 487.78,442.11 487.92,445.52 488.06,440.56 488.20,445.30 488.34,440.98 488.48,442.34 488.62,444.17 488.76,443.90 488.90,443.41 489.05,440.36 489.19,443.68 489.33,441.54 489.47,447.34 489.61,442.99 489.75,443.70 489.89,441.68 490.03,442.80 490.17,441.62 490.31,445.22 490.46,443.37 490.60,444.71 490.74,442.89 490.88,443.24 491.02,446.01 491.16,442.70 491.30,441.55 491.44,444.90 491.58,442.70 491.73,443.81 491.87,445.85 492.01,443.42 492.15,445.94 492.29,443.78 492.43,446.94 492.57,446.77 492.71,444.32 492.85,444.75 492.99,443.97 493.14,445.48 493.28,446.85 493.42,443.38 493.56,446.67 493.70,443.72 493.84,444.43 493.98,443.28 494.12,448.51 494.26,445.88 494.41,446.20 494.55,445.08 494.69,447.40 494.83,443.41 494.97,446.21 495.11,449.04 495.25,445.85 495.39,446.43 495.53,447.31 495.67,445.54 495.82,446.61 495.96,447.81 496.10,446.92 496.24,447.18 496.38,446.37 496.52,447.21 496.66,446.95 496.80,448.66 496.94,447.84 497.08,446.75 497.23,444.22 497.37,447.97 497.51,448.06 497.65,446.18 497.79,444.99 497.93,446.03 498.07,448.44 498.21,446.23 498.35,446.97 498.50,447.78 498.64,448.95 498.78,447.62 498.92,447.58 499.06,447.13 499.20,449.57 499.34,449.00 499.48,447.78 499.62,446.43 499.76,447.14 499.91,448.66 500.05,447.32 500.19,449.08 500.33,448.57 500.47,448.54 500.61,448.97 500.75,448.85 500.89,447.51 501.03,448.11 501.18,450.87 501.32,447.32 501.46,448.11 501.60,449.70 501.74,448.53 501.88,447.94 502.02,447.49 502.16,449.36 502.30,449.88 502.44,450.29 502.59,449.04 502.73,450.04 502.87,448.11 503.01,449.30 503.15,448.55 503.29,449.40 503.43,449.99 503.57,450.33 503.71,448.48 503.86,450.59 504.00,449.06 504.14,448.58 504.28,449.36 504.42,448.20 504.56,449.53 504.70,449.79 504.84,449.36 504.98,450.03 505.12,449.27 505.27,449.56 505.41,448.27 505.55,449.61 505.69,448.82 505.83,449.18 505.97,449.51 506.11,449.77 506.25,448.13 506.39,448.22 506.53,449.35 506.68,450.05 506.82,449.95 506.96,450.43 507.10,450.80 507.24,450.09 507.38,449.64 507.52,448.75 507.66,448.83 507.80,449.27 507.95,449.92 508.09,449.89 508.23,449.70 508.37,449.57 508.51,450.27 508.65,449.90 508.79,449.99 508.93,450.00 509.07,449.26 509.21,448.84 509.36,450.18 509.50,450.12 509.64,449.57 509.78,449.41 509.92,451.77 510.06,449.12 510.20,449.60 510.34,450.03 510.48,448.80 510.63,449.91 510.77,451.38 510.91,450.64 511.05,450.38 511.19,450.35 511.33,449.94 511.47,450.68 511.61,449.72 511.75,449.50 511.89,449.96 512.04,450.66 512.18,450.17 512.32,450.47 512.46,448.16 512.60,450.93 512.74,451.92 512.88,451.07 513.02,449.65 513.16,449.20 513.31,450.18 513.45,449.10 513.59,450.57 513.73,449.51 513.87,450.79 514.01,451.13 514.15,448.25 514.29,450.24 514.43,449.40 514.57,448.80 514.72,449.48 514.86,449.83 515.00,450.90 515.14,448.74 515.28,450.93 515.42,451.76 515.56,450.57 515.70,450.53 515.84,450.06 515.98,449.08 516.13,450.55 516.27,450.43 516.41,450.73 516.55,452.30 516.69,450.74 516.83,450.49 516.97,451.47 517.11,449.01 517.25,449.19 517.40,449.85 517.54,449.62 517.68,450.77 517.82,449.92 517.96,451.68 518.10,451.50 518.24,450.87 518.38,449.90 518.52,450.76 518.66,450.93 518.81,449.34 518.95,450.55 519.09,450.87 519.23,450.46 519.37,451.62 519.51,451.32 519.65,449.60 519.79,450.41 519.93,449.61 520.08,450.82 520.22,449.60 520.36,451.13 520.50,450.68 520.64,451.18 520.78,450.24 520.92,449.14 521.06,451.88 521.20,450.24 521.34,451.57 521.49,450.77 521.63,450.99 521.77,451.98 521.91,450.72 522.05,451.63 522.19,449.19 522.33,451.20 522.47,450.26 522.61,450.36 522.76,450.49 522.90,450.79 523.04,451.91 523.18,448.93 523.32,450.55 523.46,449.92 523.60,451.52 523.74,450.18 523.88,450.94 524.02,450.22 524.17,451.13 524.31,451.44 524.45,450.25 524.59,450.63 524.73,449.39 524.87,450.87 525.01,451.34 525.15,450.15 525.29,451.59 525.44,448.88 525.58,449.08 525.72,449.48 525.86,450.25 526.00,450.69 526.14,450.62 526.28,450.63 526.42,451.31 526.56,450.31 526.70,449.64 526.85,449.67 526.99,452.53 527.13,448.74 527.27,450.60 527.41,452.00 527.55,451.18 527.69,450.07 527.83,450.78 527.97,451.53 528.11,451.83 528.26,450.04 528.40,451.46 528.54,451.04 528.68,451.77 528.82,452.02 528.96,450.56 529.10,449.63 529.24,451.20 529.38,452.38 529.53,451.47 529.67,451.09 529.81,452.94 529.95,450.02 530.09,451.68 530.23,450.44 530.37,450.98 530.51,451.02 530.65,452.24 530.79,450.16 530.94,450.51 531.08,449.62 531.22,451.40 531.36,450.60 531.50,451.36" fill="none" stroke="#ff2020" stroke-width="1.1" stroke-linejoin="round"/>
<polyline points="404.70,448.25 404.84,448.74 404.98,449.71 405.12,448.85 405.26,449.41 405.41,449.33 405.55,448.70 405.69,447.84 405.83,449.63 405.97,449.05 406.11,449.61 406.25,447.48 406.39,447.72 406.53,447.37 406.67,448.26 406.82,449.62 406.96,449.27 407.10,448.83 407.24,448.94 407.38,449.39 407.52,448.62 407.66,449.11 407.80,448.92 407.94,447.23 408.09,448.52 408.23,449.77 408.37,448.50 408.51,448.67 408.65,448.33 408.79,448.41 408.93,449.57 409.07,448.55 409.21,447.99 409.35,446.46 409.50,448.30 409.64,447.27 409.78,447.37 409.92,449.27 410.06,449.20 410.20,447.27 410.34,449.29 410.48,449.00 410.62,448.07 410.76,449.18 410.91,447.43 411.05,447.73 411.19,447.55 411.33,447.78 411.47,449.25 411.61,447.60 411.75,447.73 411.89,447.87 412.03,448.71 412.18,448.30 412.32,449.19 412.46,448.01 412.60,447.57 412.74,448.15 412.88,448.54 413.02,447.81 413.16,448.71 413.30,449.86 413.44,448.04 413.59,448.50 413.73,449.48 413.87,447.96 414.01,447.80 414.15,447.60 414.29,448.73 414.43,448.81 414.57,448.29 414.71,448.43 414.86,449.36 415.00,449.04 415.14,447.30 415.28,448.35 415.42,448.43 415.56,448.89 415.70,448.16 415.84,447.83 415.98,447.96 416.12,446.93 416.27,448.28 416.41,447.83 416.55,448.64 416.69,447.47 416.83,447.92 416.97,447.49 417.11,447.41 417.25,448.78 417.39,447.86 417.54,448.56 417.68,447.33 417.82,448.27 417.96,446.87 418.10,447.80 418.24,447.78 418.38,448.62 418.52,448.29 418.66,448.00 418.80,448.79 418.95,448.28 419.09,448.54 419.23,448.71 419.37,448.05 419.51,447.86 419.65,448.34 419.79,447.74 419.93,448.37 420.07,448.94 420.22,448.73 420.36,447.73 420.50,447.01 420.64,447.98 420.78,447.91 420.92,448.89 421.06,447.69 421.20,447.82 421.34,448.57 421.48,447.59 421.63,447.84 421.77,449.35 421.91,449.18 422.05,448.50 422.19,448.22 422.33,447.25 422.47,448.48 422.61,448.09 422.75,448.23 422.89,447.65 423.04,448.07 423.18,447.94 423.32,448.35 423.46,449.23 423.60,448.40 423.74,446.83 423.88,447.38 424.02,446.91 424.16,447.54 424.31,448.61 424.45,448.50 424.59,447.73 424.73,448.42 424.87,447.63 425.01,447.13 425.15,447.15 425.29,447.59 425.43,449.36 425.57,447.24 425.72,449.24 425.86,449.32 426.00,448.17 426.14,448.28 426.28,447.86 426.42,448.32 426.56,448.85 426.70,448.37 426.84,449.13 426.99,449.29 427.13,448.66 427.27,448.66 427.41,448.37 427.55,448.69 427.69,447.60 427.83,448.76 427.97,448.62 428.11,447.83 428.25,450.10 428.40,447.77 428.54,447.86 428.68,448.73 428.82,447.09 428.96,447.95 429.10,447.42 429.24,447.85 429.38,448.48 429.52,448.82 429.67,449.41 429.81,449.20 429.95,449.49 430.09,449.06 430.23,448.30 430.37,449.47 430.51,448.31 430.65,448.23 430.79,449.80 430.93,449.27 431.08,448.87 431.22,449.26 431.36,449.37 431.50,447.76 431.64,448.68 431.78,447.91 431.92,448.86 432.06,448.30 432.20,449.77 432.34,449.18 432.49,448.24 432.63,448.82 432.77,447.98 432.91,448.88 433.05,449.25 433.19,449.06 433.33,447.52 433.47,448.66 433.61,449.27 433.76,449.13 433.90,449.74 434.04,448.04 434.18,449.32 434.32,448.50 434.46,449.06 434.60,449.17 434.74,449.34 434.88,448.41 435.02,448.92 435.17,447.91 435.31,447.69 435.45,449.09 435.59,448.61 435.73,447.43 435.87,447.95 436.01,448.56 436.15,449.68 436.29,449.26 436.44,449.05 436.58,447.06 436.72,448.31 436.86,448.71 437.00,448.62 437.14,448.60 437.28,448.07 437.42,449.58 437.56,449.33 437.70,448.07 437.85,447.34 437.99,449.70 438.13,447.61 438.27,448.97 438.41,449.51 438.55,447.17 438.69,448.10 438.83,447.52 438.97,448.16 439.12,447.93 439.26,449.24 439.40,448.03 439.54,447.46 439.68,448.37 439.82,447.09 439.96,446.94 440.10,449.17 440.24,446.40 440.38,446.62 440.53,447.03 440.67,445.96 440.81,444.92 440.95,447.77 441.09,445.99 441.23,446.15 441.37,446.24 441.51,445.59 441.65,445.43 441.79,446.55 441.94,448.66 442.08,446.98 442.22,446.93 442.36,444.62 442.50,446.03 442.64,444.79 442.78,446.68 442.92,445.49 443.06,445.59 443.21,445.29 443.35,444.58 443.49,443.36 443.63,445.53 443.77,443.13 443.91,443.18 444.05,444.03 444.19,443.37 444.33,444.36 444.47,445.12 444.62,444.02 444.76,443.79 444.90,443.40 445.04,444.32 445.18,440.60 445.32,443.36 445.46,441.44 445.60,440.84 445.74,442.37 445.89,441.65 446.03,442.86 446.17,443.45 446.31,438.30 446.45,441.42 446.59,444.28 446.73,442.50 446.87,443.23 447.01,440.99 447.15,438.36 447.30,438.61 447.44,441.33 447.58,441.53 447.72,438.53 447.86,439.08 448.00,439.76 448.14,436.06 448.28,438.26 448.42,441.53 448.57,442.37 448.71,438.02 448.85,441.38 448.99,436.80 449.13,436.03 449.27,433.07 449.41,438.98 449.55,436.18 449.69,441.32 449.83,437.14 449.98,436.64 450.12,432.34 450.26,438.92 450.40,434.84 450.54,435.03 450.68,430.43 450.82,436.92 450.96,436.83 451.10,433.06 451.25,434.33 451.39,434.72 451.53,435.65 451.67,433.24 451.81,436.33 451.95,431.07 452.09,429.29 452.23,428.53 452.37,422.51 452.51,425.34 452.66,428.49 452.80,425.77 452.94,422.48 453.08,424.93 453.22,419.20 453.36,423.75 453.50,426.37 453.64,427.64 453.78,424.93 453.92,430.05 454.07,433.30 454.21,428.23 454.35,431.73 454.49,426.25 454.63,425.43 454.77,432.16 454.91,430.72 455.05,431.10 455.19,428.98 455.34,429.63 455.48,432.46 455.62,434.82 455.76,429.62 455.90,425.73 456.04,433.47 456.18,431.62 456.32,431.77 456.46,430.36 456.60,436.08 456.75,429.94 456.89,431.06 457.03,424.55 457.17,427.95 457.31,427.59 457.45,429.32 457.59,430.29 457.73,427.20 457.87,433.98 458.02,426.18 458.16,427.81 458.30,429.66 458.44,425.43 458.58,430.46 458.72,430.57 458.86,427.90 459.00,434.05 459.14,428.82 459.28,429.32 459.43,425.73 459.57,423.62 459.71,426.54 459.85,427.40 459.99,426.99 460.13,430.47 460.27,421.40 460.41,424.96 460.55,422.94 460.70,432.00 460.84,426.47 460.98,426.55 461.12,424.76 461.26,430.39 461.40,426.40 461.54,427.93 461.68,420.97 461.82,429.63 461.96,426.56 462.11,425.96 462.25,426.62 462.39,420.90 462.53,419.20 462.67,419.87 462.81,417.10 462.95,413.34 463.09,412.65 463.23,409.92 463.37,412.87 463.52,413.47 463.66,411.27 463.80,417.82 463.94,409.24 464.08,414.81 464.22,422.40 464.36,417.99 464.50,416.25 464.64,426.62 464.79,425.41 464.93,421.30 465.07,427.91 465.21,423.16 465.35,422.62 465.49,426.40 465.63,425.59 465.77,423.85 465.91,426.07 466.05,424.18 466.20,427.35 466.34,427.09 466.48,429.37 466.62,425.76 466.76,423.11 466.90,423.12 467.04,426.31 467.18,431.63 467.32,429.54 467.47,425.04 467.61,429.78 467.75,423.43 467.89,429.95 468.03,425.72 468.17,429.19 468.31,428.78 468.45,426.11 468.59,427.96 468.73,423.81 468.88,426.82 469.02,430.32 469.16,439.37 469.30,429.25 469.44,427.44 469.58,424.19 469.72,430.40 469.86,422.35 470.00,424.93 470.15,428.41 470.29,423.81 470.43,431.97 470.57,430.68 470.71,425.80 470.85,425.88 470.99,423.66 471.13,423.46 471.27,428.92 471.41,429.48 471.56,428.71 471.70,428.49 471.84,426.11 471.98,428.84 472.12,423.52 472.26,427.87 472.40,432.18 472.54,431.77 472.68,426.60 472.83,427.01 472.97,432.01 473.11,433.23 473.25,423.76 473.39,426.89 473.53,428.83 473.67,431.70 473.81,425.81 473.95,430.10 474.09,427.42 474.24,435.13 474.38,429.59 474.52,428.00 474.66,427.46 474.80,431.47 474.94,430.43 475.08,425.44 475.22,429.17 475.36,424.79 475.50,426.48 475.65,424.99 475.79,424.94 475.93,426.78 476.07,425.99 476.21,430.28 476.35,431.07 476.49,428.19 476.63,425.75 476.77,431.18 476.92,423.29 477.06,423.59 477.20,431.06 477.34,430.89 477.48,431.81 477.62,428.53 477.76,425.65 477.90,427.78 478.04,430.80 478.18,427.14 478.33,427.35 478.47,425.47 478.61,426.15 478.75,431.72 478.89,430.68 479.03,426.27 479.17,426.53 479.31,427.99 479.45,431.07 479.60,426.40 479.74,429.17 479.88,423.81 480.02,426.27 480.16,430.88 480.30,432.21 480.44,426.66 480.58,427.74 480.72,432.03 480.86,428.89 481.01,428.60 481.15,431.56 481.29,430.80 481.43,433.34 481.57,432.60 481.71,429.10 481.85,430.42 481.99,430.69 482.13,427.44 482.28,428.55 482.42,433.68 482.56,427.23 482.70,433.94 482.84,432.24 482.98,431.28 483.12,433.09 483.26,433.04 483.40,434.97 483.54,431.08 483.69,431.62 483.83,431.70 483.97,437.00 484.11,434.82 484.25,430.40 484.39,431.95 484.53,431.17 484.67,433.00 484.81,433.59 484.95,438.60 485.10,429.03 485.24,435.82 485.38,434.55 485.52,432.02 485.66,433.41 485.80,432.74 485.94,434.09 486.08,436.37 486.22,430.79 486.37,437.26 486.51,433.60 486.65,437.87 486.79,435.56 486.93,437.47 487.07,436.11 487.21,437.36 487.35,435.26 487.49,433.50 487.63,436.84 487.78,437.04 487.92,440.08 488.06,431.64 488.20,435.54 488.34,438.26 488.48,433.66 488.62,435.89 488.76,440.75 488.90,439.45 489.05,435.01 489.19,439.70 489.33,439.34 489.47,438.67 489.61,438.03 489.75,437.88 489.89,435.91 490.03,436.72 490.17,439.20 490.31,438.23 490.46,441.51 490.60,437.62 490.74,434.01 490.88,437.90 491.02,439.13 491.16,439.45 491.30,439.03 491.44,437.61 491.58,441.76 491.73,438.17 491.87,440.65 492.01,439.09 492.15,437.71 492.29,442.19 492.43,435.85 492.57,438.73 492.71,440.95 492.85,439.81 492.99,441.71 493.14,440.50 493.28,440.08 493.42,444.26 493.56,440.70 493.70,440.91 493.84,439.63 493.98,440.26 494.12,442.45 494.26,442.43 494.41,441.72 494.55,440.81 494.69,442.92 494.83,439.62 494.97,441.68 495.11,441.92 495.25,441.21 495.39,442.71 495.53,441.70 495.67,441.63 495.82,445.26 495.96,443.93 496.10,444.64 496.24,443.24 496.38,444.54 496.52,444.40 496.66,445.05 496.80,446.61 496.94,443.45 497.08,444.17 497.23,443.89 497.37,439.79 497.51,442.50 497.65,444.31 497.79,445.15 497.93,443.84 498.07,445.94 498.21,446.21 498.35,444.38 498.50,446.56 498.64,447.02 498.78,445.70 498.92,444.23 499.06,446.99 499.20,445.35 499.34,445.24 499.48,445.87 499.62,445.30 499.76,447.06 499.91,446.79 500.05,447.24 500.19,446.59 500.33,445.19 500.47,445.84 500.61,446.89 500.75,445.59 500.89,448.96 501.03,445.75 501.18,445.40 501.32,447.17 501.46,446.76 501.60,445.97 501.74,445.77 501.88,446.43 502.02,446.85 502.16,446.77 502.30,445.69 502.44,446.44 502.59,446.86 502.73,446.78 502.87,442.87 503.01,445.10 503.15,445.21 503.29,445.77 503.43,446.18 503.57,446.94 503.71,446.63 503.86,445.87 504.00,446.02 504.14,447.70 504.28,445.12 504.42,445.95 504.56,447.17 504.70,445.74 504.84,442.99 504.98,445.51 505.12,444.53 505.27,444.70 505.41,445.90 505.55,445.11 505.69,444.12 505.83,445.36 505.97,444.69 506.11,444.16 506.25,444.27 506.39,444.08 506.53,443.20 506.68,442.91 506.82,443.39 506.96,441.98 507.10,441.43 507.24,444.69 507.38,442.50 507.52,442.66 507.66,442.37 507.80,442.46 507.95,442.32 508.09,442.25 508.23,440.87 508.37,443.24 508.51,440.75 508.65,443.15 508.79,438.63 508.93,439.76 509.07,442.73 509.21,440.86 509.36,439.92 509.50,441.41 509.64,439.05 509.78,440.68 509.92,436.88 510.06,439.56 510.20,439.10 510.34,440.91 510.48,441.39 510.63,438.46 510.77,442.49 510.91,438.75 511.05,436.23 511.19,435.60 511.33,442.15 511.47,439.33 511.61,438.31 511.75,438.06 511.89,437.40 512.04,441.55 512.18,439.00 512.32,442.20 512.46,438.66 512.60,434.82 512.74,440.37 512.88,438.16 513.02,438.32 513.16,441.47 513.31,438.14 513.45,440.63 513.59,438.47 513.73,437.05 513.87,439.27 514.01,437.18 514.15,440.46 514.29,439.91 514.43,438.19 514.57,439.14 514.72,438.99 514.86,437.36 515.00,439.49 515.14,437.31 515.28,438.84 515.42,435.81 515.56,437.74 515.70,438.27 515.84,435.90 515.98,436.54 516.13,436.25 516.27,438.62 516.41,435.75 516.55,437.94 516.69,440.00 516.83,437.65 516.97,433.70 517.11,437.07 517.25,438.82 517.40,436.12 517.54,438.84 517.68,437.80 517.82,437.34 517.96,435.89 518.10,435.32 518.24,435.77 518.38,436.35 518.52,437.23 518.66,436.96 518.81,435.41 518.95,436.20 519.09,436.90 519.23,432.82 519.37,434.62 519.51,434.61 519.65,435.87 519.79,435.77 519.93,435.85 520.08,434.66 520.22,437.83 520.36,437.07 520.50,433.26 520.64,436.63 520.78,434.39 520.92,440.09 521.06,435.83 521.20,436.00 521.34,436.99 521.49,436.48 521.63,436.80 521.77,440.01 521.91,437.45 522.05,438.69 522.19,439.30 522.33,435.24 522.47,440.47 522.61,438.56 522.76,439.13 522.90,435.65 523.04,438.94 523.18,438.20 523.32,436.42 523.46,441.86 523.60,438.62 523.74,437.13 523.88,438.00 524.02,439.40 524.17,439.86 524.31,438.86 524.45,440.10 524.59,440.61 524.73,435.59 524.87,437.04 525.01,436.24 525.15,438.21 525.29,440.86 525.44,439.57 525.58,436.68 525.72,438.22 525.86,440.73 526.00,438.17 526.14,439.10 526.28,439.97 526.42,436.55 526.56,441.11 526.70,440.55 526.85,441.09 526.99,438.76 527.13,439.29 527.27,439.75 527.41,441.26 527.55,441.16 527.69,441.42 527.83,444.09 527.97,443.52 528.11,440.71 528.26,440.99 528.40,444.56 528.54,441.84 528.68,444.38 528.82,444.84 528.96,442.09 529.10,442.64 529.24,443.29 529.38,442.24 529.53,442.29 529.67,443.21 529.81,444.95 529.95,443.52 530.09,444.00 530.23,443.87 530.37,443.01 530.51,446.48 530.65,442.31 530.79,444.41 530.94,445.92 531.08,443.99 531.22,446.30 531.36,447.14 531.50,445.15" fill="none" stroke="#2a2aff" stroke-width="1.0" stroke-linejoin="round"/>
<line x1="423.3" x2="434.6" y1="399.6" y2="399.6" stroke="#ff2020" stroke-width="1"/>
<line x1="423.3" x2="434.6" y1="405.5" y2="405.5" stroke="#3030ff" stroke-width="1.8"/>
<text x="436.8" y="401.6" font-size="5.55" fill="#0a0a0a" font-weight="normal" text-anchor="start" >annealed CuNNs</text>
<text x="436.8" y="407.5" font-size="5.55" fill="#0a0a0a" font-weight="normal" text-anchor="start" >annealed CuNNs after electrolysis(3h)</text>
<circle cx="429.6" cy="462" r="0.8" fill="#ff2020"/>
<circle cx="429.6" cy="468.6" r="0.8" fill="#3030ff"/>
<text x="436.8" y="463.9" font-size="5.55" fill="#0a0a0a" font-weight="normal" text-anchor="start" >OT-CuNNs</text>
<text x="436.8" y="470.5" font-size="5.55" fill="#0a0a0a" font-weight="normal" text-anchor="start" >OT-CuNNs after electrolysis(3h)</text>
<line x1="452.9" x2="452.9" y1="420.5" y2="423.5" stroke="#ff30ff" stroke-width="1.1"/>
<line x1="452.9" x2="452.9" y1="431" y2="433.5" stroke="#ff30ff" stroke-width="1.1"/>
<line x1="452.9" x2="452.9" y1="441" y2="443.5" stroke="#ff30ff" stroke-width="1.1"/>
<line x1="452.9" x2="452.9" y1="448" y2="451" stroke="#ff30ff" stroke-width="1.1"/>
<line x1="452.9" x2="452.9" y1="475.5" y2="478" stroke="#ff30ff" stroke-width="1.1"/>
<line x1="452.9" x2="452.9" y1="484.5" y2="488" stroke="#ff30ff" stroke-width="1.1"/>
<line x1="463.8" x2="463.8" y1="408.3" y2="410.5" stroke="#ff30ff" stroke-width="1.1"/>
<line x1="463.8" x2="463.8" y1="422.5" y2="424.5" stroke="#ff30ff" stroke-width="1.1"/>
<line x1="463.8" x2="463.8" y1="428" y2="430.5" stroke="#ff30ff" stroke-width="1.1"/>
<line x1="463.8" x2="463.8" y1="441" y2="444.5" stroke="#ff30ff" stroke-width="1.1"/>
<line x1="463.8" x2="463.8" y1="482.5" y2="485" stroke="#ff30ff" stroke-width="1.1"/>
<line x1="463.8" x2="463.8" y1="487" y2="489.5" stroke="#ff30ff" stroke-width="1.1"/>
</svg></body></html>
